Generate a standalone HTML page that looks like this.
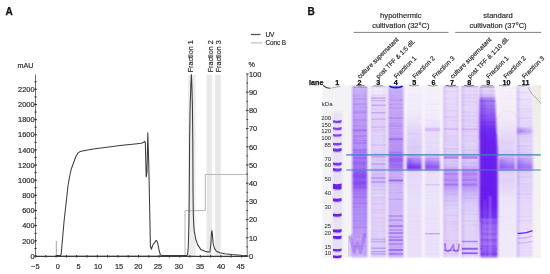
<!DOCTYPE html>
<html><head><meta charset="utf-8"><style>
html,body{margin:0;padding:0;background:#fff;}
body{width:550px;height:274px;overflow:hidden;position:relative;}
svg{position:absolute;left:0;top:0;}
svg text{font-family:'Liberation Sans', Arial, sans-serif;}
.t{fill:#2a2a2a;stroke:#2a2a2a;stroke-width:0.18px;}
.b{fill:#111;stroke:#111;stroke-width:0.25px;}
</style></head><body>
<svg width="550" height="274" viewBox="0 0 550 274">
<defs>
<filter id="bl" x="-20%" y="-200%" width="140%" height="500%"><feGaussianBlur stdDeviation="0.55 0.6"/></filter>
<filter id="bl2" x="-20%" y="-20%" width="140%" height="140%"><feGaussianBlur stdDeviation="0.9"/></filter>
<filter id="bl3" x="-30%" y="-60%" width="160%" height="220%"><feGaussianBlur stdDeviation="1.0 1.3"/></filter>
<linearGradient id="vb" x1="0" y1="0" x2="0" y2="1"><stop offset="0" stop-color="rgb(105,30,238)" stop-opacity="0.25"/><stop offset="0.45" stop-color="rgb(105,30,238)" stop-opacity="0.6"/><stop offset="0.8" stop-color="rgb(100,25,238)" stop-opacity="1"/><stop offset="1" stop-color="rgb(100,25,238)" stop-opacity="0.85"/></linearGradient>
<linearGradient id="hb" x1="0" y1="0" x2="1" y2="0"><stop offset="0" stop-color="rgb(90,20,235)" stop-opacity="1"/><stop offset="1" stop-color="rgb(90,20,235)" stop-opacity="0"/></linearGradient>
<linearGradient id="rg" x1="0" y1="0" x2="0" y2="1"><stop offset="0" stop-color="#eeebe2"/><stop offset="0.35" stop-color="#f3f1ee"/><stop offset="1" stop-color="#f6f3f5"/></linearGradient>
<linearGradient id="hg" x1="0" y1="0" x2="1" y2="0"><stop offset="0" stop-color="rgb(95,25,235)" stop-opacity="1"/><stop offset="0.55" stop-color="rgb(105,30,238)" stop-opacity="0.8"/><stop offset="1" stop-color="rgb(115,45,238)" stop-opacity="0.55"/></linearGradient>
<linearGradient id="g2" x1="0" y1="85.3" x2="0" y2="257.8" gradientUnits="userSpaceOnUse">
<stop offset="0.0070" stop-color="rgb(105, 30, 238)" stop-opacity="0.3"/>
<stop offset="0.0562" stop-color="rgb(105, 30, 238)" stop-opacity="0.34"/>
<stop offset="0.1432" stop-color="rgb(105, 30, 238)" stop-opacity="0.37"/>
<stop offset="0.2591" stop-color="rgb(105, 30, 238)" stop-opacity="0.42"/>
<stop offset="0.3461" stop-color="rgb(105, 30, 238)" stop-opacity="0.47"/>
<stop offset="0.4041" stop-color="rgb(105, 30, 238)" stop-opacity="0.56"/>
<stop offset="0.4794" stop-color="rgb(105, 30, 238)" stop-opacity="0.6"/>
<stop offset="0.5084" stop-color="rgb(105, 30, 238)" stop-opacity="0.74"/>
<stop offset="0.5780" stop-color="rgb(105, 30, 238)" stop-opacity="0.72"/>
<stop offset="0.6186" stop-color="rgb(105, 30, 238)" stop-opacity="0.58"/>
<stop offset="0.6939" stop-color="rgb(105, 30, 238)" stop-opacity="0.5"/>
<stop offset="0.8099" stop-color="rgb(105, 30, 238)" stop-opacity="0.45"/>
<stop offset="0.8794" stop-color="rgb(105, 30, 238)" stop-opacity="0.38"/>
<stop offset="0.9954" stop-color="rgb(105, 30, 238)" stop-opacity="0.32"/>
</linearGradient>
<linearGradient id="g3" x1="0" y1="85.3" x2="0" y2="257.8" gradientUnits="userSpaceOnUse">
<stop offset="0.0070" stop-color="rgb(105, 30, 238)" stop-opacity="0.03"/>
<stop offset="0.0504" stop-color="rgb(105, 30, 238)" stop-opacity="0.05"/>
<stop offset="0.0736" stop-color="rgb(105, 30, 238)" stop-opacity="0.13"/>
<stop offset="0.2012" stop-color="rgb(105, 30, 238)" stop-opacity="0.15"/>
<stop offset="0.3751" stop-color="rgb(105, 30, 238)" stop-opacity="0.17"/>
<stop offset="0.4620" stop-color="rgb(105, 30, 238)" stop-opacity="0.22"/>
<stop offset="0.5490" stop-color="rgb(105, 30, 238)" stop-opacity="0.25"/>
<stop offset="0.6359" stop-color="rgb(105, 30, 238)" stop-opacity="0.16"/>
<stop offset="0.8388" stop-color="rgb(105, 30, 238)" stop-opacity="0.15"/>
<stop offset="0.9954" stop-color="rgb(105, 30, 238)" stop-opacity="0.2"/>
</linearGradient>
<linearGradient id="g4" x1="0" y1="85.3" x2="0" y2="257.8" gradientUnits="userSpaceOnUse">
<stop offset="0.0070" stop-color="rgb(105, 30, 238)" stop-opacity="0.3"/>
<stop offset="0.0562" stop-color="rgb(105, 30, 238)" stop-opacity="0.34"/>
<stop offset="0.2012" stop-color="rgb(105, 30, 238)" stop-opacity="0.37"/>
<stop offset="0.2881" stop-color="rgb(105, 30, 238)" stop-opacity="0.4"/>
<stop offset="0.3751" stop-color="rgb(105, 30, 238)" stop-opacity="0.45"/>
<stop offset="0.4099" stop-color="rgb(105, 30, 238)" stop-opacity="0.6"/>
<stop offset="0.4794" stop-color="rgb(105, 30, 238)" stop-opacity="0.62"/>
<stop offset="0.4968" stop-color="rgb(105, 30, 238)" stop-opacity="0.34"/>
<stop offset="0.6070" stop-color="rgb(105, 30, 238)" stop-opacity="0.27"/>
<stop offset="0.7519" stop-color="rgb(105, 30, 238)" stop-opacity="0.28"/>
<stop offset="0.9954" stop-color="rgb(105, 30, 238)" stop-opacity="0.34"/>
</linearGradient>
<linearGradient id="g5" x1="0" y1="85.3" x2="0" y2="257.8" gradientUnits="userSpaceOnUse">
<stop offset="0.0070" stop-color="rgb(105, 30, 238)" stop-opacity="0.02"/>
<stop offset="0.1432" stop-color="rgb(105, 30, 238)" stop-opacity="0.04"/>
<stop offset="0.2128" stop-color="rgb(105, 30, 238)" stop-opacity="0.08"/>
<stop offset="0.2881" stop-color="rgb(105, 30, 238)" stop-opacity="0.16"/>
<stop offset="0.3635" stop-color="rgb(105, 30, 238)" stop-opacity="0.2"/>
<stop offset="0.3983" stop-color="rgb(105, 30, 238)" stop-opacity="0.2"/>
<stop offset="0.5026" stop-color="rgb(105, 30, 238)" stop-opacity="0.12"/>
<stop offset="0.6649" stop-color="rgb(105, 30, 238)" stop-opacity="0.09"/>
<stop offset="0.9954" stop-color="rgb(105, 30, 238)" stop-opacity="0.09"/>
</linearGradient>
<linearGradient id="g6" x1="0" y1="85.3" x2="0" y2="257.8" gradientUnits="userSpaceOnUse">
<stop offset="0.0070" stop-color="rgb(105, 30, 238)" stop-opacity="0.02"/>
<stop offset="0.1722" stop-color="rgb(105, 30, 238)" stop-opacity="0.03"/>
<stop offset="0.2301" stop-color="rgb(105, 30, 238)" stop-opacity="0.08"/>
<stop offset="0.2881" stop-color="rgb(105, 30, 238)" stop-opacity="0.1"/>
<stop offset="0.3461" stop-color="rgb(105, 30, 238)" stop-opacity="0.1"/>
<stop offset="0.3925" stop-color="rgb(105, 30, 238)" stop-opacity="0.12"/>
<stop offset="0.5026" stop-color="rgb(105, 30, 238)" stop-opacity="0.09"/>
<stop offset="0.6649" stop-color="rgb(105, 30, 238)" stop-opacity="0.07"/>
<stop offset="0.9954" stop-color="rgb(105, 30, 238)" stop-opacity="0.09"/>
</linearGradient>
<linearGradient id="g7" x1="0" y1="85.3" x2="0" y2="257.8" gradientUnits="userSpaceOnUse">
<stop offset="0.0070" stop-color="rgb(105, 30, 238)" stop-opacity="0.1"/>
<stop offset="0.1432" stop-color="rgb(105, 30, 238)" stop-opacity="0.12"/>
<stop offset="0.3171" stop-color="rgb(105, 30, 238)" stop-opacity="0.14"/>
<stop offset="0.4041" stop-color="rgb(105, 30, 238)" stop-opacity="0.18"/>
<stop offset="0.4620" stop-color="rgb(105, 30, 238)" stop-opacity="0.22"/>
<stop offset="0.4968" stop-color="rgb(105, 30, 238)" stop-opacity="0.42"/>
<stop offset="0.5838" stop-color="rgb(105, 30, 238)" stop-opacity="0.42"/>
<stop offset="0.6243" stop-color="rgb(105, 30, 238)" stop-opacity="0.28"/>
<stop offset="0.6939" stop-color="rgb(105, 30, 238)" stop-opacity="0.18"/>
<stop offset="0.7809" stop-color="rgb(105, 30, 238)" stop-opacity="0.14"/>
<stop offset="0.9954" stop-color="rgb(105, 30, 238)" stop-opacity="0.14"/>
</linearGradient>
<linearGradient id="g8" x1="0" y1="85.3" x2="0" y2="257.8" gradientUnits="userSpaceOnUse">
<stop offset="0.0070" stop-color="rgb(105, 30, 238)" stop-opacity="0.11"/>
<stop offset="0.1432" stop-color="rgb(105, 30, 238)" stop-opacity="0.13"/>
<stop offset="0.3171" stop-color="rgb(105, 30, 238)" stop-opacity="0.15"/>
<stop offset="0.4041" stop-color="rgb(105, 30, 238)" stop-opacity="0.2"/>
<stop offset="0.4620" stop-color="rgb(105, 30, 238)" stop-opacity="0.24"/>
<stop offset="0.4968" stop-color="rgb(105, 30, 238)" stop-opacity="0.44"/>
<stop offset="0.5838" stop-color="rgb(105, 30, 238)" stop-opacity="0.44"/>
<stop offset="0.6243" stop-color="rgb(105, 30, 238)" stop-opacity="0.3"/>
<stop offset="0.6939" stop-color="rgb(105, 30, 238)" stop-opacity="0.2"/>
<stop offset="0.7809" stop-color="rgb(105, 30, 238)" stop-opacity="0.16"/>
<stop offset="0.9954" stop-color="rgb(105, 30, 238)" stop-opacity="0.18"/>
</linearGradient>
<linearGradient id="g9" x1="0" y1="85.3" x2="0" y2="257.8" gradientUnits="userSpaceOnUse">
<stop offset="0.0070" stop-color="rgb(105, 30, 238)" stop-opacity="0.12"/>
<stop offset="0.0388" stop-color="rgb(105, 30, 238)" stop-opacity="0.14"/>
<stop offset="0.0620" stop-color="rgb(105, 30, 238)" stop-opacity="0.25"/>
<stop offset="0.0794" stop-color="rgb(105, 30, 238)" stop-opacity="0.5"/>
<stop offset="0.1142" stop-color="rgb(105, 30, 238)" stop-opacity="0.6"/>
<stop offset="0.1548" stop-color="rgb(105, 30, 238)" stop-opacity="0.68"/>
<stop offset="0.2012" stop-color="rgb(105, 30, 238)" stop-opacity="0.8"/>
<stop offset="0.2475" stop-color="rgb(105, 30, 238)" stop-opacity="0.92"/>
<stop offset="0.3171" stop-color="rgb(105, 30, 238)" stop-opacity="0.98"/>
<stop offset="0.6939" stop-color="rgb(105, 30, 238)" stop-opacity="1.0"/>
<stop offset="0.7519" stop-color="rgb(105, 30, 238)" stop-opacity="0.92"/>
<stop offset="0.8041" stop-color="rgb(105, 30, 238)" stop-opacity="0.78"/>
<stop offset="0.8968" stop-color="rgb(105, 30, 238)" stop-opacity="0.72"/>
<stop offset="0.9374" stop-color="rgb(105, 30, 238)" stop-opacity="0.78"/>
<stop offset="0.9954" stop-color="rgb(105, 30, 238)" stop-opacity="0.8"/>
</linearGradient>
<linearGradient id="g10" x1="0" y1="85.3" x2="0" y2="257.8" gradientUnits="userSpaceOnUse">
<stop offset="0.0070" stop-color="rgb(105, 30, 238)" stop-opacity="0.02"/>
<stop offset="0.1722" stop-color="rgb(105, 30, 238)" stop-opacity="0.03"/>
<stop offset="0.2591" stop-color="rgb(105, 30, 238)" stop-opacity="0.09"/>
<stop offset="0.3461" stop-color="rgb(105, 30, 238)" stop-opacity="0.16"/>
<stop offset="0.4041" stop-color="rgb(105, 30, 238)" stop-opacity="0.2"/>
<stop offset="0.5026" stop-color="rgb(105, 30, 238)" stop-opacity="0.18"/>
<stop offset="0.5780" stop-color="rgb(105, 30, 238)" stop-opacity="0.13"/>
<stop offset="0.6649" stop-color="rgb(105, 30, 238)" stop-opacity="0.07"/>
<stop offset="0.8388" stop-color="rgb(105, 30, 238)" stop-opacity="0.05"/>
<stop offset="0.9954" stop-color="rgb(105, 30, 238)" stop-opacity="0.05"/>
</linearGradient>
<linearGradient id="g11" x1="0" y1="85.3" x2="0" y2="257.8" gradientUnits="userSpaceOnUse">
<stop offset="0.0070" stop-color="rgb(105, 30, 238)" stop-opacity="0.06"/>
<stop offset="0.1432" stop-color="rgb(105, 30, 238)" stop-opacity="0.1"/>
<stop offset="0.3171" stop-color="rgb(105, 30, 238)" stop-opacity="0.15"/>
<stop offset="0.4041" stop-color="rgb(105, 30, 238)" stop-opacity="0.2"/>
<stop offset="0.5200" stop-color="rgb(105, 30, 238)" stop-opacity="0.18"/>
<stop offset="0.6649" stop-color="rgb(105, 30, 238)" stop-opacity="0.12"/>
<stop offset="0.8388" stop-color="rgb(105, 30, 238)" stop-opacity="0.1"/>
<stop offset="0.9954" stop-color="rgb(105, 30, 238)" stop-opacity="0.1"/>
</linearGradient>
</defs>
<rect x="322.6" y="85.3" width="218.39999999999998" height="172.5" fill="#f7f5fa"/>
<rect x="322.6" y="85.3" width="27.399999999999977" height="172.5" fill="#f3f2f5"/>
<rect x="533.5" y="85.3" width="7.5" height="172.5" fill="url(#rg)"/>
<g filter="url(#bl2)">
<rect x="332.6" y="112" width="9.6" height="144.8" fill="rgb(105, 30, 238)" fill-opacity="0.07"/>
<rect x="352.5" y="86.3" width="14.699999999999989" height="170.9" fill="url(#g2)"/>
<rect x="352.5" y="86.8" width="1.6" height="170.3" fill="rgb(105, 30, 238)" fill-opacity="0.25"/>
<rect x="365.59999999999997" y="86.8" width="1.6" height="170.3" fill="rgb(105, 30, 238)" fill-opacity="0.2"/>
<rect x="371.0" y="86.3" width="14.899999999999977" height="170.9" fill="url(#g3)"/>
<rect x="371.0" y="86.8" width="1.6" height="170.3" fill="rgb(105, 30, 238)" fill-opacity="0.08"/>
<rect x="384.29999999999995" y="86.8" width="1.6" height="170.3" fill="rgb(105, 30, 238)" fill-opacity="0.08"/>
<rect x="388.4" y="86.3" width="15.0" height="170.9" fill="url(#g4)"/>
<rect x="388.4" y="86.8" width="1.6" height="170.3" fill="rgb(105, 30, 238)" fill-opacity="0.12"/>
<rect x="401.79999999999995" y="86.8" width="1.6" height="170.3" fill="rgb(105, 30, 238)" fill-opacity="0.08"/>
<rect x="406.6" y="86.3" width="15.399999999999977" height="170.9" fill="url(#g5)"/>
<rect x="424.6" y="86.3" width="15.599999999999966" height="170.9" fill="url(#g6)"/>
<rect x="443.6" y="86.3" width="15.0" height="170.9" fill="url(#g7)"/>
<rect x="443.6" y="86.8" width="1.6" height="170.3" fill="rgb(105, 30, 238)" fill-opacity="0.2"/>
<rect x="457.0" y="86.8" width="1.6" height="170.3" fill="rgb(105, 30, 238)" fill-opacity="0.12"/>
<rect x="461.6" y="86.3" width="16.399999999999977" height="170.9" fill="url(#g8)"/>
<rect x="461.6" y="86.8" width="1.6" height="170.3" fill="rgb(105, 30, 238)" fill-opacity="0.22"/>
<rect x="476.4" y="86.8" width="1.6" height="170.3" fill="rgb(105, 30, 238)" fill-opacity="0.08"/>
<polygon points="479.6,86.3 494.6,86.3 497.8,150 497.9,205 497.6,257.2 480.4,257.2 479.3,205 479.3,150" fill="url(#g9)"/>
<rect x="479.8" y="86.8" width="1.6" height="170.3" fill="rgb(105, 30, 238)" fill-opacity="0.3"/>
<rect x="498.6" y="86.3" width="16.799999999999955" height="170.9" fill="url(#g10)"/>
<rect x="517.0" y="86.3" width="15.799999999999955" height="170.9" fill="url(#g11)"/>
<rect x="517.0" y="86.8" width="1.6" height="170.3" fill="rgb(105, 30, 238)" fill-opacity="0.3"/>
</g>
<g filter="url(#bl)">
<rect x="352.9" y="87.3" width="7.1" height="1.2" fill="rgb(105, 30, 238)" fill-opacity="0.02"/>
<rect x="359.8" y="87.3" width="7.1" height="1.2" fill="rgb(105, 30, 238)" fill-opacity="0.01"/>
<rect x="352.9" y="90.3" width="7.1" height="1.2" fill="rgb(105, 30, 238)" fill-opacity="0.01"/>
<rect x="359.8" y="90.3" width="7.1" height="1.2" fill="rgb(105, 30, 238)" fill-opacity="0.00"/>
<rect x="352.9" y="93.3" width="7.1" height="1.0" fill="rgb(105, 30, 238)" fill-opacity="0.01"/>
<rect x="359.8" y="93.3" width="7.1" height="1.0" fill="rgb(105, 30, 238)" fill-opacity="0.01"/>
<rect x="352.9" y="95.4" width="7.1" height="1.1" fill="rgb(105, 30, 238)" fill-opacity="0.09"/>
<rect x="359.8" y="95.4" width="7.1" height="1.1" fill="rgb(105, 30, 238)" fill-opacity="0.07"/>
<rect x="352.9" y="98.2" width="7.1" height="1.8" fill="rgb(105, 30, 238)" fill-opacity="0.01"/>
<rect x="359.8" y="98.2" width="7.1" height="1.8" fill="rgb(105, 30, 238)" fill-opacity="0.00"/>
<rect x="352.9" y="101.2" width="7.1" height="1.0" fill="rgb(105, 30, 238)" fill-opacity="0.04"/>
<rect x="359.8" y="101.2" width="7.1" height="1.0" fill="rgb(105, 30, 238)" fill-opacity="0.02"/>
<rect x="352.9" y="104.1" width="7.1" height="1.5" fill="rgb(105, 30, 238)" fill-opacity="0.04"/>
<rect x="359.8" y="104.1" width="7.1" height="1.5" fill="rgb(105, 30, 238)" fill-opacity="0.02"/>
<rect x="352.9" y="106.7" width="7.1" height="1.1" fill="rgb(105, 30, 238)" fill-opacity="0.06"/>
<rect x="359.8" y="106.7" width="7.1" height="1.1" fill="rgb(105, 30, 238)" fill-opacity="0.06"/>
<rect x="352.9" y="109.7" width="7.1" height="1.3" fill="rgb(105, 30, 238)" fill-opacity="0.04"/>
<rect x="359.8" y="109.7" width="7.1" height="1.3" fill="rgb(105, 30, 238)" fill-opacity="0.04"/>
<rect x="352.9" y="112.4" width="7.1" height="1.4" fill="rgb(105, 30, 238)" fill-opacity="0.07"/>
<rect x="359.8" y="112.4" width="7.1" height="1.4" fill="rgb(105, 30, 238)" fill-opacity="0.06"/>
<rect x="352.9" y="115.3" width="7.1" height="1.8" fill="rgb(105, 30, 238)" fill-opacity="0.01"/>
<rect x="359.8" y="115.3" width="7.1" height="1.8" fill="rgb(105, 30, 238)" fill-opacity="0.01"/>
<rect x="352.9" y="118.3" width="7.1" height="1.3" fill="rgb(105, 30, 238)" fill-opacity="0.00"/>
<rect x="359.8" y="118.3" width="7.1" height="1.3" fill="rgb(105, 30, 238)" fill-opacity="0.00"/>
<rect x="352.9" y="121.6" width="7.1" height="1.7" fill="rgb(105, 30, 238)" fill-opacity="0.04"/>
<rect x="359.8" y="121.6" width="7.1" height="1.7" fill="rgb(105, 30, 238)" fill-opacity="0.03"/>
<rect x="352.9" y="125.2" width="7.1" height="1.3" fill="rgb(105, 30, 238)" fill-opacity="0.12"/>
<rect x="359.8" y="125.2" width="7.1" height="1.3" fill="rgb(105, 30, 238)" fill-opacity="0.08"/>
<rect x="352.9" y="128.6" width="7.1" height="1.0" fill="rgb(105, 30, 238)" fill-opacity="0.08"/>
<rect x="359.8" y="128.6" width="7.1" height="1.0" fill="rgb(105, 30, 238)" fill-opacity="0.10"/>
<rect x="352.9" y="131.8" width="7.1" height="1.2" fill="rgb(105, 30, 238)" fill-opacity="0.05"/>
<rect x="359.8" y="131.8" width="7.1" height="1.2" fill="rgb(105, 30, 238)" fill-opacity="0.02"/>
<rect x="352.9" y="134.7" width="7.1" height="1.1" fill="rgb(105, 30, 238)" fill-opacity="0.01"/>
<rect x="359.8" y="134.7" width="7.1" height="1.1" fill="rgb(105, 30, 238)" fill-opacity="0.01"/>
<rect x="352.9" y="137.0" width="7.1" height="1.1" fill="rgb(105, 30, 238)" fill-opacity="0.05"/>
<rect x="359.8" y="137.0" width="7.1" height="1.1" fill="rgb(105, 30, 238)" fill-opacity="0.02"/>
<rect x="352.9" y="139.8" width="7.1" height="1.4" fill="rgb(105, 30, 238)" fill-opacity="0.12"/>
<rect x="359.8" y="139.8" width="7.1" height="1.4" fill="rgb(105, 30, 238)" fill-opacity="0.12"/>
<rect x="352.9" y="142.7" width="7.1" height="1.3" fill="rgb(105, 30, 238)" fill-opacity="0.05"/>
<rect x="359.8" y="142.7" width="7.1" height="1.3" fill="rgb(105, 30, 238)" fill-opacity="0.05"/>
<rect x="352.9" y="145.2" width="7.1" height="1.1" fill="rgb(105, 30, 238)" fill-opacity="0.02"/>
<rect x="359.8" y="145.2" width="7.1" height="1.1" fill="rgb(105, 30, 238)" fill-opacity="0.02"/>
<rect x="352.9" y="148.2" width="7.1" height="1.1" fill="rgb(105, 30, 238)" fill-opacity="0.00"/>
<rect x="359.8" y="148.2" width="7.1" height="1.1" fill="rgb(105, 30, 238)" fill-opacity="0.00"/>
<rect x="352.9" y="151.2" width="7.1" height="1.8" fill="rgb(105, 30, 238)" fill-opacity="0.07"/>
<rect x="359.8" y="151.2" width="7.1" height="1.8" fill="rgb(105, 30, 238)" fill-opacity="0.08"/>
<rect x="352.9" y="155.1" width="7.1" height="0.9" fill="rgb(105, 30, 238)" fill-opacity="0.12"/>
<rect x="359.8" y="155.1" width="7.1" height="0.9" fill="rgb(105, 30, 238)" fill-opacity="0.12"/>
<rect x="352.9" y="158.3" width="7.1" height="1.3" fill="rgb(105, 30, 238)" fill-opacity="0.02"/>
<rect x="359.8" y="158.3" width="7.1" height="1.3" fill="rgb(105, 30, 238)" fill-opacity="0.05"/>
<rect x="352.9" y="160.6" width="7.1" height="1.0" fill="rgb(105, 30, 238)" fill-opacity="0.01"/>
<rect x="359.8" y="160.6" width="7.1" height="1.0" fill="rgb(105, 30, 238)" fill-opacity="0.02"/>
<rect x="352.9" y="162.7" width="7.1" height="0.9" fill="rgb(105, 30, 238)" fill-opacity="0.01"/>
<rect x="359.8" y="162.7" width="7.1" height="0.9" fill="rgb(105, 30, 238)" fill-opacity="0.01"/>
<rect x="352.9" y="164.6" width="7.1" height="1.7" fill="rgb(105, 30, 238)" fill-opacity="0.04"/>
<rect x="359.8" y="164.6" width="7.1" height="1.7" fill="rgb(105, 30, 238)" fill-opacity="0.05"/>
<rect x="352.9" y="167.9" width="7.1" height="1.2" fill="rgb(105, 30, 238)" fill-opacity="0.02"/>
<rect x="359.8" y="167.9" width="7.1" height="1.2" fill="rgb(105, 30, 238)" fill-opacity="0.02"/>
<rect x="352.9" y="170.8" width="7.1" height="1.3" fill="rgb(105, 30, 238)" fill-opacity="0.01"/>
<rect x="359.8" y="170.8" width="7.1" height="1.3" fill="rgb(105, 30, 238)" fill-opacity="0.01"/>
<rect x="352.9" y="173.6" width="7.1" height="1.6" fill="rgb(105, 30, 238)" fill-opacity="0.01"/>
<rect x="359.8" y="173.6" width="7.1" height="1.6" fill="rgb(105, 30, 238)" fill-opacity="0.02"/>
<rect x="352.9" y="177.1" width="7.1" height="1.0" fill="rgb(105, 30, 238)" fill-opacity="0.03"/>
<rect x="359.8" y="177.1" width="7.1" height="1.0" fill="rgb(105, 30, 238)" fill-opacity="0.06"/>
<rect x="352.9" y="180.7" width="7.1" height="1.7" fill="rgb(105, 30, 238)" fill-opacity="0.05"/>
<rect x="359.8" y="180.7" width="7.1" height="1.7" fill="rgb(105, 30, 238)" fill-opacity="0.06"/>
<rect x="352.9" y="183.6" width="7.1" height="1.6" fill="rgb(105, 30, 238)" fill-opacity="0.07"/>
<rect x="359.8" y="183.6" width="7.1" height="1.6" fill="rgb(105, 30, 238)" fill-opacity="0.04"/>
<rect x="352.9" y="186.6" width="7.1" height="1.6" fill="rgb(105, 30, 238)" fill-opacity="0.13"/>
<rect x="359.8" y="186.6" width="7.1" height="1.6" fill="rgb(105, 30, 238)" fill-opacity="0.13"/>
<rect x="352.9" y="190.5" width="7.1" height="1.6" fill="rgb(105, 30, 238)" fill-opacity="0.02"/>
<rect x="359.8" y="190.5" width="7.1" height="1.6" fill="rgb(105, 30, 238)" fill-opacity="0.02"/>
<rect x="352.9" y="193.1" width="7.1" height="0.9" fill="rgb(105, 30, 238)" fill-opacity="0.02"/>
<rect x="359.8" y="193.1" width="7.1" height="0.9" fill="rgb(105, 30, 238)" fill-opacity="0.03"/>
<rect x="352.9" y="196.6" width="7.1" height="1.3" fill="rgb(105, 30, 238)" fill-opacity="0.14"/>
<rect x="359.8" y="196.6" width="7.1" height="1.3" fill="rgb(105, 30, 238)" fill-opacity="0.14"/>
<rect x="352.9" y="199.5" width="7.1" height="1.1" fill="rgb(105, 30, 238)" fill-opacity="0.02"/>
<rect x="359.8" y="199.5" width="7.1" height="1.1" fill="rgb(105, 30, 238)" fill-opacity="0.02"/>
<rect x="352.9" y="202.6" width="7.1" height="1.7" fill="rgb(105, 30, 238)" fill-opacity="0.08"/>
<rect x="359.8" y="202.6" width="7.1" height="1.7" fill="rgb(105, 30, 238)" fill-opacity="0.10"/>
<rect x="352.9" y="206.6" width="7.1" height="1.0" fill="rgb(105, 30, 238)" fill-opacity="0.09"/>
<rect x="359.8" y="206.6" width="7.1" height="1.0" fill="rgb(105, 30, 238)" fill-opacity="0.08"/>
<rect x="352.9" y="209.7" width="7.1" height="1.3" fill="rgb(105, 30, 238)" fill-opacity="0.02"/>
<rect x="359.8" y="209.7" width="7.1" height="1.3" fill="rgb(105, 30, 238)" fill-opacity="0.01"/>
<rect x="352.9" y="213.3" width="7.1" height="1.8" fill="rgb(105, 30, 238)" fill-opacity="0.04"/>
<rect x="359.8" y="213.3" width="7.1" height="1.8" fill="rgb(105, 30, 238)" fill-opacity="0.06"/>
<rect x="352.9" y="217.3" width="7.1" height="1.1" fill="rgb(105, 30, 238)" fill-opacity="0.01"/>
<rect x="359.8" y="217.3" width="7.1" height="1.1" fill="rgb(105, 30, 238)" fill-opacity="0.02"/>
<rect x="352.9" y="220.6" width="7.1" height="1.0" fill="rgb(105, 30, 238)" fill-opacity="0.12"/>
<rect x="359.8" y="220.6" width="7.1" height="1.0" fill="rgb(105, 30, 238)" fill-opacity="0.10"/>
<rect x="352.9" y="223.2" width="7.1" height="1.4" fill="rgb(105, 30, 238)" fill-opacity="0.01"/>
<rect x="359.8" y="223.2" width="7.1" height="1.4" fill="rgb(105, 30, 238)" fill-opacity="0.02"/>
<rect x="352.9" y="226.7" width="7.1" height="1.4" fill="rgb(105, 30, 238)" fill-opacity="0.09"/>
<rect x="359.8" y="226.7" width="7.1" height="1.4" fill="rgb(105, 30, 238)" fill-opacity="0.13"/>
<rect x="352.9" y="230.3" width="7.1" height="1.1" fill="rgb(105, 30, 238)" fill-opacity="0.02"/>
<rect x="359.8" y="230.3" width="7.1" height="1.1" fill="rgb(105, 30, 238)" fill-opacity="0.02"/>
<rect x="352.9" y="233.4" width="7.1" height="1.1" fill="rgb(105, 30, 238)" fill-opacity="0.03"/>
<rect x="359.8" y="233.4" width="7.1" height="1.1" fill="rgb(105, 30, 238)" fill-opacity="0.06"/>
<rect x="352.9" y="236.1" width="7.1" height="1.3" fill="rgb(105, 30, 238)" fill-opacity="0.08"/>
<rect x="359.8" y="236.1" width="7.1" height="1.3" fill="rgb(105, 30, 238)" fill-opacity="0.05"/>
<rect x="352.9" y="239.9" width="7.1" height="1.4" fill="rgb(105, 30, 238)" fill-opacity="0.05"/>
<rect x="359.8" y="239.9" width="7.1" height="1.4" fill="rgb(105, 30, 238)" fill-opacity="0.03"/>
<rect x="352.9" y="242.9" width="7.1" height="1.1" fill="rgb(105, 30, 238)" fill-opacity="0.00"/>
<rect x="359.8" y="242.9" width="7.1" height="1.1" fill="rgb(105, 30, 238)" fill-opacity="0.00"/>
<rect x="352.9" y="245.7" width="7.1" height="1.6" fill="rgb(105, 30, 238)" fill-opacity="0.05"/>
<rect x="359.8" y="245.7" width="7.1" height="1.6" fill="rgb(105, 30, 238)" fill-opacity="0.06"/>
<rect x="352.9" y="249.2" width="7.1" height="1.6" fill="rgb(105, 30, 238)" fill-opacity="0.01"/>
<rect x="359.8" y="249.2" width="7.1" height="1.6" fill="rgb(105, 30, 238)" fill-opacity="0.01"/>
<rect x="352.9" y="252.2" width="7.1" height="1.6" fill="rgb(105, 30, 238)" fill-opacity="0.05"/>
<rect x="359.8" y="252.2" width="7.1" height="1.6" fill="rgb(105, 30, 238)" fill-opacity="0.06"/>
<rect x="352.8" y="86.75" width="14.1" height="0.9" fill="rgb(90, 90, 110)" fill-opacity="0.5"/>
<rect x="352.8" y="98.25" width="14.1" height="1.5" fill="rgb(105, 30, 238)" fill-opacity="0.12"/>
<rect x="352.8" y="103.25" width="14.1" height="1.5" fill="rgb(105, 30, 238)" fill-opacity="0.12"/>
<rect x="352.8" y="111.25" width="14.1" height="1.5" fill="rgb(105, 30, 238)" fill-opacity="0.15"/>
<rect x="352.8" y="119.25" width="14.1" height="1.5" fill="rgb(105, 30, 238)" fill-opacity="0.15"/>
<rect x="352.8" y="129.70" width="14.1" height="1.6" fill="rgb(105, 30, 238)" fill-opacity="0.3"/>
<rect x="352.8" y="135.25" width="14.1" height="1.5" fill="rgb(105, 30, 238)" fill-opacity="0.15"/>
<rect x="352.8" y="142.25" width="14.1" height="1.5" fill="rgb(105, 30, 238)" fill-opacity="0.2"/>
<rect x="352.8" y="149.00" width="14.1" height="2" fill="rgb(105, 30, 238)" fill-opacity="0.15"/>
<rect x="352.8" y="157.00" width="14.1" height="2" fill="rgb(105, 30, 238)" fill-opacity="0.2"/>
<rect x="352.8" y="161.50" width="14.1" height="3" fill="rgb(105, 30, 238)" fill-opacity="0.2"/>
<rect x="352.8" y="174.50" width="14.1" height="3" fill="rgb(105, 30, 238)" fill-opacity="0.2"/>
<rect x="352.8" y="182.00" width="14.1" height="2" fill="rgb(105, 30, 238)" fill-opacity="0.15"/>
<rect x="371.4" y="87.3" width="7.2" height="1.3" fill="rgb(105, 30, 238)" fill-opacity="0.03"/>
<rect x="378.4" y="87.3" width="7.2" height="1.3" fill="rgb(105, 30, 238)" fill-opacity="0.03"/>
<rect x="371.4" y="90.7" width="7.2" height="1.3" fill="rgb(105, 30, 238)" fill-opacity="0.03"/>
<rect x="378.4" y="90.7" width="7.2" height="1.3" fill="rgb(105, 30, 238)" fill-opacity="0.04"/>
<rect x="371.4" y="94.1" width="7.2" height="1.7" fill="rgb(105, 30, 238)" fill-opacity="0.04"/>
<rect x="378.4" y="94.1" width="7.2" height="1.7" fill="rgb(105, 30, 238)" fill-opacity="0.05"/>
<rect x="371.4" y="98.3" width="7.2" height="1.7" fill="rgb(105, 30, 238)" fill-opacity="0.00"/>
<rect x="378.4" y="98.3" width="7.2" height="1.7" fill="rgb(105, 30, 238)" fill-opacity="0.01"/>
<rect x="371.4" y="101.1" width="7.2" height="1.1" fill="rgb(105, 30, 238)" fill-opacity="0.00"/>
<rect x="378.4" y="101.1" width="7.2" height="1.1" fill="rgb(105, 30, 238)" fill-opacity="0.00"/>
<rect x="371.4" y="104.7" width="7.2" height="1.0" fill="rgb(105, 30, 238)" fill-opacity="0.04"/>
<rect x="378.4" y="104.7" width="7.2" height="1.0" fill="rgb(105, 30, 238)" fill-opacity="0.02"/>
<rect x="371.4" y="108.1" width="7.2" height="1.8" fill="rgb(105, 30, 238)" fill-opacity="0.02"/>
<rect x="378.4" y="108.1" width="7.2" height="1.8" fill="rgb(105, 30, 238)" fill-opacity="0.01"/>
<rect x="371.4" y="111.7" width="7.2" height="1.8" fill="rgb(105, 30, 238)" fill-opacity="0.03"/>
<rect x="378.4" y="111.7" width="7.2" height="1.8" fill="rgb(105, 30, 238)" fill-opacity="0.04"/>
<rect x="371.4" y="115.3" width="7.2" height="1.2" fill="rgb(105, 30, 238)" fill-opacity="0.01"/>
<rect x="378.4" y="115.3" width="7.2" height="1.2" fill="rgb(105, 30, 238)" fill-opacity="0.01"/>
<rect x="371.4" y="117.5" width="7.2" height="1.4" fill="rgb(105, 30, 238)" fill-opacity="0.01"/>
<rect x="378.4" y="117.5" width="7.2" height="1.4" fill="rgb(105, 30, 238)" fill-opacity="0.02"/>
<rect x="371.4" y="120.9" width="7.2" height="1.4" fill="rgb(105, 30, 238)" fill-opacity="0.00"/>
<rect x="378.4" y="120.9" width="7.2" height="1.4" fill="rgb(105, 30, 238)" fill-opacity="0.00"/>
<rect x="371.4" y="124.8" width="7.2" height="1.0" fill="rgb(105, 30, 238)" fill-opacity="0.01"/>
<rect x="378.4" y="124.8" width="7.2" height="1.0" fill="rgb(105, 30, 238)" fill-opacity="0.02"/>
<rect x="371.4" y="127.2" width="7.2" height="1.0" fill="rgb(105, 30, 238)" fill-opacity="0.03"/>
<rect x="378.4" y="127.2" width="7.2" height="1.0" fill="rgb(105, 30, 238)" fill-opacity="0.03"/>
<rect x="371.4" y="129.7" width="7.2" height="1.0" fill="rgb(105, 30, 238)" fill-opacity="0.05"/>
<rect x="378.4" y="129.7" width="7.2" height="1.0" fill="rgb(105, 30, 238)" fill-opacity="0.06"/>
<rect x="371.4" y="131.9" width="7.2" height="1.0" fill="rgb(105, 30, 238)" fill-opacity="0.03"/>
<rect x="378.4" y="131.9" width="7.2" height="1.0" fill="rgb(105, 30, 238)" fill-opacity="0.02"/>
<rect x="371.4" y="135.3" width="7.2" height="1.5" fill="rgb(105, 30, 238)" fill-opacity="0.02"/>
<rect x="378.4" y="135.3" width="7.2" height="1.5" fill="rgb(105, 30, 238)" fill-opacity="0.05"/>
<rect x="371.4" y="137.9" width="7.2" height="1.7" fill="rgb(105, 30, 238)" fill-opacity="0.02"/>
<rect x="378.4" y="137.9" width="7.2" height="1.7" fill="rgb(105, 30, 238)" fill-opacity="0.02"/>
<rect x="371.4" y="142.0" width="7.2" height="1.1" fill="rgb(105, 30, 238)" fill-opacity="0.01"/>
<rect x="378.4" y="142.0" width="7.2" height="1.1" fill="rgb(105, 30, 238)" fill-opacity="0.00"/>
<rect x="371.4" y="144.4" width="7.2" height="1.0" fill="rgb(105, 30, 238)" fill-opacity="0.00"/>
<rect x="378.4" y="144.4" width="7.2" height="1.0" fill="rgb(105, 30, 238)" fill-opacity="0.00"/>
<rect x="371.4" y="146.9" width="7.2" height="1.6" fill="rgb(105, 30, 238)" fill-opacity="0.01"/>
<rect x="378.4" y="146.9" width="7.2" height="1.6" fill="rgb(105, 30, 238)" fill-opacity="0.01"/>
<rect x="371.4" y="150.0" width="7.2" height="0.9" fill="rgb(105, 30, 238)" fill-opacity="0.01"/>
<rect x="378.4" y="150.0" width="7.2" height="0.9" fill="rgb(105, 30, 238)" fill-opacity="0.02"/>
<rect x="371.4" y="152.8" width="7.2" height="1.1" fill="rgb(105, 30, 238)" fill-opacity="0.03"/>
<rect x="378.4" y="152.8" width="7.2" height="1.1" fill="rgb(105, 30, 238)" fill-opacity="0.01"/>
<rect x="371.4" y="156.2" width="7.2" height="1.3" fill="rgb(105, 30, 238)" fill-opacity="0.03"/>
<rect x="378.4" y="156.2" width="7.2" height="1.3" fill="rgb(105, 30, 238)" fill-opacity="0.02"/>
<rect x="371.4" y="159.3" width="7.2" height="1.5" fill="rgb(105, 30, 238)" fill-opacity="0.04"/>
<rect x="378.4" y="159.3" width="7.2" height="1.5" fill="rgb(105, 30, 238)" fill-opacity="0.07"/>
<rect x="371.4" y="163.0" width="7.2" height="1.5" fill="rgb(105, 30, 238)" fill-opacity="0.02"/>
<rect x="378.4" y="163.0" width="7.2" height="1.5" fill="rgb(105, 30, 238)" fill-opacity="0.01"/>
<rect x="371.4" y="165.6" width="7.2" height="1.0" fill="rgb(105, 30, 238)" fill-opacity="0.03"/>
<rect x="378.4" y="165.6" width="7.2" height="1.0" fill="rgb(105, 30, 238)" fill-opacity="0.02"/>
<rect x="371.4" y="167.7" width="7.2" height="1.7" fill="rgb(105, 30, 238)" fill-opacity="0.05"/>
<rect x="378.4" y="167.7" width="7.2" height="1.7" fill="rgb(105, 30, 238)" fill-opacity="0.03"/>
<rect x="371.4" y="170.8" width="7.2" height="1.2" fill="rgb(105, 30, 238)" fill-opacity="0.02"/>
<rect x="378.4" y="170.8" width="7.2" height="1.2" fill="rgb(105, 30, 238)" fill-opacity="0.02"/>
<rect x="371.4" y="173.4" width="7.2" height="1.8" fill="rgb(105, 30, 238)" fill-opacity="0.05"/>
<rect x="378.4" y="173.4" width="7.2" height="1.8" fill="rgb(105, 30, 238)" fill-opacity="0.04"/>
<rect x="371.4" y="177.7" width="7.2" height="1.2" fill="rgb(105, 30, 238)" fill-opacity="0.01"/>
<rect x="378.4" y="177.7" width="7.2" height="1.2" fill="rgb(105, 30, 238)" fill-opacity="0.02"/>
<rect x="371.4" y="180.6" width="7.2" height="1.4" fill="rgb(105, 30, 238)" fill-opacity="0.01"/>
<rect x="378.4" y="180.6" width="7.2" height="1.4" fill="rgb(105, 30, 238)" fill-opacity="0.01"/>
<rect x="371.4" y="183.4" width="7.2" height="1.0" fill="rgb(105, 30, 238)" fill-opacity="0.01"/>
<rect x="378.4" y="183.4" width="7.2" height="1.0" fill="rgb(105, 30, 238)" fill-opacity="0.01"/>
<rect x="371.4" y="185.9" width="7.2" height="1.1" fill="rgb(105, 30, 238)" fill-opacity="0.03"/>
<rect x="378.4" y="185.9" width="7.2" height="1.1" fill="rgb(105, 30, 238)" fill-opacity="0.04"/>
<rect x="371.4" y="189.0" width="7.2" height="1.5" fill="rgb(105, 30, 238)" fill-opacity="0.04"/>
<rect x="378.4" y="189.0" width="7.2" height="1.5" fill="rgb(105, 30, 238)" fill-opacity="0.04"/>
<rect x="371.4" y="193.1" width="7.2" height="1.0" fill="rgb(105, 30, 238)" fill-opacity="0.04"/>
<rect x="378.4" y="193.1" width="7.2" height="1.0" fill="rgb(105, 30, 238)" fill-opacity="0.02"/>
<rect x="371.4" y="196.5" width="7.2" height="1.7" fill="rgb(105, 30, 238)" fill-opacity="0.04"/>
<rect x="378.4" y="196.5" width="7.2" height="1.7" fill="rgb(105, 30, 238)" fill-opacity="0.04"/>
<rect x="371.4" y="199.4" width="7.2" height="1.4" fill="rgb(105, 30, 238)" fill-opacity="0.03"/>
<rect x="378.4" y="199.4" width="7.2" height="1.4" fill="rgb(105, 30, 238)" fill-opacity="0.03"/>
<rect x="371.4" y="203.1" width="7.2" height="1.4" fill="rgb(105, 30, 238)" fill-opacity="0.05"/>
<rect x="378.4" y="203.1" width="7.2" height="1.4" fill="rgb(105, 30, 238)" fill-opacity="0.05"/>
<rect x="371.4" y="205.9" width="7.2" height="0.9" fill="rgb(105, 30, 238)" fill-opacity="0.01"/>
<rect x="378.4" y="205.9" width="7.2" height="0.9" fill="rgb(105, 30, 238)" fill-opacity="0.00"/>
<rect x="371.4" y="209.2" width="7.2" height="1.4" fill="rgb(105, 30, 238)" fill-opacity="0.04"/>
<rect x="378.4" y="209.2" width="7.2" height="1.4" fill="rgb(105, 30, 238)" fill-opacity="0.04"/>
<rect x="371.4" y="212.4" width="7.2" height="0.9" fill="rgb(105, 30, 238)" fill-opacity="0.05"/>
<rect x="378.4" y="212.4" width="7.2" height="0.9" fill="rgb(105, 30, 238)" fill-opacity="0.04"/>
<rect x="371.4" y="215.1" width="7.2" height="1.5" fill="rgb(105, 30, 238)" fill-opacity="0.00"/>
<rect x="378.4" y="215.1" width="7.2" height="1.5" fill="rgb(105, 30, 238)" fill-opacity="0.00"/>
<rect x="371.4" y="217.8" width="7.2" height="1.1" fill="rgb(105, 30, 238)" fill-opacity="0.03"/>
<rect x="378.4" y="217.8" width="7.2" height="1.1" fill="rgb(105, 30, 238)" fill-opacity="0.05"/>
<rect x="371.4" y="221.5" width="7.2" height="1.3" fill="rgb(105, 30, 238)" fill-opacity="0.02"/>
<rect x="378.4" y="221.5" width="7.2" height="1.3" fill="rgb(105, 30, 238)" fill-opacity="0.02"/>
<rect x="371.4" y="225.0" width="7.2" height="1.5" fill="rgb(105, 30, 238)" fill-opacity="0.02"/>
<rect x="378.4" y="225.0" width="7.2" height="1.5" fill="rgb(105, 30, 238)" fill-opacity="0.02"/>
<rect x="371.4" y="227.9" width="7.2" height="1.6" fill="rgb(105, 30, 238)" fill-opacity="0.02"/>
<rect x="378.4" y="227.9" width="7.2" height="1.6" fill="rgb(105, 30, 238)" fill-opacity="0.01"/>
<rect x="371.4" y="230.6" width="7.2" height="1.1" fill="rgb(105, 30, 238)" fill-opacity="0.04"/>
<rect x="378.4" y="230.6" width="7.2" height="1.1" fill="rgb(105, 30, 238)" fill-opacity="0.04"/>
<rect x="371.4" y="233.2" width="7.2" height="1.4" fill="rgb(105, 30, 238)" fill-opacity="0.02"/>
<rect x="378.4" y="233.2" width="7.2" height="1.4" fill="rgb(105, 30, 238)" fill-opacity="0.01"/>
<rect x="371.4" y="237.0" width="7.2" height="1.1" fill="rgb(105, 30, 238)" fill-opacity="0.07"/>
<rect x="378.4" y="237.0" width="7.2" height="1.1" fill="rgb(105, 30, 238)" fill-opacity="0.03"/>
<rect x="371.4" y="239.8" width="7.2" height="1.6" fill="rgb(105, 30, 238)" fill-opacity="0.05"/>
<rect x="378.4" y="239.8" width="7.2" height="1.6" fill="rgb(105, 30, 238)" fill-opacity="0.04"/>
<rect x="371.4" y="242.7" width="7.2" height="1.8" fill="rgb(105, 30, 238)" fill-opacity="0.01"/>
<rect x="378.4" y="242.7" width="7.2" height="1.8" fill="rgb(105, 30, 238)" fill-opacity="0.01"/>
<rect x="371.4" y="246.3" width="7.2" height="1.8" fill="rgb(105, 30, 238)" fill-opacity="0.01"/>
<rect x="378.4" y="246.3" width="7.2" height="1.8" fill="rgb(105, 30, 238)" fill-opacity="0.01"/>
<rect x="371.4" y="250.5" width="7.2" height="1.5" fill="rgb(105, 30, 238)" fill-opacity="0.02"/>
<rect x="378.4" y="250.5" width="7.2" height="1.5" fill="rgb(105, 30, 238)" fill-opacity="0.01"/>
<rect x="371.4" y="253.1" width="7.2" height="0.9" fill="rgb(105, 30, 238)" fill-opacity="0.02"/>
<rect x="378.4" y="253.1" width="7.2" height="0.9" fill="rgb(105, 30, 238)" fill-opacity="0.02"/>
<rect x="371.4" y="255.2" width="7.2" height="1.2" fill="rgb(105, 30, 238)" fill-opacity="0.02"/>
<rect x="378.4" y="255.2" width="7.2" height="1.2" fill="rgb(105, 30, 238)" fill-opacity="0.01"/>
<rect x="371.3" y="86.40" width="14.3" height="0.8" fill="rgb(90, 90, 110)" fill-opacity="0.4"/>
<rect x="371.3" y="97.25" width="14.3" height="1.5" fill="rgb(105, 30, 238)" fill-opacity="0.25"/>
<rect x="371.3" y="99.95" width="14.3" height="1.3" fill="rgb(105, 30, 238)" fill-opacity="0.2"/>
<rect x="371.3" y="104.55" width="14.3" height="1.5" fill="rgb(105, 30, 238)" fill-opacity="0.22"/>
<rect x="371.3" y="111.95" width="14.3" height="1.5" fill="rgb(105, 30, 238)" fill-opacity="0.18"/>
<rect x="371.3" y="118.55" width="14.3" height="1.5" fill="rgb(105, 30, 238)" fill-opacity="0.18"/>
<rect x="371.3" y="126.35" width="14.3" height="1.3" fill="rgb(105, 30, 238)" fill-opacity="0.12"/>
<rect x="371.3" y="144.25" width="14.3" height="1.5" fill="rgb(105, 30, 238)" fill-opacity="0.1"/>
<rect x="371.3" y="156.00" width="14.3" height="2" fill="rgb(105, 30, 238)" fill-opacity="0.15"/>
<rect x="371.3" y="163.00" width="14.3" height="2" fill="rgb(105, 30, 238)" fill-opacity="0.15"/>
<rect x="371.3" y="177.00" width="14.3" height="2" fill="rgb(105, 30, 238)" fill-opacity="0.22"/>
<rect x="371.3" y="181.00" width="14.3" height="2" fill="rgb(105, 30, 238)" fill-opacity="0.22"/>
<rect x="371.3" y="238.65" width="14.3" height="1.3" fill="rgb(105, 30, 238)" fill-opacity="0.22"/>
<rect x="371.3" y="241.05" width="14.3" height="1.3" fill="rgb(105, 30, 238)" fill-opacity="0.22"/>
<rect x="371.3" y="247.55" width="14.3" height="1.5" fill="rgb(105, 30, 238)" fill-opacity="0.28"/>
<rect x="371.3" y="250.95" width="14.3" height="1.3" fill="rgb(105, 30, 238)" fill-opacity="0.28"/>
<rect x="371.3" y="253.35" width="14.3" height="1.3" fill="rgb(105, 30, 238)" fill-opacity="0.28"/>
<rect x="388.8" y="87.3" width="7.3" height="1.7" fill="rgb(105, 30, 238)" fill-opacity="0.02"/>
<rect x="395.9" y="87.3" width="7.3" height="1.7" fill="rgb(105, 30, 238)" fill-opacity="0.01"/>
<rect x="388.8" y="91.4" width="7.3" height="1.2" fill="rgb(105, 30, 238)" fill-opacity="0.03"/>
<rect x="395.9" y="91.4" width="7.3" height="1.2" fill="rgb(105, 30, 238)" fill-opacity="0.05"/>
<rect x="388.8" y="94.5" width="7.3" height="1.2" fill="rgb(105, 30, 238)" fill-opacity="0.03"/>
<rect x="395.9" y="94.5" width="7.3" height="1.2" fill="rgb(105, 30, 238)" fill-opacity="0.02"/>
<rect x="388.8" y="96.9" width="7.3" height="1.7" fill="rgb(105, 30, 238)" fill-opacity="0.04"/>
<rect x="395.9" y="96.9" width="7.3" height="1.7" fill="rgb(105, 30, 238)" fill-opacity="0.02"/>
<rect x="388.8" y="100.0" width="7.3" height="1.4" fill="rgb(105, 30, 238)" fill-opacity="0.01"/>
<rect x="395.9" y="100.0" width="7.3" height="1.4" fill="rgb(105, 30, 238)" fill-opacity="0.02"/>
<rect x="388.8" y="103.7" width="7.3" height="1.6" fill="rgb(105, 30, 238)" fill-opacity="0.08"/>
<rect x="395.9" y="103.7" width="7.3" height="1.6" fill="rgb(105, 30, 238)" fill-opacity="0.08"/>
<rect x="388.8" y="107.2" width="7.3" height="1.5" fill="rgb(105, 30, 238)" fill-opacity="0.01"/>
<rect x="395.9" y="107.2" width="7.3" height="1.5" fill="rgb(105, 30, 238)" fill-opacity="0.00"/>
<rect x="388.8" y="111.0" width="7.3" height="1.5" fill="rgb(105, 30, 238)" fill-opacity="0.01"/>
<rect x="395.9" y="111.0" width="7.3" height="1.5" fill="rgb(105, 30, 238)" fill-opacity="0.04"/>
<rect x="388.8" y="113.7" width="7.3" height="1.3" fill="rgb(105, 30, 238)" fill-opacity="0.02"/>
<rect x="395.9" y="113.7" width="7.3" height="1.3" fill="rgb(105, 30, 238)" fill-opacity="0.04"/>
<rect x="388.8" y="117.6" width="7.3" height="1.1" fill="rgb(105, 30, 238)" fill-opacity="0.05"/>
<rect x="395.9" y="117.6" width="7.3" height="1.1" fill="rgb(105, 30, 238)" fill-opacity="0.06"/>
<rect x="388.8" y="120.3" width="7.3" height="1.1" fill="rgb(105, 30, 238)" fill-opacity="0.01"/>
<rect x="395.9" y="120.3" width="7.3" height="1.1" fill="rgb(105, 30, 238)" fill-opacity="0.02"/>
<rect x="388.8" y="123.2" width="7.3" height="1.1" fill="rgb(105, 30, 238)" fill-opacity="0.12"/>
<rect x="395.9" y="123.2" width="7.3" height="1.1" fill="rgb(105, 30, 238)" fill-opacity="0.08"/>
<rect x="388.8" y="125.5" width="7.3" height="1.1" fill="rgb(105, 30, 238)" fill-opacity="0.01"/>
<rect x="395.9" y="125.5" width="7.3" height="1.1" fill="rgb(105, 30, 238)" fill-opacity="0.00"/>
<rect x="388.8" y="128.0" width="7.3" height="1.1" fill="rgb(105, 30, 238)" fill-opacity="0.07"/>
<rect x="395.9" y="128.0" width="7.3" height="1.1" fill="rgb(105, 30, 238)" fill-opacity="0.06"/>
<rect x="388.8" y="130.8" width="7.3" height="1.3" fill="rgb(105, 30, 238)" fill-opacity="0.04"/>
<rect x="395.9" y="130.8" width="7.3" height="1.3" fill="rgb(105, 30, 238)" fill-opacity="0.04"/>
<rect x="388.8" y="133.1" width="7.3" height="1.1" fill="rgb(105, 30, 238)" fill-opacity="0.05"/>
<rect x="395.9" y="133.1" width="7.3" height="1.1" fill="rgb(105, 30, 238)" fill-opacity="0.09"/>
<rect x="388.8" y="136.3" width="7.3" height="1.7" fill="rgb(105, 30, 238)" fill-opacity="0.01"/>
<rect x="395.9" y="136.3" width="7.3" height="1.7" fill="rgb(105, 30, 238)" fill-opacity="0.01"/>
<rect x="388.8" y="139.6" width="7.3" height="1.3" fill="rgb(105, 30, 238)" fill-opacity="0.12"/>
<rect x="395.9" y="139.6" width="7.3" height="1.3" fill="rgb(105, 30, 238)" fill-opacity="0.12"/>
<rect x="388.8" y="141.9" width="7.3" height="0.9" fill="rgb(105, 30, 238)" fill-opacity="0.09"/>
<rect x="395.9" y="141.9" width="7.3" height="0.9" fill="rgb(105, 30, 238)" fill-opacity="0.06"/>
<rect x="388.8" y="144.8" width="7.3" height="0.9" fill="rgb(105, 30, 238)" fill-opacity="0.05"/>
<rect x="395.9" y="144.8" width="7.3" height="0.9" fill="rgb(105, 30, 238)" fill-opacity="0.05"/>
<rect x="388.8" y="148.1" width="7.3" height="1.8" fill="rgb(105, 30, 238)" fill-opacity="0.01"/>
<rect x="395.9" y="148.1" width="7.3" height="1.8" fill="rgb(105, 30, 238)" fill-opacity="0.01"/>
<rect x="388.8" y="151.7" width="7.3" height="1.5" fill="rgb(105, 30, 238)" fill-opacity="0.10"/>
<rect x="395.9" y="151.7" width="7.3" height="1.5" fill="rgb(105, 30, 238)" fill-opacity="0.10"/>
<rect x="388.8" y="155.4" width="7.3" height="1.3" fill="rgb(105, 30, 238)" fill-opacity="0.03"/>
<rect x="395.9" y="155.4" width="7.3" height="1.3" fill="rgb(105, 30, 238)" fill-opacity="0.06"/>
<rect x="388.8" y="158.1" width="7.3" height="1.7" fill="rgb(105, 30, 238)" fill-opacity="0.05"/>
<rect x="395.9" y="158.1" width="7.3" height="1.7" fill="rgb(105, 30, 238)" fill-opacity="0.04"/>
<rect x="388.8" y="161.2" width="7.3" height="1.5" fill="rgb(105, 30, 238)" fill-opacity="0.04"/>
<rect x="395.9" y="161.2" width="7.3" height="1.5" fill="rgb(105, 30, 238)" fill-opacity="0.04"/>
<rect x="388.8" y="164.5" width="7.3" height="1.4" fill="rgb(105, 30, 238)" fill-opacity="0.03"/>
<rect x="395.9" y="164.5" width="7.3" height="1.4" fill="rgb(105, 30, 238)" fill-opacity="0.04"/>
<rect x="388.8" y="167.0" width="7.3" height="1.2" fill="rgb(105, 30, 238)" fill-opacity="0.06"/>
<rect x="395.9" y="167.0" width="7.3" height="1.2" fill="rgb(105, 30, 238)" fill-opacity="0.05"/>
<rect x="388.8" y="170.6" width="7.3" height="1.3" fill="rgb(105, 30, 238)" fill-opacity="0.02"/>
<rect x="395.9" y="170.6" width="7.3" height="1.3" fill="rgb(105, 30, 238)" fill-opacity="0.03"/>
<rect x="388.8" y="174.0" width="7.3" height="1.2" fill="rgb(105, 30, 238)" fill-opacity="0.00"/>
<rect x="395.9" y="174.0" width="7.3" height="1.2" fill="rgb(105, 30, 238)" fill-opacity="0.00"/>
<rect x="388.8" y="176.9" width="7.3" height="1.1" fill="rgb(105, 30, 238)" fill-opacity="0.09"/>
<rect x="395.9" y="176.9" width="7.3" height="1.1" fill="rgb(105, 30, 238)" fill-opacity="0.04"/>
<rect x="388.8" y="179.1" width="7.3" height="1.2" fill="rgb(105, 30, 238)" fill-opacity="0.04"/>
<rect x="395.9" y="179.1" width="7.3" height="1.2" fill="rgb(105, 30, 238)" fill-opacity="0.03"/>
<rect x="388.8" y="182.5" width="7.3" height="1.6" fill="rgb(105, 30, 238)" fill-opacity="0.03"/>
<rect x="395.9" y="182.5" width="7.3" height="1.6" fill="rgb(105, 30, 238)" fill-opacity="0.07"/>
<rect x="388.8" y="185.6" width="7.3" height="1.6" fill="rgb(105, 30, 238)" fill-opacity="0.01"/>
<rect x="395.9" y="185.6" width="7.3" height="1.6" fill="rgb(105, 30, 238)" fill-opacity="0.03"/>
<rect x="388.8" y="188.7" width="7.3" height="1.8" fill="rgb(105, 30, 238)" fill-opacity="0.03"/>
<rect x="395.9" y="188.7" width="7.3" height="1.8" fill="rgb(105, 30, 238)" fill-opacity="0.03"/>
<rect x="388.8" y="192.1" width="7.3" height="1.5" fill="rgb(105, 30, 238)" fill-opacity="0.06"/>
<rect x="395.9" y="192.1" width="7.3" height="1.5" fill="rgb(105, 30, 238)" fill-opacity="0.08"/>
<rect x="388.8" y="195.0" width="7.3" height="1.8" fill="rgb(105, 30, 238)" fill-opacity="0.01"/>
<rect x="395.9" y="195.0" width="7.3" height="1.8" fill="rgb(105, 30, 238)" fill-opacity="0.01"/>
<rect x="388.8" y="198.4" width="7.3" height="1.7" fill="rgb(105, 30, 238)" fill-opacity="0.10"/>
<rect x="395.9" y="198.4" width="7.3" height="1.7" fill="rgb(105, 30, 238)" fill-opacity="0.12"/>
<rect x="388.8" y="202.6" width="7.3" height="1.2" fill="rgb(105, 30, 238)" fill-opacity="0.02"/>
<rect x="395.9" y="202.6" width="7.3" height="1.2" fill="rgb(105, 30, 238)" fill-opacity="0.02"/>
<rect x="388.8" y="204.8" width="7.3" height="1.5" fill="rgb(105, 30, 238)" fill-opacity="0.03"/>
<rect x="395.9" y="204.8" width="7.3" height="1.5" fill="rgb(105, 30, 238)" fill-opacity="0.03"/>
<rect x="388.8" y="207.6" width="7.3" height="0.9" fill="rgb(105, 30, 238)" fill-opacity="0.02"/>
<rect x="395.9" y="207.6" width="7.3" height="0.9" fill="rgb(105, 30, 238)" fill-opacity="0.04"/>
<rect x="388.8" y="209.7" width="7.3" height="1.8" fill="rgb(105, 30, 238)" fill-opacity="0.02"/>
<rect x="395.9" y="209.7" width="7.3" height="1.8" fill="rgb(105, 30, 238)" fill-opacity="0.02"/>
<rect x="388.8" y="213.8" width="7.3" height="1.3" fill="rgb(105, 30, 238)" fill-opacity="0.00"/>
<rect x="395.9" y="213.8" width="7.3" height="1.3" fill="rgb(105, 30, 238)" fill-opacity="0.00"/>
<rect x="388.8" y="217.5" width="7.3" height="1.1" fill="rgb(105, 30, 238)" fill-opacity="0.05"/>
<rect x="395.9" y="217.5" width="7.3" height="1.1" fill="rgb(105, 30, 238)" fill-opacity="0.02"/>
<rect x="388.8" y="220.3" width="7.3" height="1.6" fill="rgb(105, 30, 238)" fill-opacity="0.04"/>
<rect x="395.9" y="220.3" width="7.3" height="1.6" fill="rgb(105, 30, 238)" fill-opacity="0.04"/>
<rect x="388.8" y="223.0" width="7.3" height="1.7" fill="rgb(105, 30, 238)" fill-opacity="0.03"/>
<rect x="395.9" y="223.0" width="7.3" height="1.7" fill="rgb(105, 30, 238)" fill-opacity="0.03"/>
<rect x="388.8" y="226.3" width="7.3" height="1.1" fill="rgb(105, 30, 238)" fill-opacity="0.10"/>
<rect x="395.9" y="226.3" width="7.3" height="1.1" fill="rgb(105, 30, 238)" fill-opacity="0.07"/>
<rect x="388.8" y="229.6" width="7.3" height="1.2" fill="rgb(105, 30, 238)" fill-opacity="0.01"/>
<rect x="395.9" y="229.6" width="7.3" height="1.2" fill="rgb(105, 30, 238)" fill-opacity="0.03"/>
<rect x="388.8" y="233.2" width="7.3" height="1.5" fill="rgb(105, 30, 238)" fill-opacity="0.04"/>
<rect x="395.9" y="233.2" width="7.3" height="1.5" fill="rgb(105, 30, 238)" fill-opacity="0.06"/>
<rect x="388.8" y="236.5" width="7.3" height="1.8" fill="rgb(105, 30, 238)" fill-opacity="0.08"/>
<rect x="395.9" y="236.5" width="7.3" height="1.8" fill="rgb(105, 30, 238)" fill-opacity="0.06"/>
<rect x="388.8" y="239.9" width="7.3" height="1.3" fill="rgb(105, 30, 238)" fill-opacity="0.06"/>
<rect x="395.9" y="239.9" width="7.3" height="1.3" fill="rgb(105, 30, 238)" fill-opacity="0.11"/>
<rect x="388.8" y="243.4" width="7.3" height="1.6" fill="rgb(105, 30, 238)" fill-opacity="0.08"/>
<rect x="395.9" y="243.4" width="7.3" height="1.6" fill="rgb(105, 30, 238)" fill-opacity="0.06"/>
<rect x="388.8" y="246.6" width="7.3" height="1.2" fill="rgb(105, 30, 238)" fill-opacity="0.04"/>
<rect x="395.9" y="246.6" width="7.3" height="1.2" fill="rgb(105, 30, 238)" fill-opacity="0.05"/>
<rect x="388.8" y="250.0" width="7.3" height="1.1" fill="rgb(105, 30, 238)" fill-opacity="0.00"/>
<rect x="395.9" y="250.0" width="7.3" height="1.1" fill="rgb(105, 30, 238)" fill-opacity="0.01"/>
<rect x="388.8" y="252.7" width="7.3" height="1.8" fill="rgb(105, 30, 238)" fill-opacity="0.12"/>
<rect x="395.9" y="252.7" width="7.3" height="1.8" fill="rgb(105, 30, 238)" fill-opacity="0.06"/>
<rect x="388.8" y="255.6" width="7.3" height="1.0" fill="rgb(105, 30, 238)" fill-opacity="0.05"/>
<rect x="395.9" y="255.6" width="7.3" height="1.0" fill="rgb(105, 30, 238)" fill-opacity="0.04"/>
<rect x="388.7" y="99.25" width="14.4" height="1.5" fill="rgb(105, 30, 238)" fill-opacity="0.1"/>
<rect x="388.7" y="107.25" width="14.4" height="1.5" fill="rgb(105, 30, 238)" fill-opacity="0.1"/>
<rect x="388.7" y="117.25" width="14.4" height="1.5" fill="rgb(105, 30, 238)" fill-opacity="0.12"/>
<rect x="388.7" y="125.25" width="14.4" height="1.5" fill="rgb(105, 30, 238)" fill-opacity="0.12"/>
<rect x="388.7" y="137.80" width="14.4" height="2" fill="rgb(105, 30, 238)" fill-opacity="0.3"/>
<rect x="388.7" y="158.50" width="14.4" height="3" fill="rgb(105, 30, 238)" fill-opacity="0.15"/>
<rect x="388.7" y="179.50" width="14.4" height="2" fill="rgb(105, 30, 238)" fill-opacity="0.5"/>
<rect x="388.7" y="215.25" width="14.4" height="1.5" fill="rgb(105, 30, 238)" fill-opacity="0.3"/>
<rect x="388.7" y="219.25" width="14.4" height="1.5" fill="rgb(105, 30, 238)" fill-opacity="0.25"/>
<rect x="388.7" y="225.10" width="14.4" height="1.8" fill="rgb(105, 30, 238)" fill-opacity="0.35"/>
<rect x="388.7" y="229.25" width="14.4" height="1.5" fill="rgb(105, 30, 238)" fill-opacity="0.25"/>
<rect x="388.7" y="232.10" width="14.4" height="1.8" fill="rgb(105, 30, 238)" fill-opacity="0.35"/>
<rect x="388.7" y="236.25" width="14.4" height="1.5" fill="rgb(105, 30, 238)" fill-opacity="0.25"/>
<rect x="388.7" y="239.10" width="14.4" height="1.8" fill="rgb(105, 30, 238)" fill-opacity="0.35"/>
<rect x="388.7" y="243.25" width="14.4" height="1.5" fill="rgb(105, 30, 238)" fill-opacity="0.25"/>
<rect x="388.7" y="249.00" width="14.4" height="2" fill="rgb(105, 30, 238)" fill-opacity="0.4"/>
<rect x="388.7" y="253.25" width="14.4" height="1.5" fill="rgb(105, 30, 238)" fill-opacity="0.3"/>
<rect x="407.0" y="87.3" width="7.5" height="1.3" fill="rgb(105, 30, 238)" fill-opacity="0.01"/>
<rect x="414.3" y="87.3" width="7.5" height="1.3" fill="rgb(105, 30, 238)" fill-opacity="0.01"/>
<rect x="407.0" y="90.9" width="7.5" height="1.5" fill="rgb(105, 30, 238)" fill-opacity="0.00"/>
<rect x="414.3" y="90.9" width="7.5" height="1.5" fill="rgb(105, 30, 238)" fill-opacity="0.00"/>
<rect x="407.0" y="94.3" width="7.5" height="1.2" fill="rgb(105, 30, 238)" fill-opacity="0.01"/>
<rect x="414.3" y="94.3" width="7.5" height="1.2" fill="rgb(105, 30, 238)" fill-opacity="0.01"/>
<rect x="407.0" y="97.0" width="7.5" height="1.0" fill="rgb(105, 30, 238)" fill-opacity="0.01"/>
<rect x="414.3" y="97.0" width="7.5" height="1.0" fill="rgb(105, 30, 238)" fill-opacity="0.01"/>
<rect x="407.0" y="99.6" width="7.5" height="1.8" fill="rgb(105, 30, 238)" fill-opacity="0.01"/>
<rect x="414.3" y="99.6" width="7.5" height="1.8" fill="rgb(105, 30, 238)" fill-opacity="0.01"/>
<rect x="407.0" y="103.5" width="7.5" height="1.8" fill="rgb(105, 30, 238)" fill-opacity="0.00"/>
<rect x="414.3" y="103.5" width="7.5" height="1.8" fill="rgb(105, 30, 238)" fill-opacity="0.00"/>
<rect x="407.0" y="107.6" width="7.5" height="1.7" fill="rgb(105, 30, 238)" fill-opacity="0.00"/>
<rect x="414.3" y="107.6" width="7.5" height="1.7" fill="rgb(105, 30, 238)" fill-opacity="0.00"/>
<rect x="407.0" y="110.6" width="7.5" height="1.8" fill="rgb(105, 30, 238)" fill-opacity="0.01"/>
<rect x="414.3" y="110.6" width="7.5" height="1.8" fill="rgb(105, 30, 238)" fill-opacity="0.01"/>
<rect x="407.0" y="114.8" width="7.5" height="1.3" fill="rgb(105, 30, 238)" fill-opacity="0.00"/>
<rect x="414.3" y="114.8" width="7.5" height="1.3" fill="rgb(105, 30, 238)" fill-opacity="0.01"/>
<rect x="407.0" y="117.3" width="7.5" height="1.4" fill="rgb(105, 30, 238)" fill-opacity="0.01"/>
<rect x="414.3" y="117.3" width="7.5" height="1.4" fill="rgb(105, 30, 238)" fill-opacity="0.01"/>
<rect x="407.0" y="119.9" width="7.5" height="1.1" fill="rgb(105, 30, 238)" fill-opacity="0.00"/>
<rect x="414.3" y="119.9" width="7.5" height="1.1" fill="rgb(105, 30, 238)" fill-opacity="0.00"/>
<rect x="407.0" y="122.3" width="7.5" height="0.9" fill="rgb(105, 30, 238)" fill-opacity="0.01"/>
<rect x="414.3" y="122.3" width="7.5" height="0.9" fill="rgb(105, 30, 238)" fill-opacity="0.00"/>
<rect x="407.0" y="124.8" width="7.5" height="1.1" fill="rgb(105, 30, 238)" fill-opacity="0.01"/>
<rect x="414.3" y="124.8" width="7.5" height="1.1" fill="rgb(105, 30, 238)" fill-opacity="0.01"/>
<rect x="407.0" y="127.0" width="7.5" height="1.3" fill="rgb(105, 30, 238)" fill-opacity="0.01"/>
<rect x="414.3" y="127.0" width="7.5" height="1.3" fill="rgb(105, 30, 238)" fill-opacity="0.00"/>
<rect x="407.0" y="129.5" width="7.5" height="1.5" fill="rgb(105, 30, 238)" fill-opacity="0.00"/>
<rect x="414.3" y="129.5" width="7.5" height="1.5" fill="rgb(105, 30, 238)" fill-opacity="0.00"/>
<rect x="407.0" y="133.6" width="7.5" height="1.2" fill="rgb(105, 30, 238)" fill-opacity="0.01"/>
<rect x="414.3" y="133.6" width="7.5" height="1.2" fill="rgb(105, 30, 238)" fill-opacity="0.01"/>
<rect x="407.0" y="137.1" width="7.5" height="1.8" fill="rgb(105, 30, 238)" fill-opacity="0.00"/>
<rect x="414.3" y="137.1" width="7.5" height="1.8" fill="rgb(105, 30, 238)" fill-opacity="0.01"/>
<rect x="407.0" y="140.3" width="7.5" height="0.9" fill="rgb(105, 30, 238)" fill-opacity="0.01"/>
<rect x="414.3" y="140.3" width="7.5" height="0.9" fill="rgb(105, 30, 238)" fill-opacity="0.02"/>
<rect x="407.0" y="142.8" width="7.5" height="1.7" fill="rgb(105, 30, 238)" fill-opacity="0.00"/>
<rect x="414.3" y="142.8" width="7.5" height="1.7" fill="rgb(105, 30, 238)" fill-opacity="0.00"/>
<rect x="407.0" y="146.4" width="7.5" height="1.5" fill="rgb(105, 30, 238)" fill-opacity="0.01"/>
<rect x="414.3" y="146.4" width="7.5" height="1.5" fill="rgb(105, 30, 238)" fill-opacity="0.02"/>
<rect x="407.0" y="149.5" width="7.5" height="1.4" fill="rgb(105, 30, 238)" fill-opacity="0.00"/>
<rect x="414.3" y="149.5" width="7.5" height="1.4" fill="rgb(105, 30, 238)" fill-opacity="0.00"/>
<rect x="407.0" y="153.3" width="7.5" height="1.0" fill="rgb(105, 30, 238)" fill-opacity="0.01"/>
<rect x="414.3" y="153.3" width="7.5" height="1.0" fill="rgb(105, 30, 238)" fill-opacity="0.01"/>
<rect x="407.0" y="155.6" width="7.5" height="1.0" fill="rgb(105, 30, 238)" fill-opacity="0.02"/>
<rect x="414.3" y="155.6" width="7.5" height="1.0" fill="rgb(105, 30, 238)" fill-opacity="0.01"/>
<rect x="407.0" y="157.7" width="7.5" height="1.7" fill="rgb(105, 30, 238)" fill-opacity="0.01"/>
<rect x="414.3" y="157.7" width="7.5" height="1.7" fill="rgb(105, 30, 238)" fill-opacity="0.01"/>
<rect x="407.0" y="161.8" width="7.5" height="1.0" fill="rgb(105, 30, 238)" fill-opacity="0.01"/>
<rect x="414.3" y="161.8" width="7.5" height="1.0" fill="rgb(105, 30, 238)" fill-opacity="0.01"/>
<rect x="407.0" y="165.2" width="7.5" height="1.6" fill="rgb(105, 30, 238)" fill-opacity="0.00"/>
<rect x="414.3" y="165.2" width="7.5" height="1.6" fill="rgb(105, 30, 238)" fill-opacity="0.00"/>
<rect x="407.0" y="168.6" width="7.5" height="1.2" fill="rgb(105, 30, 238)" fill-opacity="0.00"/>
<rect x="414.3" y="168.6" width="7.5" height="1.2" fill="rgb(105, 30, 238)" fill-opacity="0.00"/>
<rect x="407.0" y="172.3" width="7.5" height="0.9" fill="rgb(105, 30, 238)" fill-opacity="0.01"/>
<rect x="414.3" y="172.3" width="7.5" height="0.9" fill="rgb(105, 30, 238)" fill-opacity="0.00"/>
<rect x="407.0" y="175.6" width="7.5" height="1.0" fill="rgb(105, 30, 238)" fill-opacity="0.01"/>
<rect x="414.3" y="175.6" width="7.5" height="1.0" fill="rgb(105, 30, 238)" fill-opacity="0.01"/>
<rect x="407.0" y="178.1" width="7.5" height="1.3" fill="rgb(105, 30, 238)" fill-opacity="0.01"/>
<rect x="414.3" y="178.1" width="7.5" height="1.3" fill="rgb(105, 30, 238)" fill-opacity="0.01"/>
<rect x="407.0" y="181.1" width="7.5" height="1.3" fill="rgb(105, 30, 238)" fill-opacity="0.00"/>
<rect x="414.3" y="181.1" width="7.5" height="1.3" fill="rgb(105, 30, 238)" fill-opacity="0.00"/>
<rect x="407.0" y="183.7" width="7.5" height="1.6" fill="rgb(105, 30, 238)" fill-opacity="0.01"/>
<rect x="414.3" y="183.7" width="7.5" height="1.6" fill="rgb(105, 30, 238)" fill-opacity="0.01"/>
<rect x="407.0" y="187.1" width="7.5" height="1.0" fill="rgb(105, 30, 238)" fill-opacity="0.00"/>
<rect x="414.3" y="187.1" width="7.5" height="1.0" fill="rgb(105, 30, 238)" fill-opacity="0.00"/>
<rect x="407.0" y="189.8" width="7.5" height="1.4" fill="rgb(105, 30, 238)" fill-opacity="0.00"/>
<rect x="414.3" y="189.8" width="7.5" height="1.4" fill="rgb(105, 30, 238)" fill-opacity="0.00"/>
<rect x="407.0" y="193.3" width="7.5" height="1.6" fill="rgb(105, 30, 238)" fill-opacity="0.00"/>
<rect x="414.3" y="193.3" width="7.5" height="1.6" fill="rgb(105, 30, 238)" fill-opacity="0.01"/>
<rect x="407.0" y="196.5" width="7.5" height="1.8" fill="rgb(105, 30, 238)" fill-opacity="0.00"/>
<rect x="414.3" y="196.5" width="7.5" height="1.8" fill="rgb(105, 30, 238)" fill-opacity="0.00"/>
<rect x="407.0" y="200.5" width="7.5" height="1.6" fill="rgb(105, 30, 238)" fill-opacity="0.00"/>
<rect x="414.3" y="200.5" width="7.5" height="1.6" fill="rgb(105, 30, 238)" fill-opacity="0.00"/>
<rect x="407.0" y="204.6" width="7.5" height="1.7" fill="rgb(105, 30, 238)" fill-opacity="0.00"/>
<rect x="414.3" y="204.6" width="7.5" height="1.7" fill="rgb(105, 30, 238)" fill-opacity="0.00"/>
<rect x="407.0" y="207.5" width="7.5" height="1.2" fill="rgb(105, 30, 238)" fill-opacity="0.01"/>
<rect x="414.3" y="207.5" width="7.5" height="1.2" fill="rgb(105, 30, 238)" fill-opacity="0.02"/>
<rect x="407.0" y="210.1" width="7.5" height="1.6" fill="rgb(105, 30, 238)" fill-opacity="0.00"/>
<rect x="414.3" y="210.1" width="7.5" height="1.6" fill="rgb(105, 30, 238)" fill-opacity="0.00"/>
<rect x="407.0" y="213.1" width="7.5" height="1.1" fill="rgb(105, 30, 238)" fill-opacity="0.01"/>
<rect x="414.3" y="213.1" width="7.5" height="1.1" fill="rgb(105, 30, 238)" fill-opacity="0.00"/>
<rect x="407.0" y="215.5" width="7.5" height="1.0" fill="rgb(105, 30, 238)" fill-opacity="0.02"/>
<rect x="414.3" y="215.5" width="7.5" height="1.0" fill="rgb(105, 30, 238)" fill-opacity="0.02"/>
<rect x="407.0" y="217.8" width="7.5" height="1.6" fill="rgb(105, 30, 238)" fill-opacity="0.00"/>
<rect x="414.3" y="217.8" width="7.5" height="1.6" fill="rgb(105, 30, 238)" fill-opacity="0.00"/>
<rect x="407.0" y="221.0" width="7.5" height="1.7" fill="rgb(105, 30, 238)" fill-opacity="0.01"/>
<rect x="414.3" y="221.0" width="7.5" height="1.7" fill="rgb(105, 30, 238)" fill-opacity="0.01"/>
<rect x="407.0" y="223.9" width="7.5" height="1.8" fill="rgb(105, 30, 238)" fill-opacity="0.01"/>
<rect x="414.3" y="223.9" width="7.5" height="1.8" fill="rgb(105, 30, 238)" fill-opacity="0.01"/>
<rect x="407.0" y="227.1" width="7.5" height="1.8" fill="rgb(105, 30, 238)" fill-opacity="0.01"/>
<rect x="414.3" y="227.1" width="7.5" height="1.8" fill="rgb(105, 30, 238)" fill-opacity="0.01"/>
<rect x="407.0" y="230.6" width="7.5" height="1.1" fill="rgb(105, 30, 238)" fill-opacity="0.01"/>
<rect x="414.3" y="230.6" width="7.5" height="1.1" fill="rgb(105, 30, 238)" fill-opacity="0.01"/>
<rect x="407.0" y="233.0" width="7.5" height="1.5" fill="rgb(105, 30, 238)" fill-opacity="0.02"/>
<rect x="414.3" y="233.0" width="7.5" height="1.5" fill="rgb(105, 30, 238)" fill-opacity="0.02"/>
<rect x="407.0" y="236.0" width="7.5" height="0.9" fill="rgb(105, 30, 238)" fill-opacity="0.00"/>
<rect x="414.3" y="236.0" width="7.5" height="0.9" fill="rgb(105, 30, 238)" fill-opacity="0.00"/>
<rect x="407.0" y="238.6" width="7.5" height="1.4" fill="rgb(105, 30, 238)" fill-opacity="0.01"/>
<rect x="414.3" y="238.6" width="7.5" height="1.4" fill="rgb(105, 30, 238)" fill-opacity="0.01"/>
<rect x="407.0" y="242.0" width="7.5" height="0.9" fill="rgb(105, 30, 238)" fill-opacity="0.00"/>
<rect x="414.3" y="242.0" width="7.5" height="0.9" fill="rgb(105, 30, 238)" fill-opacity="0.00"/>
<rect x="407.0" y="244.5" width="7.5" height="1.1" fill="rgb(105, 30, 238)" fill-opacity="0.01"/>
<rect x="414.3" y="244.5" width="7.5" height="1.1" fill="rgb(105, 30, 238)" fill-opacity="0.01"/>
<rect x="407.0" y="247.6" width="7.5" height="1.3" fill="rgb(105, 30, 238)" fill-opacity="0.00"/>
<rect x="414.3" y="247.6" width="7.5" height="1.3" fill="rgb(105, 30, 238)" fill-opacity="0.00"/>
<rect x="407.0" y="250.2" width="7.5" height="1.0" fill="rgb(105, 30, 238)" fill-opacity="0.01"/>
<rect x="414.3" y="250.2" width="7.5" height="1.0" fill="rgb(105, 30, 238)" fill-opacity="0.01"/>
<rect x="407.0" y="252.8" width="7.5" height="1.1" fill="rgb(105, 30, 238)" fill-opacity="0.00"/>
<rect x="414.3" y="252.8" width="7.5" height="1.1" fill="rgb(105, 30, 238)" fill-opacity="0.00"/>
<rect x="407.0" y="255.5" width="7.5" height="1.5" fill="rgb(105, 30, 238)" fill-opacity="0.01"/>
<rect x="414.3" y="255.5" width="7.5" height="1.5" fill="rgb(105, 30, 238)" fill-opacity="0.01"/>
<rect x="425.0" y="87.3" width="7.6" height="1.7" fill="rgb(105, 30, 238)" fill-opacity="0.00"/>
<rect x="432.4" y="87.3" width="7.6" height="1.7" fill="rgb(105, 30, 238)" fill-opacity="0.00"/>
<rect x="425.0" y="90.4" width="7.6" height="1.0" fill="rgb(105, 30, 238)" fill-opacity="0.01"/>
<rect x="432.4" y="90.4" width="7.6" height="1.0" fill="rgb(105, 30, 238)" fill-opacity="0.01"/>
<rect x="425.0" y="93.9" width="7.6" height="1.0" fill="rgb(105, 30, 238)" fill-opacity="0.00"/>
<rect x="432.4" y="93.9" width="7.6" height="1.0" fill="rgb(105, 30, 238)" fill-opacity="0.00"/>
<rect x="425.0" y="96.9" width="7.6" height="1.6" fill="rgb(105, 30, 238)" fill-opacity="0.00"/>
<rect x="432.4" y="96.9" width="7.6" height="1.6" fill="rgb(105, 30, 238)" fill-opacity="0.00"/>
<rect x="425.0" y="99.6" width="7.6" height="1.7" fill="rgb(105, 30, 238)" fill-opacity="0.01"/>
<rect x="432.4" y="99.6" width="7.6" height="1.7" fill="rgb(105, 30, 238)" fill-opacity="0.01"/>
<rect x="425.0" y="103.7" width="7.6" height="1.6" fill="rgb(105, 30, 238)" fill-opacity="0.01"/>
<rect x="432.4" y="103.7" width="7.6" height="1.6" fill="rgb(105, 30, 238)" fill-opacity="0.01"/>
<rect x="425.0" y="106.6" width="7.6" height="1.0" fill="rgb(105, 30, 238)" fill-opacity="0.00"/>
<rect x="432.4" y="106.6" width="7.6" height="1.0" fill="rgb(105, 30, 238)" fill-opacity="0.00"/>
<rect x="425.0" y="109.8" width="7.6" height="1.5" fill="rgb(105, 30, 238)" fill-opacity="0.02"/>
<rect x="432.4" y="109.8" width="7.6" height="1.5" fill="rgb(105, 30, 238)" fill-opacity="0.01"/>
<rect x="425.0" y="113.2" width="7.6" height="1.3" fill="rgb(105, 30, 238)" fill-opacity="0.01"/>
<rect x="432.4" y="113.2" width="7.6" height="1.3" fill="rgb(105, 30, 238)" fill-opacity="0.01"/>
<rect x="425.0" y="116.5" width="7.6" height="1.8" fill="rgb(105, 30, 238)" fill-opacity="0.00"/>
<rect x="432.4" y="116.5" width="7.6" height="1.8" fill="rgb(105, 30, 238)" fill-opacity="0.00"/>
<rect x="425.0" y="119.7" width="7.6" height="1.1" fill="rgb(105, 30, 238)" fill-opacity="0.02"/>
<rect x="432.4" y="119.7" width="7.6" height="1.1" fill="rgb(105, 30, 238)" fill-opacity="0.01"/>
<rect x="425.0" y="122.3" width="7.6" height="1.7" fill="rgb(105, 30, 238)" fill-opacity="0.00"/>
<rect x="432.4" y="122.3" width="7.6" height="1.7" fill="rgb(105, 30, 238)" fill-opacity="0.01"/>
<rect x="425.0" y="126.0" width="7.6" height="1.5" fill="rgb(105, 30, 238)" fill-opacity="0.01"/>
<rect x="432.4" y="126.0" width="7.6" height="1.5" fill="rgb(105, 30, 238)" fill-opacity="0.01"/>
<rect x="425.0" y="129.9" width="7.6" height="1.5" fill="rgb(105, 30, 238)" fill-opacity="0.01"/>
<rect x="432.4" y="129.9" width="7.6" height="1.5" fill="rgb(105, 30, 238)" fill-opacity="0.02"/>
<rect x="425.0" y="133.4" width="7.6" height="1.2" fill="rgb(105, 30, 238)" fill-opacity="0.00"/>
<rect x="432.4" y="133.4" width="7.6" height="1.2" fill="rgb(105, 30, 238)" fill-opacity="0.00"/>
<rect x="425.0" y="137.0" width="7.6" height="1.0" fill="rgb(105, 30, 238)" fill-opacity="0.00"/>
<rect x="432.4" y="137.0" width="7.6" height="1.0" fill="rgb(105, 30, 238)" fill-opacity="0.00"/>
<rect x="425.0" y="139.6" width="7.6" height="1.0" fill="rgb(105, 30, 238)" fill-opacity="0.00"/>
<rect x="432.4" y="139.6" width="7.6" height="1.0" fill="rgb(105, 30, 238)" fill-opacity="0.00"/>
<rect x="425.0" y="142.6" width="7.6" height="1.5" fill="rgb(105, 30, 238)" fill-opacity="0.01"/>
<rect x="432.4" y="142.6" width="7.6" height="1.5" fill="rgb(105, 30, 238)" fill-opacity="0.01"/>
<rect x="425.0" y="145.7" width="7.6" height="1.6" fill="rgb(105, 30, 238)" fill-opacity="0.02"/>
<rect x="432.4" y="145.7" width="7.6" height="1.6" fill="rgb(105, 30, 238)" fill-opacity="0.01"/>
<rect x="425.0" y="149.7" width="7.6" height="1.7" fill="rgb(105, 30, 238)" fill-opacity="0.01"/>
<rect x="432.4" y="149.7" width="7.6" height="1.7" fill="rgb(105, 30, 238)" fill-opacity="0.01"/>
<rect x="425.0" y="152.6" width="7.6" height="0.9" fill="rgb(105, 30, 238)" fill-opacity="0.02"/>
<rect x="432.4" y="152.6" width="7.6" height="0.9" fill="rgb(105, 30, 238)" fill-opacity="0.01"/>
<rect x="425.0" y="155.9" width="7.6" height="1.5" fill="rgb(105, 30, 238)" fill-opacity="0.00"/>
<rect x="432.4" y="155.9" width="7.6" height="1.5" fill="rgb(105, 30, 238)" fill-opacity="0.00"/>
<rect x="425.0" y="159.6" width="7.6" height="1.1" fill="rgb(105, 30, 238)" fill-opacity="0.00"/>
<rect x="432.4" y="159.6" width="7.6" height="1.1" fill="rgb(105, 30, 238)" fill-opacity="0.00"/>
<rect x="425.0" y="162.1" width="7.6" height="1.2" fill="rgb(105, 30, 238)" fill-opacity="0.01"/>
<rect x="432.4" y="162.1" width="7.6" height="1.2" fill="rgb(105, 30, 238)" fill-opacity="0.01"/>
<rect x="425.0" y="165.8" width="7.6" height="1.4" fill="rgb(105, 30, 238)" fill-opacity="0.01"/>
<rect x="432.4" y="165.8" width="7.6" height="1.4" fill="rgb(105, 30, 238)" fill-opacity="0.01"/>
<rect x="425.0" y="168.8" width="7.6" height="1.3" fill="rgb(105, 30, 238)" fill-opacity="0.01"/>
<rect x="432.4" y="168.8" width="7.6" height="1.3" fill="rgb(105, 30, 238)" fill-opacity="0.01"/>
<rect x="425.0" y="171.9" width="7.6" height="1.1" fill="rgb(105, 30, 238)" fill-opacity="0.01"/>
<rect x="432.4" y="171.9" width="7.6" height="1.1" fill="rgb(105, 30, 238)" fill-opacity="0.02"/>
<rect x="425.0" y="174.3" width="7.6" height="0.9" fill="rgb(105, 30, 238)" fill-opacity="0.00"/>
<rect x="432.4" y="174.3" width="7.6" height="0.9" fill="rgb(105, 30, 238)" fill-opacity="0.00"/>
<rect x="425.0" y="176.2" width="7.6" height="1.3" fill="rgb(105, 30, 238)" fill-opacity="0.01"/>
<rect x="432.4" y="176.2" width="7.6" height="1.3" fill="rgb(105, 30, 238)" fill-opacity="0.01"/>
<rect x="425.0" y="179.3" width="7.6" height="1.2" fill="rgb(105, 30, 238)" fill-opacity="0.01"/>
<rect x="432.4" y="179.3" width="7.6" height="1.2" fill="rgb(105, 30, 238)" fill-opacity="0.02"/>
<rect x="425.0" y="182.0" width="7.6" height="1.1" fill="rgb(105, 30, 238)" fill-opacity="0.01"/>
<rect x="432.4" y="182.0" width="7.6" height="1.1" fill="rgb(105, 30, 238)" fill-opacity="0.01"/>
<rect x="425.0" y="185.1" width="7.6" height="1.0" fill="rgb(105, 30, 238)" fill-opacity="0.01"/>
<rect x="432.4" y="185.1" width="7.6" height="1.0" fill="rgb(105, 30, 238)" fill-opacity="0.02"/>
<rect x="425.0" y="188.1" width="7.6" height="1.2" fill="rgb(105, 30, 238)" fill-opacity="0.01"/>
<rect x="432.4" y="188.1" width="7.6" height="1.2" fill="rgb(105, 30, 238)" fill-opacity="0.01"/>
<rect x="425.0" y="190.5" width="7.6" height="1.7" fill="rgb(105, 30, 238)" fill-opacity="0.00"/>
<rect x="432.4" y="190.5" width="7.6" height="1.7" fill="rgb(105, 30, 238)" fill-opacity="0.00"/>
<rect x="425.0" y="194.6" width="7.6" height="1.4" fill="rgb(105, 30, 238)" fill-opacity="0.01"/>
<rect x="432.4" y="194.6" width="7.6" height="1.4" fill="rgb(105, 30, 238)" fill-opacity="0.00"/>
<rect x="425.0" y="197.7" width="7.6" height="1.4" fill="rgb(105, 30, 238)" fill-opacity="0.01"/>
<rect x="432.4" y="197.7" width="7.6" height="1.4" fill="rgb(105, 30, 238)" fill-opacity="0.01"/>
<rect x="425.0" y="200.6" width="7.6" height="1.2" fill="rgb(105, 30, 238)" fill-opacity="0.00"/>
<rect x="432.4" y="200.6" width="7.6" height="1.2" fill="rgb(105, 30, 238)" fill-opacity="0.00"/>
<rect x="425.0" y="204.0" width="7.6" height="1.1" fill="rgb(105, 30, 238)" fill-opacity="0.01"/>
<rect x="432.4" y="204.0" width="7.6" height="1.1" fill="rgb(105, 30, 238)" fill-opacity="0.01"/>
<rect x="425.0" y="206.3" width="7.6" height="1.3" fill="rgb(105, 30, 238)" fill-opacity="0.01"/>
<rect x="432.4" y="206.3" width="7.6" height="1.3" fill="rgb(105, 30, 238)" fill-opacity="0.01"/>
<rect x="425.0" y="209.1" width="7.6" height="1.5" fill="rgb(105, 30, 238)" fill-opacity="0.01"/>
<rect x="432.4" y="209.1" width="7.6" height="1.5" fill="rgb(105, 30, 238)" fill-opacity="0.01"/>
<rect x="425.0" y="212.0" width="7.6" height="1.2" fill="rgb(105, 30, 238)" fill-opacity="0.01"/>
<rect x="432.4" y="212.0" width="7.6" height="1.2" fill="rgb(105, 30, 238)" fill-opacity="0.01"/>
<rect x="425.0" y="214.5" width="7.6" height="1.8" fill="rgb(105, 30, 238)" fill-opacity="0.01"/>
<rect x="432.4" y="214.5" width="7.6" height="1.8" fill="rgb(105, 30, 238)" fill-opacity="0.02"/>
<rect x="425.0" y="217.4" width="7.6" height="1.2" fill="rgb(105, 30, 238)" fill-opacity="0.02"/>
<rect x="432.4" y="217.4" width="7.6" height="1.2" fill="rgb(105, 30, 238)" fill-opacity="0.02"/>
<rect x="425.0" y="220.4" width="7.6" height="1.1" fill="rgb(105, 30, 238)" fill-opacity="0.01"/>
<rect x="432.4" y="220.4" width="7.6" height="1.1" fill="rgb(105, 30, 238)" fill-opacity="0.01"/>
<rect x="425.0" y="223.1" width="7.6" height="0.9" fill="rgb(105, 30, 238)" fill-opacity="0.01"/>
<rect x="432.4" y="223.1" width="7.6" height="0.9" fill="rgb(105, 30, 238)" fill-opacity="0.01"/>
<rect x="425.0" y="225.8" width="7.6" height="1.5" fill="rgb(105, 30, 238)" fill-opacity="0.00"/>
<rect x="432.4" y="225.8" width="7.6" height="1.5" fill="rgb(105, 30, 238)" fill-opacity="0.01"/>
<rect x="425.0" y="228.9" width="7.6" height="1.6" fill="rgb(105, 30, 238)" fill-opacity="0.01"/>
<rect x="432.4" y="228.9" width="7.6" height="1.6" fill="rgb(105, 30, 238)" fill-opacity="0.01"/>
<rect x="425.0" y="232.7" width="7.6" height="1.3" fill="rgb(105, 30, 238)" fill-opacity="0.00"/>
<rect x="432.4" y="232.7" width="7.6" height="1.3" fill="rgb(105, 30, 238)" fill-opacity="0.00"/>
<rect x="425.0" y="236.2" width="7.6" height="1.5" fill="rgb(105, 30, 238)" fill-opacity="0.02"/>
<rect x="432.4" y="236.2" width="7.6" height="1.5" fill="rgb(105, 30, 238)" fill-opacity="0.01"/>
<rect x="425.0" y="239.5" width="7.6" height="1.2" fill="rgb(105, 30, 238)" fill-opacity="0.01"/>
<rect x="432.4" y="239.5" width="7.6" height="1.2" fill="rgb(105, 30, 238)" fill-opacity="0.01"/>
<rect x="425.0" y="242.9" width="7.6" height="1.5" fill="rgb(105, 30, 238)" fill-opacity="0.01"/>
<rect x="432.4" y="242.9" width="7.6" height="1.5" fill="rgb(105, 30, 238)" fill-opacity="0.01"/>
<rect x="425.0" y="246.2" width="7.6" height="1.5" fill="rgb(105, 30, 238)" fill-opacity="0.01"/>
<rect x="432.4" y="246.2" width="7.6" height="1.5" fill="rgb(105, 30, 238)" fill-opacity="0.01"/>
<rect x="425.0" y="248.9" width="7.6" height="1.5" fill="rgb(105, 30, 238)" fill-opacity="0.01"/>
<rect x="432.4" y="248.9" width="7.6" height="1.5" fill="rgb(105, 30, 238)" fill-opacity="0.01"/>
<rect x="425.0" y="253.0" width="7.6" height="0.9" fill="rgb(105, 30, 238)" fill-opacity="0.01"/>
<rect x="432.4" y="253.0" width="7.6" height="0.9" fill="rgb(105, 30, 238)" fill-opacity="0.01"/>
<rect x="424.9" y="127.75" width="15.0" height="3.5" fill="rgb(105, 30, 238)" fill-opacity="0.15"/>
<rect x="424.9" y="183.95" width="15.0" height="1.5" fill="rgb(105, 30, 238)" fill-opacity="0.12"/>
<rect x="424.9" y="233.05" width="15.0" height="1.3" fill="rgb(105, 30, 238)" fill-opacity="0.3"/>
<rect x="444.0" y="87.3" width="7.3" height="1.4" fill="rgb(105, 30, 238)" fill-opacity="0.01"/>
<rect x="451.1" y="87.3" width="7.3" height="1.4" fill="rgb(105, 30, 238)" fill-opacity="0.01"/>
<rect x="444.0" y="90.8" width="7.3" height="1.4" fill="rgb(105, 30, 238)" fill-opacity="0.05"/>
<rect x="451.1" y="90.8" width="7.3" height="1.4" fill="rgb(105, 30, 238)" fill-opacity="0.04"/>
<rect x="444.0" y="93.8" width="7.3" height="1.8" fill="rgb(105, 30, 238)" fill-opacity="0.01"/>
<rect x="451.1" y="93.8" width="7.3" height="1.8" fill="rgb(105, 30, 238)" fill-opacity="0.01"/>
<rect x="444.0" y="97.8" width="7.3" height="1.0" fill="rgb(105, 30, 238)" fill-opacity="0.05"/>
<rect x="451.1" y="97.8" width="7.3" height="1.0" fill="rgb(105, 30, 238)" fill-opacity="0.03"/>
<rect x="444.0" y="100.3" width="7.3" height="1.3" fill="rgb(105, 30, 238)" fill-opacity="0.00"/>
<rect x="451.1" y="100.3" width="7.3" height="1.3" fill="rgb(105, 30, 238)" fill-opacity="0.00"/>
<rect x="444.0" y="103.6" width="7.3" height="1.2" fill="rgb(105, 30, 238)" fill-opacity="0.01"/>
<rect x="451.1" y="103.6" width="7.3" height="1.2" fill="rgb(105, 30, 238)" fill-opacity="0.02"/>
<rect x="444.0" y="107.4" width="7.3" height="1.4" fill="rgb(105, 30, 238)" fill-opacity="0.02"/>
<rect x="451.1" y="107.4" width="7.3" height="1.4" fill="rgb(105, 30, 238)" fill-opacity="0.01"/>
<rect x="444.0" y="110.1" width="7.3" height="1.0" fill="rgb(105, 30, 238)" fill-opacity="0.06"/>
<rect x="451.1" y="110.1" width="7.3" height="1.0" fill="rgb(105, 30, 238)" fill-opacity="0.05"/>
<rect x="444.0" y="112.8" width="7.3" height="1.4" fill="rgb(105, 30, 238)" fill-opacity="0.02"/>
<rect x="451.1" y="112.8" width="7.3" height="1.4" fill="rgb(105, 30, 238)" fill-opacity="0.01"/>
<rect x="444.0" y="116.3" width="7.3" height="1.6" fill="rgb(105, 30, 238)" fill-opacity="0.05"/>
<rect x="451.1" y="116.3" width="7.3" height="1.6" fill="rgb(105, 30, 238)" fill-opacity="0.04"/>
<rect x="444.0" y="119.8" width="7.3" height="1.0" fill="rgb(105, 30, 238)" fill-opacity="0.04"/>
<rect x="451.1" y="119.8" width="7.3" height="1.0" fill="rgb(105, 30, 238)" fill-opacity="0.07"/>
<rect x="444.0" y="122.2" width="7.3" height="1.2" fill="rgb(105, 30, 238)" fill-opacity="0.01"/>
<rect x="451.1" y="122.2" width="7.3" height="1.2" fill="rgb(105, 30, 238)" fill-opacity="0.01"/>
<rect x="444.0" y="124.5" width="7.3" height="1.5" fill="rgb(105, 30, 238)" fill-opacity="0.01"/>
<rect x="451.1" y="124.5" width="7.3" height="1.5" fill="rgb(105, 30, 238)" fill-opacity="0.01"/>
<rect x="444.0" y="127.8" width="7.3" height="1.3" fill="rgb(105, 30, 238)" fill-opacity="0.04"/>
<rect x="451.1" y="127.8" width="7.3" height="1.3" fill="rgb(105, 30, 238)" fill-opacity="0.03"/>
<rect x="444.0" y="131.5" width="7.3" height="1.7" fill="rgb(105, 30, 238)" fill-opacity="0.00"/>
<rect x="451.1" y="131.5" width="7.3" height="1.7" fill="rgb(105, 30, 238)" fill-opacity="0.00"/>
<rect x="444.0" y="135.5" width="7.3" height="1.0" fill="rgb(105, 30, 238)" fill-opacity="0.06"/>
<rect x="451.1" y="135.5" width="7.3" height="1.0" fill="rgb(105, 30, 238)" fill-opacity="0.03"/>
<rect x="444.0" y="137.5" width="7.3" height="1.8" fill="rgb(105, 30, 238)" fill-opacity="0.03"/>
<rect x="451.1" y="137.5" width="7.3" height="1.8" fill="rgb(105, 30, 238)" fill-opacity="0.02"/>
<rect x="444.0" y="140.5" width="7.3" height="1.1" fill="rgb(105, 30, 238)" fill-opacity="0.04"/>
<rect x="451.1" y="140.5" width="7.3" height="1.1" fill="rgb(105, 30, 238)" fill-opacity="0.03"/>
<rect x="444.0" y="144.1" width="7.3" height="1.6" fill="rgb(105, 30, 238)" fill-opacity="0.01"/>
<rect x="451.1" y="144.1" width="7.3" height="1.6" fill="rgb(105, 30, 238)" fill-opacity="0.01"/>
<rect x="444.0" y="147.9" width="7.3" height="1.5" fill="rgb(105, 30, 238)" fill-opacity="0.07"/>
<rect x="451.1" y="147.9" width="7.3" height="1.5" fill="rgb(105, 30, 238)" fill-opacity="0.07"/>
<rect x="444.0" y="150.7" width="7.3" height="1.5" fill="rgb(105, 30, 238)" fill-opacity="0.04"/>
<rect x="451.1" y="150.7" width="7.3" height="1.5" fill="rgb(105, 30, 238)" fill-opacity="0.03"/>
<rect x="444.0" y="154.7" width="7.3" height="1.4" fill="rgb(105, 30, 238)" fill-opacity="0.01"/>
<rect x="451.1" y="154.7" width="7.3" height="1.4" fill="rgb(105, 30, 238)" fill-opacity="0.01"/>
<rect x="444.0" y="157.9" width="7.3" height="1.0" fill="rgb(105, 30, 238)" fill-opacity="0.02"/>
<rect x="451.1" y="157.9" width="7.3" height="1.0" fill="rgb(105, 30, 238)" fill-opacity="0.03"/>
<rect x="444.0" y="160.6" width="7.3" height="1.4" fill="rgb(105, 30, 238)" fill-opacity="0.03"/>
<rect x="451.1" y="160.6" width="7.3" height="1.4" fill="rgb(105, 30, 238)" fill-opacity="0.07"/>
<rect x="444.0" y="163.7" width="7.3" height="1.4" fill="rgb(105, 30, 238)" fill-opacity="0.05"/>
<rect x="451.1" y="163.7" width="7.3" height="1.4" fill="rgb(105, 30, 238)" fill-opacity="0.03"/>
<rect x="444.0" y="166.8" width="7.3" height="1.8" fill="rgb(105, 30, 238)" fill-opacity="0.01"/>
<rect x="451.1" y="166.8" width="7.3" height="1.8" fill="rgb(105, 30, 238)" fill-opacity="0.01"/>
<rect x="444.0" y="169.6" width="7.3" height="1.4" fill="rgb(105, 30, 238)" fill-opacity="0.06"/>
<rect x="451.1" y="169.6" width="7.3" height="1.4" fill="rgb(105, 30, 238)" fill-opacity="0.03"/>
<rect x="444.0" y="173.7" width="7.3" height="1.4" fill="rgb(105, 30, 238)" fill-opacity="0.04"/>
<rect x="451.1" y="173.7" width="7.3" height="1.4" fill="rgb(105, 30, 238)" fill-opacity="0.02"/>
<rect x="444.0" y="177.2" width="7.3" height="1.5" fill="rgb(105, 30, 238)" fill-opacity="0.03"/>
<rect x="451.1" y="177.2" width="7.3" height="1.5" fill="rgb(105, 30, 238)" fill-opacity="0.02"/>
<rect x="444.0" y="180.4" width="7.3" height="1.4" fill="rgb(105, 30, 238)" fill-opacity="0.03"/>
<rect x="451.1" y="180.4" width="7.3" height="1.4" fill="rgb(105, 30, 238)" fill-opacity="0.04"/>
<rect x="444.0" y="183.4" width="7.3" height="1.4" fill="rgb(105, 30, 238)" fill-opacity="0.04"/>
<rect x="451.1" y="183.4" width="7.3" height="1.4" fill="rgb(105, 30, 238)" fill-opacity="0.07"/>
<rect x="444.0" y="186.5" width="7.3" height="1.4" fill="rgb(105, 30, 238)" fill-opacity="0.02"/>
<rect x="451.1" y="186.5" width="7.3" height="1.4" fill="rgb(105, 30, 238)" fill-opacity="0.02"/>
<rect x="444.0" y="189.9" width="7.3" height="1.6" fill="rgb(105, 30, 238)" fill-opacity="0.02"/>
<rect x="451.1" y="189.9" width="7.3" height="1.6" fill="rgb(105, 30, 238)" fill-opacity="0.02"/>
<rect x="444.0" y="193.4" width="7.3" height="1.5" fill="rgb(105, 30, 238)" fill-opacity="0.03"/>
<rect x="451.1" y="193.4" width="7.3" height="1.5" fill="rgb(105, 30, 238)" fill-opacity="0.06"/>
<rect x="444.0" y="197.3" width="7.3" height="1.4" fill="rgb(105, 30, 238)" fill-opacity="0.00"/>
<rect x="451.1" y="197.3" width="7.3" height="1.4" fill="rgb(105, 30, 238)" fill-opacity="0.00"/>
<rect x="444.0" y="200.0" width="7.3" height="1.7" fill="rgb(105, 30, 238)" fill-opacity="0.04"/>
<rect x="451.1" y="200.0" width="7.3" height="1.7" fill="rgb(105, 30, 238)" fill-opacity="0.05"/>
<rect x="444.0" y="204.2" width="7.3" height="1.5" fill="rgb(105, 30, 238)" fill-opacity="0.04"/>
<rect x="451.1" y="204.2" width="7.3" height="1.5" fill="rgb(105, 30, 238)" fill-opacity="0.04"/>
<rect x="444.0" y="207.6" width="7.3" height="1.5" fill="rgb(105, 30, 238)" fill-opacity="0.01"/>
<rect x="451.1" y="207.6" width="7.3" height="1.5" fill="rgb(105, 30, 238)" fill-opacity="0.01"/>
<rect x="444.0" y="211.3" width="7.3" height="1.0" fill="rgb(105, 30, 238)" fill-opacity="0.01"/>
<rect x="451.1" y="211.3" width="7.3" height="1.0" fill="rgb(105, 30, 238)" fill-opacity="0.01"/>
<rect x="444.0" y="214.8" width="7.3" height="1.5" fill="rgb(105, 30, 238)" fill-opacity="0.03"/>
<rect x="451.1" y="214.8" width="7.3" height="1.5" fill="rgb(105, 30, 238)" fill-opacity="0.03"/>
<rect x="444.0" y="218.2" width="7.3" height="1.1" fill="rgb(105, 30, 238)" fill-opacity="0.02"/>
<rect x="451.1" y="218.2" width="7.3" height="1.1" fill="rgb(105, 30, 238)" fill-opacity="0.01"/>
<rect x="444.0" y="221.0" width="7.3" height="1.5" fill="rgb(105, 30, 238)" fill-opacity="0.03"/>
<rect x="451.1" y="221.0" width="7.3" height="1.5" fill="rgb(105, 30, 238)" fill-opacity="0.06"/>
<rect x="444.0" y="223.5" width="7.3" height="1.0" fill="rgb(105, 30, 238)" fill-opacity="0.05"/>
<rect x="451.1" y="223.5" width="7.3" height="1.0" fill="rgb(105, 30, 238)" fill-opacity="0.07"/>
<rect x="444.0" y="226.3" width="7.3" height="0.9" fill="rgb(105, 30, 238)" fill-opacity="0.03"/>
<rect x="451.1" y="226.3" width="7.3" height="0.9" fill="rgb(105, 30, 238)" fill-opacity="0.03"/>
<rect x="444.0" y="229.7" width="7.3" height="1.3" fill="rgb(105, 30, 238)" fill-opacity="0.01"/>
<rect x="451.1" y="229.7" width="7.3" height="1.3" fill="rgb(105, 30, 238)" fill-opacity="0.03"/>
<rect x="444.0" y="232.4" width="7.3" height="1.0" fill="rgb(105, 30, 238)" fill-opacity="0.00"/>
<rect x="451.1" y="232.4" width="7.3" height="1.0" fill="rgb(105, 30, 238)" fill-opacity="0.00"/>
<rect x="444.0" y="234.6" width="7.3" height="1.8" fill="rgb(105, 30, 238)" fill-opacity="0.01"/>
<rect x="451.1" y="234.6" width="7.3" height="1.8" fill="rgb(105, 30, 238)" fill-opacity="0.00"/>
<rect x="444.0" y="237.4" width="7.3" height="1.5" fill="rgb(105, 30, 238)" fill-opacity="0.02"/>
<rect x="451.1" y="237.4" width="7.3" height="1.5" fill="rgb(105, 30, 238)" fill-opacity="0.01"/>
<rect x="444.0" y="240.1" width="7.3" height="1.6" fill="rgb(105, 30, 238)" fill-opacity="0.06"/>
<rect x="451.1" y="240.1" width="7.3" height="1.6" fill="rgb(105, 30, 238)" fill-opacity="0.05"/>
<rect x="444.0" y="242.8" width="7.3" height="1.5" fill="rgb(105, 30, 238)" fill-opacity="0.04"/>
<rect x="451.1" y="242.8" width="7.3" height="1.5" fill="rgb(105, 30, 238)" fill-opacity="0.06"/>
<rect x="444.0" y="245.7" width="7.3" height="1.8" fill="rgb(105, 30, 238)" fill-opacity="0.02"/>
<rect x="451.1" y="245.7" width="7.3" height="1.8" fill="rgb(105, 30, 238)" fill-opacity="0.02"/>
<rect x="444.0" y="249.5" width="7.3" height="1.6" fill="rgb(105, 30, 238)" fill-opacity="0.00"/>
<rect x="451.1" y="249.5" width="7.3" height="1.6" fill="rgb(105, 30, 238)" fill-opacity="0.01"/>
<rect x="444.0" y="252.4" width="7.3" height="1.7" fill="rgb(105, 30, 238)" fill-opacity="0.02"/>
<rect x="451.1" y="252.4" width="7.3" height="1.7" fill="rgb(105, 30, 238)" fill-opacity="0.03"/>
<rect x="443.9" y="86.40" width="14.4" height="0.8" fill="rgb(90, 90, 110)" fill-opacity="0.45"/>
<rect x="443.9" y="128.55" width="14.4" height="1.3" fill="rgb(105, 30, 238)" fill-opacity="0.15"/>
<rect x="443.9" y="156.25" width="14.4" height="2.5" fill="rgb(105, 30, 238)" fill-opacity="0.4"/>
<rect x="443.9" y="173.00" width="14.4" height="2" fill="rgb(105, 30, 238)" fill-opacity="0.12"/>
<rect x="443.9" y="179.00" width="14.4" height="2" fill="rgb(105, 30, 238)" fill-opacity="0.12"/>
<rect x="443.9" y="183.70" width="14.4" height="2" fill="rgb(105, 30, 238)" fill-opacity="0.25"/>
<rect x="443.9" y="249.55" width="14.4" height="1.5" fill="rgb(105, 30, 238)" fill-opacity="0.35"/>
<rect x="462.0" y="87.3" width="8.0" height="1.3" fill="rgb(105, 30, 238)" fill-opacity="0.03"/>
<rect x="469.8" y="87.3" width="8.0" height="1.3" fill="rgb(105, 30, 238)" fill-opacity="0.05"/>
<rect x="462.0" y="90.2" width="8.0" height="1.5" fill="rgb(105, 30, 238)" fill-opacity="0.03"/>
<rect x="469.8" y="90.2" width="8.0" height="1.5" fill="rgb(105, 30, 238)" fill-opacity="0.03"/>
<rect x="462.0" y="93.9" width="8.0" height="1.8" fill="rgb(105, 30, 238)" fill-opacity="0.05"/>
<rect x="469.8" y="93.9" width="8.0" height="1.8" fill="rgb(105, 30, 238)" fill-opacity="0.04"/>
<rect x="462.0" y="96.8" width="8.0" height="1.8" fill="rgb(105, 30, 238)" fill-opacity="0.06"/>
<rect x="469.8" y="96.8" width="8.0" height="1.8" fill="rgb(105, 30, 238)" fill-opacity="0.04"/>
<rect x="462.0" y="100.5" width="8.0" height="1.8" fill="rgb(105, 30, 238)" fill-opacity="0.05"/>
<rect x="469.8" y="100.5" width="8.0" height="1.8" fill="rgb(105, 30, 238)" fill-opacity="0.04"/>
<rect x="462.0" y="104.0" width="8.0" height="1.7" fill="rgb(105, 30, 238)" fill-opacity="0.03"/>
<rect x="469.8" y="104.0" width="8.0" height="1.7" fill="rgb(105, 30, 238)" fill-opacity="0.02"/>
<rect x="462.0" y="108.1" width="8.0" height="1.6" fill="rgb(105, 30, 238)" fill-opacity="0.01"/>
<rect x="469.8" y="108.1" width="8.0" height="1.6" fill="rgb(105, 30, 238)" fill-opacity="0.01"/>
<rect x="462.0" y="111.4" width="8.0" height="1.4" fill="rgb(105, 30, 238)" fill-opacity="0.07"/>
<rect x="469.8" y="111.4" width="8.0" height="1.4" fill="rgb(105, 30, 238)" fill-opacity="0.03"/>
<rect x="462.0" y="115.2" width="8.0" height="1.6" fill="rgb(105, 30, 238)" fill-opacity="0.06"/>
<rect x="469.8" y="115.2" width="8.0" height="1.6" fill="rgb(105, 30, 238)" fill-opacity="0.04"/>
<rect x="462.0" y="119.2" width="8.0" height="1.6" fill="rgb(105, 30, 238)" fill-opacity="0.06"/>
<rect x="469.8" y="119.2" width="8.0" height="1.6" fill="rgb(105, 30, 238)" fill-opacity="0.03"/>
<rect x="462.0" y="121.9" width="8.0" height="1.4" fill="rgb(105, 30, 238)" fill-opacity="0.03"/>
<rect x="469.8" y="121.9" width="8.0" height="1.4" fill="rgb(105, 30, 238)" fill-opacity="0.06"/>
<rect x="462.0" y="125.8" width="8.0" height="1.1" fill="rgb(105, 30, 238)" fill-opacity="0.04"/>
<rect x="469.8" y="125.8" width="8.0" height="1.1" fill="rgb(105, 30, 238)" fill-opacity="0.04"/>
<rect x="462.0" y="128.3" width="8.0" height="1.1" fill="rgb(105, 30, 238)" fill-opacity="0.06"/>
<rect x="469.8" y="128.3" width="8.0" height="1.1" fill="rgb(105, 30, 238)" fill-opacity="0.04"/>
<rect x="462.0" y="130.5" width="8.0" height="1.6" fill="rgb(105, 30, 238)" fill-opacity="0.03"/>
<rect x="469.8" y="130.5" width="8.0" height="1.6" fill="rgb(105, 30, 238)" fill-opacity="0.05"/>
<rect x="462.0" y="134.6" width="8.0" height="1.7" fill="rgb(105, 30, 238)" fill-opacity="0.03"/>
<rect x="469.8" y="134.6" width="8.0" height="1.7" fill="rgb(105, 30, 238)" fill-opacity="0.03"/>
<rect x="462.0" y="137.6" width="8.0" height="1.1" fill="rgb(105, 30, 238)" fill-opacity="0.01"/>
<rect x="469.8" y="137.6" width="8.0" height="1.1" fill="rgb(105, 30, 238)" fill-opacity="0.01"/>
<rect x="462.0" y="140.6" width="8.0" height="1.3" fill="rgb(105, 30, 238)" fill-opacity="0.02"/>
<rect x="469.8" y="140.6" width="8.0" height="1.3" fill="rgb(105, 30, 238)" fill-opacity="0.02"/>
<rect x="462.0" y="144.4" width="8.0" height="1.2" fill="rgb(105, 30, 238)" fill-opacity="0.01"/>
<rect x="469.8" y="144.4" width="8.0" height="1.2" fill="rgb(105, 30, 238)" fill-opacity="0.01"/>
<rect x="462.0" y="146.9" width="8.0" height="1.4" fill="rgb(105, 30, 238)" fill-opacity="0.02"/>
<rect x="469.8" y="146.9" width="8.0" height="1.4" fill="rgb(105, 30, 238)" fill-opacity="0.01"/>
<rect x="462.0" y="149.4" width="8.0" height="1.8" fill="rgb(105, 30, 238)" fill-opacity="0.05"/>
<rect x="469.8" y="149.4" width="8.0" height="1.8" fill="rgb(105, 30, 238)" fill-opacity="0.06"/>
<rect x="462.0" y="152.6" width="8.0" height="1.6" fill="rgb(105, 30, 238)" fill-opacity="0.04"/>
<rect x="469.8" y="152.6" width="8.0" height="1.6" fill="rgb(105, 30, 238)" fill-opacity="0.03"/>
<rect x="462.0" y="156.5" width="8.0" height="1.8" fill="rgb(105, 30, 238)" fill-opacity="0.01"/>
<rect x="469.8" y="156.5" width="8.0" height="1.8" fill="rgb(105, 30, 238)" fill-opacity="0.01"/>
<rect x="462.0" y="159.6" width="8.0" height="1.0" fill="rgb(105, 30, 238)" fill-opacity="0.00"/>
<rect x="469.8" y="159.6" width="8.0" height="1.0" fill="rgb(105, 30, 238)" fill-opacity="0.00"/>
<rect x="462.0" y="162.3" width="8.0" height="1.8" fill="rgb(105, 30, 238)" fill-opacity="0.03"/>
<rect x="469.8" y="162.3" width="8.0" height="1.8" fill="rgb(105, 30, 238)" fill-opacity="0.06"/>
<rect x="462.0" y="165.7" width="8.0" height="1.0" fill="rgb(105, 30, 238)" fill-opacity="0.04"/>
<rect x="469.8" y="165.7" width="8.0" height="1.0" fill="rgb(105, 30, 238)" fill-opacity="0.06"/>
<rect x="462.0" y="168.7" width="8.0" height="1.8" fill="rgb(105, 30, 238)" fill-opacity="0.04"/>
<rect x="469.8" y="168.7" width="8.0" height="1.8" fill="rgb(105, 30, 238)" fill-opacity="0.04"/>
<rect x="462.0" y="171.7" width="8.0" height="1.8" fill="rgb(105, 30, 238)" fill-opacity="0.04"/>
<rect x="469.8" y="171.7" width="8.0" height="1.8" fill="rgb(105, 30, 238)" fill-opacity="0.03"/>
<rect x="462.0" y="174.9" width="8.0" height="1.2" fill="rgb(105, 30, 238)" fill-opacity="0.08"/>
<rect x="469.8" y="174.9" width="8.0" height="1.2" fill="rgb(105, 30, 238)" fill-opacity="0.07"/>
<rect x="462.0" y="177.2" width="8.0" height="1.6" fill="rgb(105, 30, 238)" fill-opacity="0.05"/>
<rect x="469.8" y="177.2" width="8.0" height="1.6" fill="rgb(105, 30, 238)" fill-opacity="0.06"/>
<rect x="462.0" y="179.9" width="8.0" height="1.0" fill="rgb(105, 30, 238)" fill-opacity="0.07"/>
<rect x="469.8" y="179.9" width="8.0" height="1.0" fill="rgb(105, 30, 238)" fill-opacity="0.05"/>
<rect x="462.0" y="182.4" width="8.0" height="1.4" fill="rgb(105, 30, 238)" fill-opacity="0.03"/>
<rect x="469.8" y="182.4" width="8.0" height="1.4" fill="rgb(105, 30, 238)" fill-opacity="0.04"/>
<rect x="462.0" y="185.2" width="8.0" height="1.0" fill="rgb(105, 30, 238)" fill-opacity="0.02"/>
<rect x="469.8" y="185.2" width="8.0" height="1.0" fill="rgb(105, 30, 238)" fill-opacity="0.02"/>
<rect x="462.0" y="187.5" width="8.0" height="1.5" fill="rgb(105, 30, 238)" fill-opacity="0.00"/>
<rect x="469.8" y="187.5" width="8.0" height="1.5" fill="rgb(105, 30, 238)" fill-opacity="0.00"/>
<rect x="462.0" y="190.0" width="8.0" height="1.7" fill="rgb(105, 30, 238)" fill-opacity="0.02"/>
<rect x="469.8" y="190.0" width="8.0" height="1.7" fill="rgb(105, 30, 238)" fill-opacity="0.02"/>
<rect x="462.0" y="194.2" width="8.0" height="1.0" fill="rgb(105, 30, 238)" fill-opacity="0.02"/>
<rect x="469.8" y="194.2" width="8.0" height="1.0" fill="rgb(105, 30, 238)" fill-opacity="0.04"/>
<rect x="462.0" y="197.6" width="8.0" height="1.5" fill="rgb(105, 30, 238)" fill-opacity="0.02"/>
<rect x="469.8" y="197.6" width="8.0" height="1.5" fill="rgb(105, 30, 238)" fill-opacity="0.04"/>
<rect x="462.0" y="200.8" width="8.0" height="1.5" fill="rgb(105, 30, 238)" fill-opacity="0.01"/>
<rect x="469.8" y="200.8" width="8.0" height="1.5" fill="rgb(105, 30, 238)" fill-opacity="0.00"/>
<rect x="462.0" y="204.4" width="8.0" height="1.4" fill="rgb(105, 30, 238)" fill-opacity="0.01"/>
<rect x="469.8" y="204.4" width="8.0" height="1.4" fill="rgb(105, 30, 238)" fill-opacity="0.01"/>
<rect x="462.0" y="207.5" width="8.0" height="1.0" fill="rgb(105, 30, 238)" fill-opacity="0.02"/>
<rect x="469.8" y="207.5" width="8.0" height="1.0" fill="rgb(105, 30, 238)" fill-opacity="0.01"/>
<rect x="462.0" y="209.8" width="8.0" height="1.3" fill="rgb(105, 30, 238)" fill-opacity="0.03"/>
<rect x="469.8" y="209.8" width="8.0" height="1.3" fill="rgb(105, 30, 238)" fill-opacity="0.01"/>
<rect x="462.0" y="213.7" width="8.0" height="1.0" fill="rgb(105, 30, 238)" fill-opacity="0.06"/>
<rect x="469.8" y="213.7" width="8.0" height="1.0" fill="rgb(105, 30, 238)" fill-opacity="0.04"/>
<rect x="462.0" y="216.4" width="8.0" height="1.2" fill="rgb(105, 30, 238)" fill-opacity="0.01"/>
<rect x="469.8" y="216.4" width="8.0" height="1.2" fill="rgb(105, 30, 238)" fill-opacity="0.01"/>
<rect x="462.0" y="220.1" width="8.0" height="1.8" fill="rgb(105, 30, 238)" fill-opacity="0.03"/>
<rect x="469.8" y="220.1" width="8.0" height="1.8" fill="rgb(105, 30, 238)" fill-opacity="0.04"/>
<rect x="462.0" y="224.4" width="8.0" height="1.0" fill="rgb(105, 30, 238)" fill-opacity="0.03"/>
<rect x="469.8" y="224.4" width="8.0" height="1.0" fill="rgb(105, 30, 238)" fill-opacity="0.06"/>
<rect x="462.0" y="226.4" width="8.0" height="1.6" fill="rgb(105, 30, 238)" fill-opacity="0.01"/>
<rect x="469.8" y="226.4" width="8.0" height="1.6" fill="rgb(105, 30, 238)" fill-opacity="0.01"/>
<rect x="462.0" y="230.3" width="8.0" height="1.4" fill="rgb(105, 30, 238)" fill-opacity="0.01"/>
<rect x="469.8" y="230.3" width="8.0" height="1.4" fill="rgb(105, 30, 238)" fill-opacity="0.02"/>
<rect x="462.0" y="233.0" width="8.0" height="1.4" fill="rgb(105, 30, 238)" fill-opacity="0.01"/>
<rect x="469.8" y="233.0" width="8.0" height="1.4" fill="rgb(105, 30, 238)" fill-opacity="0.01"/>
<rect x="462.0" y="236.6" width="8.0" height="1.1" fill="rgb(105, 30, 238)" fill-opacity="0.00"/>
<rect x="469.8" y="236.6" width="8.0" height="1.1" fill="rgb(105, 30, 238)" fill-opacity="0.01"/>
<rect x="462.0" y="239.5" width="8.0" height="1.1" fill="rgb(105, 30, 238)" fill-opacity="0.01"/>
<rect x="469.8" y="239.5" width="8.0" height="1.1" fill="rgb(105, 30, 238)" fill-opacity="0.01"/>
<rect x="462.0" y="242.9" width="8.0" height="1.4" fill="rgb(105, 30, 238)" fill-opacity="0.01"/>
<rect x="469.8" y="242.9" width="8.0" height="1.4" fill="rgb(105, 30, 238)" fill-opacity="0.01"/>
<rect x="462.0" y="246.0" width="8.0" height="1.5" fill="rgb(105, 30, 238)" fill-opacity="0.00"/>
<rect x="469.8" y="246.0" width="8.0" height="1.5" fill="rgb(105, 30, 238)" fill-opacity="0.00"/>
<rect x="462.0" y="249.9" width="8.0" height="1.7" fill="rgb(105, 30, 238)" fill-opacity="0.02"/>
<rect x="469.8" y="249.9" width="8.0" height="1.7" fill="rgb(105, 30, 238)" fill-opacity="0.04"/>
<rect x="462.0" y="253.3" width="8.0" height="1.7" fill="rgb(105, 30, 238)" fill-opacity="0.01"/>
<rect x="469.8" y="253.3" width="8.0" height="1.7" fill="rgb(105, 30, 238)" fill-opacity="0.02"/>
<rect x="461.9" y="86.40" width="15.8" height="0.8" fill="rgb(90, 90, 110)" fill-opacity="0.45"/>
<rect x="461.9" y="128.55" width="15.8" height="1.3" fill="rgb(105, 30, 238)" fill-opacity="0.15"/>
<rect x="461.9" y="156.25" width="15.8" height="2.5" fill="rgb(105, 30, 238)" fill-opacity="0.4"/>
<rect x="461.9" y="173.00" width="15.8" height="2" fill="rgb(105, 30, 238)" fill-opacity="0.12"/>
<rect x="461.9" y="179.00" width="15.8" height="2" fill="rgb(105, 30, 238)" fill-opacity="0.12"/>
<rect x="461.9" y="183.70" width="15.8" height="2" fill="rgb(105, 30, 238)" fill-opacity="0.25"/>
<rect x="461.9" y="240.75" width="15.8" height="1.5" fill="rgb(105, 30, 238)" fill-opacity="0.4"/>
<rect x="461.9" y="247.80" width="15.8" height="2" fill="rgb(105, 30, 238)" fill-opacity="0.65"/>
<rect x="461.9" y="252.30" width="15.8" height="1.8" fill="rgb(105, 30, 238)" fill-opacity="0.65"/>
<clipPath id="cp9"><polygon points="479.6,85.3 494.6,85.3 497.8,150 497.9,205 497.6,257.8 480.4,257.8 479.3,205 479.3,150"/></clipPath>
<g clip-path="url(#cp9)">
<rect x="480.2" y="87.3" width="8.5" height="1.0" fill="rgb(105, 30, 238)" fill-opacity="0.06"/>
<rect x="488.5" y="87.3" width="8.5" height="1.0" fill="rgb(105, 30, 238)" fill-opacity="0.03"/>
<rect x="480.2" y="90.2" width="8.5" height="1.3" fill="rgb(105, 30, 238)" fill-opacity="0.04"/>
<rect x="488.5" y="90.2" width="8.5" height="1.3" fill="rgb(105, 30, 238)" fill-opacity="0.09"/>
<rect x="480.2" y="93.8" width="8.5" height="1.7" fill="rgb(105, 30, 238)" fill-opacity="0.05"/>
<rect x="488.5" y="93.8" width="8.5" height="1.7" fill="rgb(105, 30, 238)" fill-opacity="0.04"/>
<rect x="480.2" y="97.7" width="8.5" height="1.0" fill="rgb(105, 30, 238)" fill-opacity="0.18"/>
<rect x="488.5" y="97.7" width="8.5" height="1.0" fill="rgb(105, 30, 238)" fill-opacity="0.12"/>
<rect x="480.2" y="100.4" width="8.5" height="1.4" fill="rgb(105, 30, 238)" fill-opacity="0.04"/>
<rect x="488.5" y="100.4" width="8.5" height="1.4" fill="rgb(105, 30, 238)" fill-opacity="0.11"/>
<rect x="480.2" y="103.2" width="8.5" height="1.1" fill="rgb(105, 30, 238)" fill-opacity="0.01"/>
<rect x="488.5" y="103.2" width="8.5" height="1.1" fill="rgb(105, 30, 238)" fill-opacity="0.02"/>
<rect x="480.2" y="105.3" width="8.5" height="1.0" fill="rgb(105, 30, 238)" fill-opacity="0.07"/>
<rect x="488.5" y="105.3" width="8.5" height="1.0" fill="rgb(105, 30, 238)" fill-opacity="0.05"/>
<rect x="480.2" y="108.2" width="8.5" height="1.4" fill="rgb(105, 30, 238)" fill-opacity="0.09"/>
<rect x="488.5" y="108.2" width="8.5" height="1.4" fill="rgb(105, 30, 238)" fill-opacity="0.04"/>
<rect x="480.2" y="112.0" width="8.5" height="1.5" fill="rgb(105, 30, 238)" fill-opacity="0.00"/>
<rect x="488.5" y="112.0" width="8.5" height="1.5" fill="rgb(105, 30, 238)" fill-opacity="0.01"/>
<rect x="480.2" y="115.4" width="8.5" height="1.2" fill="rgb(105, 30, 238)" fill-opacity="0.02"/>
<rect x="488.5" y="115.4" width="8.5" height="1.2" fill="rgb(105, 30, 238)" fill-opacity="0.01"/>
<rect x="480.2" y="118.5" width="8.5" height="1.7" fill="rgb(105, 30, 238)" fill-opacity="0.02"/>
<rect x="488.5" y="118.5" width="8.5" height="1.7" fill="rgb(105, 30, 238)" fill-opacity="0.03"/>
<rect x="480.2" y="121.4" width="8.5" height="1.6" fill="rgb(105, 30, 238)" fill-opacity="0.12"/>
<rect x="488.5" y="121.4" width="8.5" height="1.6" fill="rgb(105, 30, 238)" fill-opacity="0.12"/>
<rect x="480.2" y="125.4" width="8.5" height="1.4" fill="rgb(105, 30, 238)" fill-opacity="0.08"/>
<rect x="488.5" y="125.4" width="8.5" height="1.4" fill="rgb(105, 30, 238)" fill-opacity="0.07"/>
<rect x="480.2" y="128.3" width="8.5" height="1.1" fill="rgb(105, 30, 238)" fill-opacity="0.04"/>
<rect x="488.5" y="128.3" width="8.5" height="1.1" fill="rgb(105, 30, 238)" fill-opacity="0.07"/>
<rect x="480.2" y="131.7" width="8.5" height="1.7" fill="rgb(105, 30, 238)" fill-opacity="0.15"/>
<rect x="488.5" y="131.7" width="8.5" height="1.7" fill="rgb(105, 30, 238)" fill-opacity="0.06"/>
<rect x="480.2" y="135.3" width="8.5" height="1.8" fill="rgb(105, 30, 238)" fill-opacity="0.10"/>
<rect x="488.5" y="135.3" width="8.5" height="1.8" fill="rgb(105, 30, 238)" fill-opacity="0.12"/>
<rect x="480.2" y="139.1" width="8.5" height="1.2" fill="rgb(105, 30, 238)" fill-opacity="0.04"/>
<rect x="488.5" y="139.1" width="8.5" height="1.2" fill="rgb(105, 30, 238)" fill-opacity="0.07"/>
<rect x="480.2" y="142.1" width="8.5" height="0.9" fill="rgb(105, 30, 238)" fill-opacity="0.03"/>
<rect x="488.5" y="142.1" width="8.5" height="0.9" fill="rgb(105, 30, 238)" fill-opacity="0.02"/>
<rect x="480.2" y="145.5" width="8.5" height="1.5" fill="rgb(105, 30, 238)" fill-opacity="0.16"/>
<rect x="488.5" y="145.5" width="8.5" height="1.5" fill="rgb(105, 30, 238)" fill-opacity="0.16"/>
<rect x="480.2" y="148.0" width="8.5" height="1.5" fill="rgb(105, 30, 238)" fill-opacity="0.04"/>
<rect x="488.5" y="148.0" width="8.5" height="1.5" fill="rgb(105, 30, 238)" fill-opacity="0.03"/>
<rect x="480.2" y="151.4" width="8.5" height="1.7" fill="rgb(105, 30, 238)" fill-opacity="0.07"/>
<rect x="488.5" y="151.4" width="8.5" height="1.7" fill="rgb(105, 30, 238)" fill-opacity="0.09"/>
<rect x="480.2" y="154.8" width="8.5" height="1.8" fill="rgb(105, 30, 238)" fill-opacity="0.03"/>
<rect x="488.5" y="154.8" width="8.5" height="1.8" fill="rgb(105, 30, 238)" fill-opacity="0.05"/>
<rect x="480.2" y="157.8" width="8.5" height="1.4" fill="rgb(105, 30, 238)" fill-opacity="0.14"/>
<rect x="488.5" y="157.8" width="8.5" height="1.4" fill="rgb(105, 30, 238)" fill-opacity="0.10"/>
<rect x="480.2" y="160.9" width="8.5" height="1.4" fill="rgb(105, 30, 238)" fill-opacity="0.01"/>
<rect x="488.5" y="160.9" width="8.5" height="1.4" fill="rgb(105, 30, 238)" fill-opacity="0.01"/>
<rect x="480.2" y="163.8" width="8.5" height="1.3" fill="rgb(105, 30, 238)" fill-opacity="0.03"/>
<rect x="488.5" y="163.8" width="8.5" height="1.3" fill="rgb(105, 30, 238)" fill-opacity="0.02"/>
<rect x="480.2" y="166.9" width="8.5" height="1.7" fill="rgb(105, 30, 238)" fill-opacity="0.09"/>
<rect x="488.5" y="166.9" width="8.5" height="1.7" fill="rgb(105, 30, 238)" fill-opacity="0.10"/>
<rect x="480.2" y="169.9" width="8.5" height="1.5" fill="rgb(105, 30, 238)" fill-opacity="0.07"/>
<rect x="488.5" y="169.9" width="8.5" height="1.5" fill="rgb(105, 30, 238)" fill-opacity="0.07"/>
<rect x="480.2" y="173.2" width="8.5" height="1.2" fill="rgb(105, 30, 238)" fill-opacity="0.02"/>
<rect x="488.5" y="173.2" width="8.5" height="1.2" fill="rgb(105, 30, 238)" fill-opacity="0.03"/>
<rect x="480.2" y="176.0" width="8.5" height="1.4" fill="rgb(105, 30, 238)" fill-opacity="0.00"/>
<rect x="488.5" y="176.0" width="8.5" height="1.4" fill="rgb(105, 30, 238)" fill-opacity="0.00"/>
<rect x="480.2" y="178.8" width="8.5" height="1.4" fill="rgb(105, 30, 238)" fill-opacity="0.05"/>
<rect x="488.5" y="178.8" width="8.5" height="1.4" fill="rgb(105, 30, 238)" fill-opacity="0.10"/>
<rect x="480.2" y="181.7" width="8.5" height="1.6" fill="rgb(105, 30, 238)" fill-opacity="0.01"/>
<rect x="488.5" y="181.7" width="8.5" height="1.6" fill="rgb(105, 30, 238)" fill-opacity="0.03"/>
<rect x="480.2" y="185.0" width="8.5" height="1.0" fill="rgb(105, 30, 238)" fill-opacity="0.05"/>
<rect x="488.5" y="185.0" width="8.5" height="1.0" fill="rgb(105, 30, 238)" fill-opacity="0.07"/>
<rect x="480.2" y="187.1" width="8.5" height="1.1" fill="rgb(105, 30, 238)" fill-opacity="0.17"/>
<rect x="488.5" y="187.1" width="8.5" height="1.1" fill="rgb(105, 30, 238)" fill-opacity="0.09"/>
<rect x="480.2" y="189.7" width="8.5" height="1.2" fill="rgb(105, 30, 238)" fill-opacity="0.11"/>
<rect x="488.5" y="189.7" width="8.5" height="1.2" fill="rgb(105, 30, 238)" fill-opacity="0.13"/>
<rect x="480.2" y="193.3" width="8.5" height="1.4" fill="rgb(105, 30, 238)" fill-opacity="0.13"/>
<rect x="488.5" y="193.3" width="8.5" height="1.4" fill="rgb(105, 30, 238)" fill-opacity="0.13"/>
<rect x="480.2" y="196.4" width="8.5" height="1.6" fill="rgb(105, 30, 238)" fill-opacity="0.14"/>
<rect x="488.5" y="196.4" width="8.5" height="1.6" fill="rgb(105, 30, 238)" fill-opacity="0.06"/>
<rect x="480.2" y="200.4" width="8.5" height="0.9" fill="rgb(105, 30, 238)" fill-opacity="0.12"/>
<rect x="488.5" y="200.4" width="8.5" height="0.9" fill="rgb(105, 30, 238)" fill-opacity="0.11"/>
<rect x="480.2" y="203.8" width="8.5" height="1.4" fill="rgb(105, 30, 238)" fill-opacity="0.08"/>
<rect x="488.5" y="203.8" width="8.5" height="1.4" fill="rgb(105, 30, 238)" fill-opacity="0.08"/>
<rect x="480.2" y="207.2" width="8.5" height="1.2" fill="rgb(105, 30, 238)" fill-opacity="0.06"/>
<rect x="488.5" y="207.2" width="8.5" height="1.2" fill="rgb(105, 30, 238)" fill-opacity="0.08"/>
<rect x="480.2" y="209.9" width="8.5" height="1.3" fill="rgb(105, 30, 238)" fill-opacity="0.07"/>
<rect x="488.5" y="209.9" width="8.5" height="1.3" fill="rgb(105, 30, 238)" fill-opacity="0.06"/>
<rect x="480.2" y="213.5" width="8.5" height="1.7" fill="rgb(105, 30, 238)" fill-opacity="0.07"/>
<rect x="488.5" y="213.5" width="8.5" height="1.7" fill="rgb(105, 30, 238)" fill-opacity="0.05"/>
<rect x="480.2" y="216.6" width="8.5" height="1.0" fill="rgb(105, 30, 238)" fill-opacity="0.09"/>
<rect x="488.5" y="216.6" width="8.5" height="1.0" fill="rgb(105, 30, 238)" fill-opacity="0.05"/>
<rect x="480.2" y="220.1" width="8.5" height="1.2" fill="rgb(105, 30, 238)" fill-opacity="0.16"/>
<rect x="488.5" y="220.1" width="8.5" height="1.2" fill="rgb(105, 30, 238)" fill-opacity="0.17"/>
<rect x="480.2" y="222.6" width="8.5" height="1.3" fill="rgb(105, 30, 238)" fill-opacity="0.07"/>
<rect x="488.5" y="222.6" width="8.5" height="1.3" fill="rgb(105, 30, 238)" fill-opacity="0.07"/>
<rect x="480.2" y="225.8" width="8.5" height="1.3" fill="rgb(105, 30, 238)" fill-opacity="0.16"/>
<rect x="488.5" y="225.8" width="8.5" height="1.3" fill="rgb(105, 30, 238)" fill-opacity="0.13"/>
<rect x="480.2" y="229.8" width="8.5" height="1.4" fill="rgb(105, 30, 238)" fill-opacity="0.09"/>
<rect x="488.5" y="229.8" width="8.5" height="1.4" fill="rgb(105, 30, 238)" fill-opacity="0.06"/>
<rect x="480.2" y="232.7" width="8.5" height="1.4" fill="rgb(105, 30, 238)" fill-opacity="0.07"/>
<rect x="488.5" y="232.7" width="8.5" height="1.4" fill="rgb(105, 30, 238)" fill-opacity="0.06"/>
<rect x="480.2" y="236.0" width="8.5" height="1.0" fill="rgb(105, 30, 238)" fill-opacity="0.05"/>
<rect x="488.5" y="236.0" width="8.5" height="1.0" fill="rgb(105, 30, 238)" fill-opacity="0.06"/>
<rect x="480.2" y="238.9" width="8.5" height="1.7" fill="rgb(105, 30, 238)" fill-opacity="0.13"/>
<rect x="488.5" y="238.9" width="8.5" height="1.7" fill="rgb(105, 30, 238)" fill-opacity="0.13"/>
<rect x="480.2" y="242.6" width="8.5" height="1.8" fill="rgb(105, 30, 238)" fill-opacity="0.05"/>
<rect x="488.5" y="242.6" width="8.5" height="1.8" fill="rgb(105, 30, 238)" fill-opacity="0.06"/>
<rect x="480.2" y="245.6" width="8.5" height="1.2" fill="rgb(105, 30, 238)" fill-opacity="0.18"/>
<rect x="488.5" y="245.6" width="8.5" height="1.2" fill="rgb(105, 30, 238)" fill-opacity="0.14"/>
<rect x="480.2" y="248.0" width="8.5" height="1.7" fill="rgb(105, 30, 238)" fill-opacity="0.13"/>
<rect x="488.5" y="248.0" width="8.5" height="1.7" fill="rgb(105, 30, 238)" fill-opacity="0.14"/>
<rect x="480.2" y="252.1" width="8.5" height="1.3" fill="rgb(105, 30, 238)" fill-opacity="0.02"/>
<rect x="488.5" y="252.1" width="8.5" height="1.3" fill="rgb(105, 30, 238)" fill-opacity="0.02"/>
<rect x="480.2" y="255.2" width="8.5" height="1.1" fill="rgb(105, 30, 238)" fill-opacity="0.03"/>
<rect x="488.5" y="255.2" width="8.5" height="1.1" fill="rgb(105, 30, 238)" fill-opacity="0.03"/>
<rect x="480.1" y="86.50" width="16.8" height="1" fill="rgb(90, 90, 110)" fill-opacity="0.5"/>
<rect x="480.1" y="99.75" width="16.8" height="2.5" fill="rgb(105, 30, 238)" fill-opacity="0.2"/>
<rect x="480.1" y="215.50" width="16.8" height="3" fill="rgb(105, 30, 238)" fill-opacity="0.25"/>
<rect x="480.1" y="220.00" width="16.8" height="2" fill="rgb(105, 30, 238)" fill-opacity="0.2"/>
<rect x="480.1" y="247.75" width="16.8" height="2.5" fill="rgb(105, 30, 238)" fill-opacity="0.35"/>
<rect x="480.1" y="253.00" width="16.8" height="2" fill="rgb(105, 30, 238)" fill-opacity="0.3"/>
</g>
<rect x="499.0" y="87.3" width="8.2" height="1.8" fill="rgb(105, 30, 238)" fill-opacity="0.00"/>
<rect x="507.0" y="87.3" width="8.2" height="1.8" fill="rgb(105, 30, 238)" fill-opacity="0.01"/>
<rect x="499.0" y="91.4" width="8.2" height="1.2" fill="rgb(105, 30, 238)" fill-opacity="0.00"/>
<rect x="507.0" y="91.4" width="8.2" height="1.2" fill="rgb(105, 30, 238)" fill-opacity="0.01"/>
<rect x="499.0" y="94.9" width="8.2" height="1.4" fill="rgb(105, 30, 238)" fill-opacity="0.00"/>
<rect x="507.0" y="94.9" width="8.2" height="1.4" fill="rgb(105, 30, 238)" fill-opacity="0.01"/>
<rect x="499.0" y="98.2" width="8.2" height="1.1" fill="rgb(105, 30, 238)" fill-opacity="0.01"/>
<rect x="507.0" y="98.2" width="8.2" height="1.1" fill="rgb(105, 30, 238)" fill-opacity="0.01"/>
<rect x="499.0" y="101.2" width="8.2" height="1.3" fill="rgb(105, 30, 238)" fill-opacity="0.00"/>
<rect x="507.0" y="101.2" width="8.2" height="1.3" fill="rgb(105, 30, 238)" fill-opacity="0.00"/>
<rect x="499.0" y="103.7" width="8.2" height="1.0" fill="rgb(105, 30, 238)" fill-opacity="0.00"/>
<rect x="507.0" y="103.7" width="8.2" height="1.0" fill="rgb(105, 30, 238)" fill-opacity="0.00"/>
<rect x="499.0" y="106.7" width="8.2" height="1.6" fill="rgb(105, 30, 238)" fill-opacity="0.00"/>
<rect x="507.0" y="106.7" width="8.2" height="1.6" fill="rgb(105, 30, 238)" fill-opacity="0.00"/>
<rect x="499.0" y="109.8" width="8.2" height="1.5" fill="rgb(105, 30, 238)" fill-opacity="0.00"/>
<rect x="507.0" y="109.8" width="8.2" height="1.5" fill="rgb(105, 30, 238)" fill-opacity="0.00"/>
<rect x="499.0" y="112.5" width="8.2" height="1.7" fill="rgb(105, 30, 238)" fill-opacity="0.00"/>
<rect x="507.0" y="112.5" width="8.2" height="1.7" fill="rgb(105, 30, 238)" fill-opacity="0.01"/>
<rect x="499.0" y="115.8" width="8.2" height="0.9" fill="rgb(105, 30, 238)" fill-opacity="0.01"/>
<rect x="507.0" y="115.8" width="8.2" height="0.9" fill="rgb(105, 30, 238)" fill-opacity="0.01"/>
<rect x="499.0" y="118.5" width="8.2" height="1.5" fill="rgb(105, 30, 238)" fill-opacity="0.00"/>
<rect x="507.0" y="118.5" width="8.2" height="1.5" fill="rgb(105, 30, 238)" fill-opacity="0.00"/>
<rect x="499.0" y="122.3" width="8.2" height="1.2" fill="rgb(105, 30, 238)" fill-opacity="0.01"/>
<rect x="507.0" y="122.3" width="8.2" height="1.2" fill="rgb(105, 30, 238)" fill-opacity="0.01"/>
<rect x="499.0" y="125.5" width="8.2" height="1.8" fill="rgb(105, 30, 238)" fill-opacity="0.01"/>
<rect x="507.0" y="125.5" width="8.2" height="1.8" fill="rgb(105, 30, 238)" fill-opacity="0.00"/>
<rect x="499.0" y="128.9" width="8.2" height="1.5" fill="rgb(105, 30, 238)" fill-opacity="0.00"/>
<rect x="507.0" y="128.9" width="8.2" height="1.5" fill="rgb(105, 30, 238)" fill-opacity="0.00"/>
<rect x="499.0" y="132.2" width="8.2" height="1.6" fill="rgb(105, 30, 238)" fill-opacity="0.00"/>
<rect x="507.0" y="132.2" width="8.2" height="1.6" fill="rgb(105, 30, 238)" fill-opacity="0.00"/>
<rect x="499.0" y="135.1" width="8.2" height="1.8" fill="rgb(105, 30, 238)" fill-opacity="0.00"/>
<rect x="507.0" y="135.1" width="8.2" height="1.8" fill="rgb(105, 30, 238)" fill-opacity="0.00"/>
<rect x="499.0" y="138.7" width="8.2" height="1.2" fill="rgb(105, 30, 238)" fill-opacity="0.00"/>
<rect x="507.0" y="138.7" width="8.2" height="1.2" fill="rgb(105, 30, 238)" fill-opacity="0.00"/>
<rect x="499.0" y="142.3" width="8.2" height="1.2" fill="rgb(105, 30, 238)" fill-opacity="0.00"/>
<rect x="507.0" y="142.3" width="8.2" height="1.2" fill="rgb(105, 30, 238)" fill-opacity="0.00"/>
<rect x="499.0" y="144.9" width="8.2" height="0.9" fill="rgb(105, 30, 238)" fill-opacity="0.01"/>
<rect x="507.0" y="144.9" width="8.2" height="0.9" fill="rgb(105, 30, 238)" fill-opacity="0.00"/>
<rect x="499.0" y="147.9" width="8.2" height="1.0" fill="rgb(105, 30, 238)" fill-opacity="0.00"/>
<rect x="507.0" y="147.9" width="8.2" height="1.0" fill="rgb(105, 30, 238)" fill-opacity="0.00"/>
<rect x="499.0" y="150.6" width="8.2" height="1.7" fill="rgb(105, 30, 238)" fill-opacity="0.01"/>
<rect x="507.0" y="150.6" width="8.2" height="1.7" fill="rgb(105, 30, 238)" fill-opacity="0.01"/>
<rect x="499.0" y="154.4" width="8.2" height="1.2" fill="rgb(105, 30, 238)" fill-opacity="0.01"/>
<rect x="507.0" y="154.4" width="8.2" height="1.2" fill="rgb(105, 30, 238)" fill-opacity="0.01"/>
<rect x="499.0" y="157.5" width="8.2" height="1.1" fill="rgb(105, 30, 238)" fill-opacity="0.00"/>
<rect x="507.0" y="157.5" width="8.2" height="1.1" fill="rgb(105, 30, 238)" fill-opacity="0.01"/>
<rect x="499.0" y="160.0" width="8.2" height="1.7" fill="rgb(105, 30, 238)" fill-opacity="0.01"/>
<rect x="507.0" y="160.0" width="8.2" height="1.7" fill="rgb(105, 30, 238)" fill-opacity="0.00"/>
<rect x="499.0" y="163.7" width="8.2" height="1.1" fill="rgb(105, 30, 238)" fill-opacity="0.01"/>
<rect x="507.0" y="163.7" width="8.2" height="1.1" fill="rgb(105, 30, 238)" fill-opacity="0.01"/>
<rect x="499.0" y="166.6" width="8.2" height="1.1" fill="rgb(105, 30, 238)" fill-opacity="0.01"/>
<rect x="507.0" y="166.6" width="8.2" height="1.1" fill="rgb(105, 30, 238)" fill-opacity="0.01"/>
<rect x="499.0" y="169.7" width="8.2" height="1.2" fill="rgb(105, 30, 238)" fill-opacity="0.00"/>
<rect x="507.0" y="169.7" width="8.2" height="1.2" fill="rgb(105, 30, 238)" fill-opacity="0.00"/>
<rect x="499.0" y="173.2" width="8.2" height="1.2" fill="rgb(105, 30, 238)" fill-opacity="0.00"/>
<rect x="507.0" y="173.2" width="8.2" height="1.2" fill="rgb(105, 30, 238)" fill-opacity="0.01"/>
<rect x="499.0" y="176.0" width="8.2" height="1.4" fill="rgb(105, 30, 238)" fill-opacity="0.00"/>
<rect x="507.0" y="176.0" width="8.2" height="1.4" fill="rgb(105, 30, 238)" fill-opacity="0.00"/>
<rect x="499.0" y="178.7" width="8.2" height="1.0" fill="rgb(105, 30, 238)" fill-opacity="0.01"/>
<rect x="507.0" y="178.7" width="8.2" height="1.0" fill="rgb(105, 30, 238)" fill-opacity="0.01"/>
<rect x="499.0" y="182.2" width="8.2" height="1.6" fill="rgb(105, 30, 238)" fill-opacity="0.01"/>
<rect x="507.0" y="182.2" width="8.2" height="1.6" fill="rgb(105, 30, 238)" fill-opacity="0.01"/>
<rect x="499.0" y="185.2" width="8.2" height="0.9" fill="rgb(105, 30, 238)" fill-opacity="0.01"/>
<rect x="507.0" y="185.2" width="8.2" height="0.9" fill="rgb(105, 30, 238)" fill-opacity="0.01"/>
<rect x="499.0" y="187.8" width="8.2" height="1.5" fill="rgb(105, 30, 238)" fill-opacity="0.01"/>
<rect x="507.0" y="187.8" width="8.2" height="1.5" fill="rgb(105, 30, 238)" fill-opacity="0.01"/>
<rect x="499.0" y="190.9" width="8.2" height="1.5" fill="rgb(105, 30, 238)" fill-opacity="0.00"/>
<rect x="507.0" y="190.9" width="8.2" height="1.5" fill="rgb(105, 30, 238)" fill-opacity="0.00"/>
<rect x="499.0" y="194.5" width="8.2" height="1.5" fill="rgb(105, 30, 238)" fill-opacity="0.00"/>
<rect x="507.0" y="194.5" width="8.2" height="1.5" fill="rgb(105, 30, 238)" fill-opacity="0.00"/>
<rect x="499.0" y="197.4" width="8.2" height="1.2" fill="rgb(105, 30, 238)" fill-opacity="0.00"/>
<rect x="507.0" y="197.4" width="8.2" height="1.2" fill="rgb(105, 30, 238)" fill-opacity="0.00"/>
<rect x="499.0" y="200.6" width="8.2" height="1.1" fill="rgb(105, 30, 238)" fill-opacity="0.01"/>
<rect x="507.0" y="200.6" width="8.2" height="1.1" fill="rgb(105, 30, 238)" fill-opacity="0.01"/>
<rect x="499.0" y="203.0" width="8.2" height="1.3" fill="rgb(105, 30, 238)" fill-opacity="0.01"/>
<rect x="507.0" y="203.0" width="8.2" height="1.3" fill="rgb(105, 30, 238)" fill-opacity="0.00"/>
<rect x="499.0" y="206.7" width="8.2" height="1.6" fill="rgb(105, 30, 238)" fill-opacity="0.00"/>
<rect x="507.0" y="206.7" width="8.2" height="1.6" fill="rgb(105, 30, 238)" fill-opacity="0.00"/>
<rect x="499.0" y="210.2" width="8.2" height="0.9" fill="rgb(105, 30, 238)" fill-opacity="0.00"/>
<rect x="507.0" y="210.2" width="8.2" height="0.9" fill="rgb(105, 30, 238)" fill-opacity="0.00"/>
<rect x="499.0" y="212.5" width="8.2" height="1.7" fill="rgb(105, 30, 238)" fill-opacity="0.00"/>
<rect x="507.0" y="212.5" width="8.2" height="1.7" fill="rgb(105, 30, 238)" fill-opacity="0.01"/>
<rect x="499.0" y="215.9" width="8.2" height="1.6" fill="rgb(105, 30, 238)" fill-opacity="0.01"/>
<rect x="507.0" y="215.9" width="8.2" height="1.6" fill="rgb(105, 30, 238)" fill-opacity="0.00"/>
<rect x="499.0" y="220.0" width="8.2" height="1.3" fill="rgb(105, 30, 238)" fill-opacity="0.01"/>
<rect x="507.0" y="220.0" width="8.2" height="1.3" fill="rgb(105, 30, 238)" fill-opacity="0.01"/>
<rect x="499.0" y="223.6" width="8.2" height="1.5" fill="rgb(105, 30, 238)" fill-opacity="0.00"/>
<rect x="507.0" y="223.6" width="8.2" height="1.5" fill="rgb(105, 30, 238)" fill-opacity="0.01"/>
<rect x="499.0" y="226.7" width="8.2" height="1.4" fill="rgb(105, 30, 238)" fill-opacity="0.01"/>
<rect x="507.0" y="226.7" width="8.2" height="1.4" fill="rgb(105, 30, 238)" fill-opacity="0.01"/>
<rect x="499.0" y="229.1" width="8.2" height="1.5" fill="rgb(105, 30, 238)" fill-opacity="0.01"/>
<rect x="507.0" y="229.1" width="8.2" height="1.5" fill="rgb(105, 30, 238)" fill-opacity="0.01"/>
<rect x="499.0" y="233.2" width="8.2" height="1.5" fill="rgb(105, 30, 238)" fill-opacity="0.00"/>
<rect x="507.0" y="233.2" width="8.2" height="1.5" fill="rgb(105, 30, 238)" fill-opacity="0.00"/>
<rect x="499.0" y="236.3" width="8.2" height="1.3" fill="rgb(105, 30, 238)" fill-opacity="0.00"/>
<rect x="507.0" y="236.3" width="8.2" height="1.3" fill="rgb(105, 30, 238)" fill-opacity="0.00"/>
<rect x="499.0" y="239.7" width="8.2" height="1.5" fill="rgb(105, 30, 238)" fill-opacity="0.00"/>
<rect x="507.0" y="239.7" width="8.2" height="1.5" fill="rgb(105, 30, 238)" fill-opacity="0.00"/>
<rect x="499.0" y="242.9" width="8.2" height="1.7" fill="rgb(105, 30, 238)" fill-opacity="0.00"/>
<rect x="507.0" y="242.9" width="8.2" height="1.7" fill="rgb(105, 30, 238)" fill-opacity="0.00"/>
<rect x="499.0" y="245.9" width="8.2" height="1.4" fill="rgb(105, 30, 238)" fill-opacity="0.00"/>
<rect x="507.0" y="245.9" width="8.2" height="1.4" fill="rgb(105, 30, 238)" fill-opacity="0.00"/>
<rect x="499.0" y="249.5" width="8.2" height="1.1" fill="rgb(105, 30, 238)" fill-opacity="0.01"/>
<rect x="507.0" y="249.5" width="8.2" height="1.1" fill="rgb(105, 30, 238)" fill-opacity="0.01"/>
<rect x="499.0" y="252.8" width="8.2" height="1.6" fill="rgb(105, 30, 238)" fill-opacity="0.00"/>
<rect x="507.0" y="252.8" width="8.2" height="1.6" fill="rgb(105, 30, 238)" fill-opacity="0.00"/>
<rect x="499.0" y="255.7" width="8.2" height="1.0" fill="rgb(105, 30, 238)" fill-opacity="0.00"/>
<rect x="507.0" y="255.7" width="8.2" height="1.0" fill="rgb(105, 30, 238)" fill-opacity="0.00"/>
<rect x="517.4" y="87.3" width="7.7" height="1.0" fill="rgb(105, 30, 238)" fill-opacity="0.02"/>
<rect x="524.9" y="87.3" width="7.7" height="1.0" fill="rgb(105, 30, 238)" fill-opacity="0.01"/>
<rect x="517.4" y="89.6" width="7.7" height="1.0" fill="rgb(105, 30, 238)" fill-opacity="0.00"/>
<rect x="524.9" y="89.6" width="7.7" height="1.0" fill="rgb(105, 30, 238)" fill-opacity="0.00"/>
<rect x="517.4" y="91.7" width="7.7" height="1.5" fill="rgb(105, 30, 238)" fill-opacity="0.05"/>
<rect x="524.9" y="91.7" width="7.7" height="1.5" fill="rgb(105, 30, 238)" fill-opacity="0.03"/>
<rect x="517.4" y="95.0" width="7.7" height="1.3" fill="rgb(105, 30, 238)" fill-opacity="0.01"/>
<rect x="524.9" y="95.0" width="7.7" height="1.3" fill="rgb(105, 30, 238)" fill-opacity="0.00"/>
<rect x="517.4" y="98.8" width="7.7" height="1.5" fill="rgb(105, 30, 238)" fill-opacity="0.05"/>
<rect x="524.9" y="98.8" width="7.7" height="1.5" fill="rgb(105, 30, 238)" fill-opacity="0.04"/>
<rect x="517.4" y="101.6" width="7.7" height="1.1" fill="rgb(105, 30, 238)" fill-opacity="0.00"/>
<rect x="524.9" y="101.6" width="7.7" height="1.1" fill="rgb(105, 30, 238)" fill-opacity="0.01"/>
<rect x="517.4" y="105.1" width="7.7" height="1.2" fill="rgb(105, 30, 238)" fill-opacity="0.01"/>
<rect x="524.9" y="105.1" width="7.7" height="1.2" fill="rgb(105, 30, 238)" fill-opacity="0.01"/>
<rect x="517.4" y="108.8" width="7.7" height="1.1" fill="rgb(105, 30, 238)" fill-opacity="0.05"/>
<rect x="524.9" y="108.8" width="7.7" height="1.1" fill="rgb(105, 30, 238)" fill-opacity="0.05"/>
<rect x="517.4" y="111.3" width="7.7" height="1.1" fill="rgb(105, 30, 238)" fill-opacity="0.03"/>
<rect x="524.9" y="111.3" width="7.7" height="1.1" fill="rgb(105, 30, 238)" fill-opacity="0.04"/>
<rect x="517.4" y="114.3" width="7.7" height="1.2" fill="rgb(105, 30, 238)" fill-opacity="0.03"/>
<rect x="524.9" y="114.3" width="7.7" height="1.2" fill="rgb(105, 30, 238)" fill-opacity="0.02"/>
<rect x="517.4" y="117.4" width="7.7" height="1.5" fill="rgb(105, 30, 238)" fill-opacity="0.05"/>
<rect x="524.9" y="117.4" width="7.7" height="1.5" fill="rgb(105, 30, 238)" fill-opacity="0.06"/>
<rect x="517.4" y="121.4" width="7.7" height="1.3" fill="rgb(105, 30, 238)" fill-opacity="0.02"/>
<rect x="524.9" y="121.4" width="7.7" height="1.3" fill="rgb(105, 30, 238)" fill-opacity="0.02"/>
<rect x="517.4" y="124.7" width="7.7" height="1.0" fill="rgb(105, 30, 238)" fill-opacity="0.02"/>
<rect x="524.9" y="124.7" width="7.7" height="1.0" fill="rgb(105, 30, 238)" fill-opacity="0.03"/>
<rect x="517.4" y="128.2" width="7.7" height="1.0" fill="rgb(105, 30, 238)" fill-opacity="0.00"/>
<rect x="524.9" y="128.2" width="7.7" height="1.0" fill="rgb(105, 30, 238)" fill-opacity="0.00"/>
<rect x="517.4" y="131.3" width="7.7" height="0.9" fill="rgb(105, 30, 238)" fill-opacity="0.06"/>
<rect x="524.9" y="131.3" width="7.7" height="0.9" fill="rgb(105, 30, 238)" fill-opacity="0.05"/>
<rect x="517.4" y="133.9" width="7.7" height="1.2" fill="rgb(105, 30, 238)" fill-opacity="0.03"/>
<rect x="524.9" y="133.9" width="7.7" height="1.2" fill="rgb(105, 30, 238)" fill-opacity="0.03"/>
<rect x="517.4" y="136.6" width="7.7" height="1.3" fill="rgb(105, 30, 238)" fill-opacity="0.04"/>
<rect x="524.9" y="136.6" width="7.7" height="1.3" fill="rgb(105, 30, 238)" fill-opacity="0.05"/>
<rect x="517.4" y="139.2" width="7.7" height="1.2" fill="rgb(105, 30, 238)" fill-opacity="0.02"/>
<rect x="524.9" y="139.2" width="7.7" height="1.2" fill="rgb(105, 30, 238)" fill-opacity="0.02"/>
<rect x="517.4" y="141.6" width="7.7" height="1.0" fill="rgb(105, 30, 238)" fill-opacity="0.02"/>
<rect x="524.9" y="141.6" width="7.7" height="1.0" fill="rgb(105, 30, 238)" fill-opacity="0.02"/>
<rect x="517.4" y="145.1" width="7.7" height="1.7" fill="rgb(105, 30, 238)" fill-opacity="0.07"/>
<rect x="524.9" y="145.1" width="7.7" height="1.7" fill="rgb(105, 30, 238)" fill-opacity="0.05"/>
<rect x="517.4" y="149.1" width="7.7" height="1.0" fill="rgb(105, 30, 238)" fill-opacity="0.04"/>
<rect x="524.9" y="149.1" width="7.7" height="1.0" fill="rgb(105, 30, 238)" fill-opacity="0.03"/>
<rect x="517.4" y="151.9" width="7.7" height="1.8" fill="rgb(105, 30, 238)" fill-opacity="0.03"/>
<rect x="524.9" y="151.9" width="7.7" height="1.8" fill="rgb(105, 30, 238)" fill-opacity="0.02"/>
<rect x="517.4" y="155.2" width="7.7" height="1.7" fill="rgb(105, 30, 238)" fill-opacity="0.00"/>
<rect x="524.9" y="155.2" width="7.7" height="1.7" fill="rgb(105, 30, 238)" fill-opacity="0.00"/>
<rect x="517.4" y="158.6" width="7.7" height="1.0" fill="rgb(105, 30, 238)" fill-opacity="0.03"/>
<rect x="524.9" y="158.6" width="7.7" height="1.0" fill="rgb(105, 30, 238)" fill-opacity="0.04"/>
<rect x="517.4" y="161.3" width="7.7" height="1.4" fill="rgb(105, 30, 238)" fill-opacity="0.03"/>
<rect x="524.9" y="161.3" width="7.7" height="1.4" fill="rgb(105, 30, 238)" fill-opacity="0.02"/>
<rect x="517.4" y="164.0" width="7.7" height="1.7" fill="rgb(105, 30, 238)" fill-opacity="0.02"/>
<rect x="524.9" y="164.0" width="7.7" height="1.7" fill="rgb(105, 30, 238)" fill-opacity="0.04"/>
<rect x="517.4" y="167.1" width="7.7" height="1.0" fill="rgb(105, 30, 238)" fill-opacity="0.02"/>
<rect x="524.9" y="167.1" width="7.7" height="1.0" fill="rgb(105, 30, 238)" fill-opacity="0.03"/>
<rect x="517.4" y="169.9" width="7.7" height="1.1" fill="rgb(105, 30, 238)" fill-opacity="0.02"/>
<rect x="524.9" y="169.9" width="7.7" height="1.1" fill="rgb(105, 30, 238)" fill-opacity="0.03"/>
<rect x="517.4" y="173.0" width="7.7" height="1.0" fill="rgb(105, 30, 238)" fill-opacity="0.01"/>
<rect x="524.9" y="173.0" width="7.7" height="1.0" fill="rgb(105, 30, 238)" fill-opacity="0.02"/>
<rect x="517.4" y="176.3" width="7.7" height="1.4" fill="rgb(105, 30, 238)" fill-opacity="0.04"/>
<rect x="524.9" y="176.3" width="7.7" height="1.4" fill="rgb(105, 30, 238)" fill-opacity="0.02"/>
<rect x="517.4" y="180.3" width="7.7" height="1.5" fill="rgb(105, 30, 238)" fill-opacity="0.01"/>
<rect x="524.9" y="180.3" width="7.7" height="1.5" fill="rgb(105, 30, 238)" fill-opacity="0.00"/>
<rect x="517.4" y="183.1" width="7.7" height="1.8" fill="rgb(105, 30, 238)" fill-opacity="0.04"/>
<rect x="524.9" y="183.1" width="7.7" height="1.8" fill="rgb(105, 30, 238)" fill-opacity="0.02"/>
<rect x="517.4" y="187.1" width="7.7" height="1.0" fill="rgb(105, 30, 238)" fill-opacity="0.01"/>
<rect x="524.9" y="187.1" width="7.7" height="1.0" fill="rgb(105, 30, 238)" fill-opacity="0.01"/>
<rect x="517.4" y="190.0" width="7.7" height="1.1" fill="rgb(105, 30, 238)" fill-opacity="0.02"/>
<rect x="524.9" y="190.0" width="7.7" height="1.1" fill="rgb(105, 30, 238)" fill-opacity="0.01"/>
<rect x="517.4" y="193.6" width="7.7" height="1.5" fill="rgb(105, 30, 238)" fill-opacity="0.05"/>
<rect x="524.9" y="193.6" width="7.7" height="1.5" fill="rgb(105, 30, 238)" fill-opacity="0.06"/>
<rect x="517.4" y="197.4" width="7.7" height="1.1" fill="rgb(105, 30, 238)" fill-opacity="0.03"/>
<rect x="524.9" y="197.4" width="7.7" height="1.1" fill="rgb(105, 30, 238)" fill-opacity="0.05"/>
<rect x="517.4" y="200.5" width="7.7" height="1.6" fill="rgb(105, 30, 238)" fill-opacity="0.01"/>
<rect x="524.9" y="200.5" width="7.7" height="1.6" fill="rgb(105, 30, 238)" fill-opacity="0.01"/>
<rect x="517.4" y="204.7" width="7.7" height="1.5" fill="rgb(105, 30, 238)" fill-opacity="0.00"/>
<rect x="524.9" y="204.7" width="7.7" height="1.5" fill="rgb(105, 30, 238)" fill-opacity="0.00"/>
<rect x="517.4" y="208.1" width="7.7" height="1.6" fill="rgb(105, 30, 238)" fill-opacity="0.01"/>
<rect x="524.9" y="208.1" width="7.7" height="1.6" fill="rgb(105, 30, 238)" fill-opacity="0.01"/>
<rect x="517.4" y="211.2" width="7.7" height="1.1" fill="rgb(105, 30, 238)" fill-opacity="0.03"/>
<rect x="524.9" y="211.2" width="7.7" height="1.1" fill="rgb(105, 30, 238)" fill-opacity="0.02"/>
<rect x="517.4" y="213.4" width="7.7" height="0.9" fill="rgb(105, 30, 238)" fill-opacity="0.01"/>
<rect x="524.9" y="213.4" width="7.7" height="0.9" fill="rgb(105, 30, 238)" fill-opacity="0.00"/>
<rect x="517.4" y="216.2" width="7.7" height="1.2" fill="rgb(105, 30, 238)" fill-opacity="0.03"/>
<rect x="524.9" y="216.2" width="7.7" height="1.2" fill="rgb(105, 30, 238)" fill-opacity="0.02"/>
<rect x="517.4" y="219.8" width="7.7" height="1.4" fill="rgb(105, 30, 238)" fill-opacity="0.05"/>
<rect x="524.9" y="219.8" width="7.7" height="1.4" fill="rgb(105, 30, 238)" fill-opacity="0.05"/>
<rect x="517.4" y="222.2" width="7.7" height="1.2" fill="rgb(105, 30, 238)" fill-opacity="0.01"/>
<rect x="524.9" y="222.2" width="7.7" height="1.2" fill="rgb(105, 30, 238)" fill-opacity="0.01"/>
<rect x="517.4" y="225.7" width="7.7" height="0.9" fill="rgb(105, 30, 238)" fill-opacity="0.01"/>
<rect x="524.9" y="225.7" width="7.7" height="0.9" fill="rgb(105, 30, 238)" fill-opacity="0.01"/>
<rect x="517.4" y="228.2" width="7.7" height="1.3" fill="rgb(105, 30, 238)" fill-opacity="0.01"/>
<rect x="524.9" y="228.2" width="7.7" height="1.3" fill="rgb(105, 30, 238)" fill-opacity="0.01"/>
<rect x="517.4" y="232.0" width="7.7" height="1.4" fill="rgb(105, 30, 238)" fill-opacity="0.00"/>
<rect x="524.9" y="232.0" width="7.7" height="1.4" fill="rgb(105, 30, 238)" fill-opacity="0.00"/>
<rect x="517.4" y="235.8" width="7.7" height="1.4" fill="rgb(105, 30, 238)" fill-opacity="0.00"/>
<rect x="524.9" y="235.8" width="7.7" height="1.4" fill="rgb(105, 30, 238)" fill-opacity="0.00"/>
<rect x="517.4" y="239.0" width="7.7" height="1.4" fill="rgb(105, 30, 238)" fill-opacity="0.02"/>
<rect x="524.9" y="239.0" width="7.7" height="1.4" fill="rgb(105, 30, 238)" fill-opacity="0.01"/>
<rect x="517.4" y="242.4" width="7.7" height="1.2" fill="rgb(105, 30, 238)" fill-opacity="0.00"/>
<rect x="524.9" y="242.4" width="7.7" height="1.2" fill="rgb(105, 30, 238)" fill-opacity="0.00"/>
<rect x="517.4" y="244.6" width="7.7" height="1.0" fill="rgb(105, 30, 238)" fill-opacity="0.03"/>
<rect x="524.9" y="244.6" width="7.7" height="1.0" fill="rgb(105, 30, 238)" fill-opacity="0.03"/>
<rect x="517.4" y="247.5" width="7.7" height="1.1" fill="rgb(105, 30, 238)" fill-opacity="0.03"/>
<rect x="524.9" y="247.5" width="7.7" height="1.1" fill="rgb(105, 30, 238)" fill-opacity="0.04"/>
<rect x="517.4" y="251.2" width="7.7" height="0.9" fill="rgb(105, 30, 238)" fill-opacity="0.04"/>
<rect x="524.9" y="251.2" width="7.7" height="0.9" fill="rgb(105, 30, 238)" fill-opacity="0.04"/>
<rect x="517.4" y="254.4" width="7.7" height="1.5" fill="rgb(105, 30, 238)" fill-opacity="0.03"/>
<rect x="524.9" y="254.4" width="7.7" height="1.5" fill="rgb(105, 30, 238)" fill-opacity="0.02"/>
</g>
<g filter="url(#bl3)">
<rect x="406.9" y="155.60" width="14.8" height="14.40" fill="url(#vb)" opacity="0.85"/>
<rect x="406.9" y="158.60" width="8.5" height="10.90" fill="url(#hb)" opacity="0.35"/>
<rect x="424.9" y="155.60" width="15.0" height="14.40" fill="url(#vb)" opacity="0.72"/>
<rect x="424.9" y="158.60" width="8.6" height="10.90" fill="url(#hb)" opacity="0.15"/>
<rect x="498.9" y="155.60" width="16.2" height="14.40" fill="url(#vb)" opacity="0.55"/>
<rect x="498.9" y="158.60" width="9.2" height="10.90" fill="url(#hb)" opacity="0.25"/>
<rect x="517.3" y="155.60" width="15.2" height="14.40" fill="url(#vb)" opacity="0.5"/>
<rect x="517.3" y="158.60" width="8.7" height="10.90" fill="url(#hb)" opacity="0.2"/>
<rect x="517.3" y="128.20" width="15.2" height="5.60" fill="url(#hb)" opacity="0.40"/>
<rect x="517.3" y="128.20" width="15.2" height="5.60" fill="rgb(105,30,238)" opacity="0.12"/>
</g>
<linearGradient id="l9" x1="0" y1="0" x2="1" y2="0"><stop offset="0" stop-color="rgb(90,20,230)" stop-opacity="0.5"/><stop offset="1" stop-color="rgb(90,20,230)" stop-opacity="0"/></linearGradient>
<rect x="479.8" y="99" width="7" height="40" fill="url(#l9)" filter="url(#bl3)" opacity="0.7"/>
<g filter="url(#bl2)">
<rect x="489.3" y="196" width="1.5" height="61" fill="#e4daf8" fill-opacity="0.45"/>
<rect x="484.4" y="200" width="1.2" height="57" fill="#e4daf8" fill-opacity="0.3"/>
<rect x="481.0" y="219.5" width="15.9" height="1.8" fill="#e4daf8" fill-opacity="0.3"/>
<rect x="481.0" y="225.5" width="15.9" height="1.8" fill="#e4daf8" fill-opacity="0.3"/>
<rect x="481.0" y="230.5" width="15.9" height="1.8" fill="#e4daf8" fill-opacity="0.3"/>
<rect x="481.0" y="236" width="15.9" height="1.8" fill="#e4daf8" fill-opacity="0.3"/>
<rect x="481.0" y="243" width="15.9" height="1.8" fill="#e4daf8" fill-opacity="0.3"/>
<rect x="481.0" y="248" width="15.9" height="1.8" fill="#e4daf8" fill-opacity="0.3"/>
</g>
<path d="M389.7,85.7 C390.2,87.4 392,87.5 396,87.5 C400,87.5 401.8,87.4 402.3,85.7" fill="none" stroke="rgb(25,25,235)" stroke-width="1.9" filter="url(#bl)"/>
<g filter="url(#bl)" fill="none">
<path d="M517.6,233.4 Q525.5,233.8 532.6,230.6" stroke="rgb(95,25,235)" stroke-width="1.4" stroke-opacity="0.9"/>
<path d="M517.6,238.2 Q525.5,238.6 532.6,236.2" stroke="rgb(105,30,238)" stroke-width="1.0" stroke-opacity="0.28"/>
<path d="M517.6,243 Q525.5,243.4 532.6,241.4" stroke="rgb(105,30,238)" stroke-width="1.0" stroke-opacity="0.22"/>
</g>
<g filter="url(#bl)" fill="none" stroke-linejoin="round" stroke-linecap="round">
<path d="M350.5,238 L354.2,251.5 L357.4,243 L360.6,252 L364.6,234.5" stroke="rgb(105,30,238)" stroke-opacity="0.24" stroke-width="3.4"/>
<path d="M348,236 L352.6,233 L352.6,256.5 L348,256.5 Z" fill="rgb(105,30,238)" fill-opacity="0.18" stroke="none"/>
<path d="M445,243.8 L445.6,250.4 Q447.8,252.2 450.2,250.2 L453.4,245 L454,250.6 Q456.4,252.3 458.4,250.3 L459,244.5" stroke="rgb(105,30,238)" stroke-opacity="0.48" stroke-width="1.8"/>
</g>
<g filter="url(#bl)">
<path d="M333.0,120.30 Q337.3,121.20 341.6,120.10 L341.6,122.40 Q337.3,123.60 333.0,122.60 Z" fill="rgb(105,35,235)" fill-opacity="0.85"/>
<rect x="333.6" y="122.50" width="7.4" height="1.6" fill="rgb(105,35,235)" fill-opacity="0.17"/>
<path d="M333.0,127.30 Q337.3,128.20 341.6,127.10 L341.6,129.40 Q337.3,130.60 333.0,129.60 Z" fill="rgb(105,35,235)" fill-opacity="0.85"/>
<rect x="333.6" y="129.50" width="7.4" height="1.6" fill="rgb(105,35,235)" fill-opacity="0.17"/>
<path d="M333.0,133.95 Q337.3,134.85 341.6,133.75 L341.6,135.95 Q337.3,137.15 333.0,136.15 Z" fill="rgb(105,35,235)" fill-opacity="0.8"/>
<rect x="333.6" y="136.05" width="7.4" height="1.6" fill="rgb(105,35,235)" fill-opacity="0.16"/>
<path d="M333.0,142.70 Q337.3,143.60 341.6,142.50 L341.6,144.80 Q337.3,146.00 333.0,145.00 Z" fill="rgb(105,35,235)" fill-opacity="0.85"/>
<rect x="333.6" y="144.90" width="7.4" height="1.6" fill="rgb(105,35,235)" fill-opacity="0.17"/>
<path d="M333.0,148.30 Q337.3,149.20 341.6,148.10 L341.6,151.00 Q337.3,152.20 333.0,151.20 Z" fill="rgb(105,35,235)" fill-opacity="0.95"/>
<rect x="333.6" y="151.10" width="7.4" height="1.6" fill="rgb(105,35,235)" fill-opacity="0.19"/>
<path d="M333.0,162.40 Q337.3,163.30 341.6,162.20 L341.6,164.90 Q337.3,166.10 333.0,165.10 Z" fill="rgb(105,35,235)" fill-opacity="0.9"/>
<rect x="333.6" y="165.00" width="7.4" height="1.6" fill="rgb(105,35,235)" fill-opacity="0.18"/>
<path d="M333.0,168.10 Q337.3,169.00 341.6,167.90 L341.6,170.80 Q337.3,172.00 333.0,171.00 Z" fill="rgb(105,35,235)" fill-opacity="0.9"/>
<rect x="333.6" y="170.90" width="7.4" height="1.6" fill="rgb(105,35,235)" fill-opacity="0.18"/>
<path d="M333.0,183.80 Q337.3,184.70 341.6,183.60 L341.6,188.90 Q337.3,190.10 333.0,189.10 Z" fill="rgb(105,35,235)" fill-opacity="1.0"/>
<rect x="333.6" y="189.00" width="7.4" height="1.6" fill="rgb(105,35,235)" fill-opacity="0.20"/>
<path d="M333.0,198.30 Q337.3,199.20 341.6,198.10 L341.6,201.00 Q337.3,202.20 333.0,201.20 Z" fill="rgb(105,35,235)" fill-opacity="1.0"/>
<rect x="333.6" y="201.10" width="7.4" height="1.6" fill="rgb(105,35,235)" fill-opacity="0.20"/>
<path d="M333.0,213.50 Q337.3,214.40 341.6,213.30 L341.6,216.00 Q337.3,217.20 333.0,216.20 Z" fill="rgb(105,35,235)" fill-opacity="1.0"/>
<rect x="333.6" y="216.10" width="7.4" height="1.6" fill="rgb(105,35,235)" fill-opacity="0.20"/>
<path d="M333.0,229.20 Q337.3,230.10 341.6,229.00 L341.6,231.90 Q337.3,233.10 333.0,232.10 Z" fill="rgb(105,35,235)" fill-opacity="1.0"/>
<rect x="333.6" y="232.00" width="7.4" height="1.6" fill="rgb(105,35,235)" fill-opacity="0.20"/>
<path d="M333.0,235.70 Q337.3,236.60 341.6,235.50 L341.6,238.40 Q337.3,239.60 333.0,238.60 Z" fill="rgb(105,35,235)" fill-opacity="1.0"/>
<rect x="333.6" y="238.50" width="7.4" height="1.6" fill="rgb(105,35,235)" fill-opacity="0.20"/>
<path d="M333.0,248.70 Q337.3,249.60 341.6,248.50 L341.6,250.80 Q337.3,252.00 333.0,251.00 Z" fill="rgb(105,35,235)" fill-opacity="0.95"/>
<rect x="333.6" y="250.90" width="7.4" height="1.6" fill="rgb(105,35,235)" fill-opacity="0.19"/>
<path d="M333.0,255.30 Q337.3,256.20 341.6,255.10 L341.6,257.60 Q337.3,258.80 333.0,257.80 Z" fill="rgb(105,35,235)" fill-opacity="1.0"/>
<rect x="333.6" y="257.70" width="7.4" height="1.6" fill="rgb(105,35,235)" fill-opacity="0.20"/>
</g>
<path d="M356.0,85.3 Q360.2,86.9 364.5,85.3" fill="none" stroke="#555555" stroke-width="0.9" opacity="0.85"/>
<path d="M373.5,85.3 Q378.2,86.9 383,85.3" fill="none" stroke="#888888" stroke-width="0.9" opacity="0.85"/>
<path d="M409,85.3 Q414.0,86.9 419,85.3" fill="none" stroke="#8a7a6a" stroke-width="0.9" opacity="0.85"/>
<path d="M427.6,85.3 Q432.7,86.9 437.8,85.3" fill="none" stroke="#8a7a6a" stroke-width="0.9" opacity="0.85"/>
<path d="M445.8,85.3 Q450.9,86.9 456,85.3" fill="none" stroke="#3a3a90" stroke-width="0.9" opacity="0.85"/>
<path d="M464,85.3 Q469.0,86.9 474,85.3" fill="none" stroke="#3a3a90" stroke-width="0.9" opacity="0.85"/>
<path d="M481.8,85.3 Q487.4,86.9 493,85.3" fill="none" stroke="#777777" stroke-width="0.9" opacity="0.85"/>
<path d="M498.9,85.3 Q504.2,86.9 509.5,85.3" fill="none" stroke="#8a8a8a" stroke-width="0.9" opacity="0.85"/>
<path d="M517.8,85.3 Q522.5,86.9 527.3,85.3" fill="none" stroke="#8a8a8a" stroke-width="0.9" opacity="0.85"/>
<path d="M323,85.4 Q326,88.4 330,88.3" fill="none" stroke="#3a2018" stroke-width="1.1" opacity="0.9"/>
<path d="M330,88.3 Q335,87.6 340.5,86.3" fill="none" stroke="#777" stroke-width="0.7" opacity="0.8"/>
<path d="M528,87.2 Q531,94 536,98 Q540,101 541,104" fill="none" stroke="#555" stroke-width="0.6" opacity="0.7"/>
<ellipse cx="507.8" cy="127" rx="12" ry="16.5" fill="#e8c8c0" fill-opacity="0.06" stroke="#dcbcb4" stroke-width="0.6" opacity="0.45"/>
<text x="321.8" y="105.5" font-size="6.0" fill="#2a2a2a">kDa</text>
<text x="331.2" y="120.0" font-size="6.0" fill="#2a2a2a" text-anchor="end">200</text>
<text x="331.2" y="126.5" font-size="6.0" fill="#2a2a2a" text-anchor="end">150</text>
<text x="331.2" y="133.1" font-size="6.0" fill="#2a2a2a" text-anchor="end">120</text>
<text x="331.2" y="140.1" font-size="6.0" fill="#2a2a2a" text-anchor="end">100</text>
<text x="331.2" y="146.6" font-size="6.0" fill="#2a2a2a" text-anchor="end">85</text>
<text x="331.2" y="160.5" font-size="6.0" fill="#2a2a2a" text-anchor="end">70</text>
<text x="331.2" y="167.1" font-size="6.0" fill="#2a2a2a" text-anchor="end">60</text>
<text x="331.2" y="181.2" font-size="6.0" fill="#2a2a2a" text-anchor="end">50</text>
<text x="331.2" y="194.7" font-size="6.0" fill="#2a2a2a" text-anchor="end">40</text>
<text x="331.2" y="208.7" font-size="6.0" fill="#2a2a2a" text-anchor="end">30</text>
<text x="331.2" y="228.4" font-size="6.0" fill="#2a2a2a" text-anchor="end">25</text>
<text x="331.2" y="234.9" font-size="6.0" fill="#2a2a2a" text-anchor="end">20</text>
<text x="331.2" y="248.5" font-size="6.0" fill="#2a2a2a" text-anchor="end">15</text>
<text x="331.2" y="254.7" font-size="6.0" fill="#2a2a2a" text-anchor="end">10</text>
<line x1="346.2" y1="154.9" x2="540.6" y2="154.9" stroke="#3a80c4" stroke-width="1.15"/>
<line x1="346.2" y1="170.0" x2="540.6" y2="170.0" stroke="#3a80c4" stroke-width="1.15"/>
<text x="5.6" y="15" font-size="10.1" font-weight="bold" class="b">A</text>
<text x="307.6" y="15.3" font-size="10.1" font-weight="bold" class="b">B</text>
<rect x="188" y="74.8" width="7.599999999999994" height="181.2" fill="#ededed"/>
<rect x="206.6" y="74.8" width="5.200000000000017" height="181.2" fill="#e8e8e8"/>
<rect x="215.2" y="74.8" width="5.600000000000023" height="181.2" fill="#e8e8e8"/>
<text transform="translate(192.6,72.3) rotate(-90)" font-size="7.2" class="t">Fraction 1</text>
<text transform="translate(212.6,72.3) rotate(-90)" font-size="7.2" class="t">Fraction 2</text>
<text transform="translate(221.4,72.3) rotate(-90)" font-size="7.2" class="t">Fraction 3</text>
<line x1="251" y1="34.5" x2="260.5" y2="34.5" stroke="#555" stroke-width="1.3"/>
<text x="265.4" y="36.8" font-size="6.5" class="t">UV</text>
<line x1="251" y1="42.9" x2="262.5" y2="42.9" stroke="#c4c4c4" stroke-width="1.3"/>
<text x="265.4" y="45.2" font-size="6.3" class="t">Conc B</text>
<text x="17.4" y="67.6" font-size="7.2" class="t">mAU</text>
<text x="248.6" y="66.8" font-size="7.2" class="t">%</text>
<polyline points="56.4,256.0 56.4,241.0 56.4,256.0 185.0,256.0 185.0,210.6 205.3,210.6 205.3,174.5 247.2,174.5" fill="none" stroke="#b0b0b0" stroke-width="0.9"/>
<polyline points="56.0,255.6 60.5,255.6 61.2,254.0 64.0,222.0 68.1,185.0 69.6,176.5 71.3,169.0 73.2,163.7 75.5,157.5 77.8,153.2 80.0,151.6 85.0,150.4 95.0,148.8 105.0,147.4 120.0,145.6 135.0,143.9 141.0,143.2 143.5,142.6 144.6,141.3 145.3,142.5 146.2,177.0 147.0,172.0 147.8,132.7 148.8,165.0 150.4,246.0 151.3,249.3 152.3,246.5 153.3,244.2 154.6,242.9 155.7,240.8 156.5,240.4 157.4,242.0 158.4,246.5 159.1,250.5 160.4,254.8 162.0,255.6 186.8,255.6 187.6,254.5 188.2,248.0 188.9,225.0 189.3,190.0 189.6,140.0 190.1,108.0 190.9,84.0 191.4,74.6 191.9,86.0 192.4,105.0 192.8,140.0 193.0,190.0 193.3,215.0 193.8,226.0 194.3,231.4 195.8,239.5 197.6,244.6 200.9,249.6 205.0,251.3 208.1,252.0 209.9,252.0 210.8,245.0 211.5,233.0 211.9,230.6 212.4,234.0 213.2,243.8 214.6,248.6 216.4,251.2 220.0,252.8 224.7,253.8 232.0,254.6 241.0,255.2 247.0,255.4" fill="none" stroke="#3c3c3c" stroke-width="1.05" stroke-linejoin="round"/>
<line x1="35.5" y1="74.5" x2="35.5" y2="256.6" stroke="#606060" stroke-width="0.9"/>
<line x1="34.7" y1="256.4" x2="247.6" y2="256.4" stroke="#3a3a3a" stroke-width="1.1"/>
<line x1="247.2" y1="74.2" x2="247.2" y2="256.4" stroke="#606060" stroke-width="0.9"/>
<line x1="34.4" y1="256.00" x2="36.8" y2="256.00" stroke="#222" stroke-width="1.1"/>
<text x="34.5" y="258.70" font-size="7.4" class="t" text-anchor="end">0</text>
<line x1="34.5" y1="248.42" x2="36.6" y2="248.42" stroke="#222" stroke-width="1.0"/>
<line x1="34.4" y1="240.85" x2="36.8" y2="240.85" stroke="#222" stroke-width="1.1"/>
<text x="34.5" y="243.55" font-size="7.4" class="t" text-anchor="end">200</text>
<line x1="34.5" y1="233.27" x2="36.6" y2="233.27" stroke="#222" stroke-width="1.0"/>
<line x1="34.4" y1="225.69" x2="36.8" y2="225.69" stroke="#222" stroke-width="1.1"/>
<text x="34.5" y="228.39" font-size="7.4" class="t" text-anchor="end">400</text>
<line x1="34.5" y1="218.12" x2="36.6" y2="218.12" stroke="#222" stroke-width="1.0"/>
<line x1="34.4" y1="210.54" x2="36.8" y2="210.54" stroke="#222" stroke-width="1.1"/>
<text x="34.5" y="213.24" font-size="7.4" class="t" text-anchor="end">600</text>
<line x1="34.5" y1="202.96" x2="36.6" y2="202.96" stroke="#222" stroke-width="1.0"/>
<line x1="34.4" y1="195.38" x2="36.8" y2="195.38" stroke="#222" stroke-width="1.1"/>
<text x="34.5" y="198.08" font-size="7.4" class="t" text-anchor="end">800</text>
<line x1="34.5" y1="187.81" x2="36.6" y2="187.81" stroke="#222" stroke-width="1.0"/>
<line x1="34.4" y1="180.23" x2="36.8" y2="180.23" stroke="#222" stroke-width="1.1"/>
<text x="34.5" y="182.93" font-size="7.4" class="t" text-anchor="end">1000</text>
<line x1="34.5" y1="172.65" x2="36.6" y2="172.65" stroke="#222" stroke-width="1.0"/>
<line x1="34.4" y1="165.08" x2="36.8" y2="165.08" stroke="#222" stroke-width="1.1"/>
<text x="34.5" y="167.78" font-size="7.4" class="t" text-anchor="end">1200</text>
<line x1="34.5" y1="157.50" x2="36.6" y2="157.50" stroke="#222" stroke-width="1.0"/>
<line x1="34.4" y1="149.92" x2="36.8" y2="149.92" stroke="#222" stroke-width="1.1"/>
<text x="34.5" y="152.62" font-size="7.4" class="t" text-anchor="end">1400</text>
<line x1="34.5" y1="142.34" x2="36.6" y2="142.34" stroke="#222" stroke-width="1.0"/>
<line x1="34.4" y1="134.77" x2="36.8" y2="134.77" stroke="#222" stroke-width="1.1"/>
<text x="34.5" y="137.47" font-size="7.4" class="t" text-anchor="end">1600</text>
<line x1="34.5" y1="127.19" x2="36.6" y2="127.19" stroke="#222" stroke-width="1.0"/>
<line x1="34.4" y1="119.61" x2="36.8" y2="119.61" stroke="#222" stroke-width="1.1"/>
<text x="34.5" y="122.31" font-size="7.4" class="t" text-anchor="end">1800</text>
<line x1="34.5" y1="112.04" x2="36.6" y2="112.04" stroke="#222" stroke-width="1.0"/>
<line x1="34.4" y1="104.46" x2="36.8" y2="104.46" stroke="#222" stroke-width="1.1"/>
<text x="34.5" y="107.16" font-size="7.4" class="t" text-anchor="end">2000</text>
<line x1="34.5" y1="96.88" x2="36.6" y2="96.88" stroke="#222" stroke-width="1.0"/>
<line x1="34.4" y1="89.31" x2="36.8" y2="89.31" stroke="#222" stroke-width="1.1"/>
<text x="34.5" y="92.01" font-size="7.4" class="t" text-anchor="end">2200</text>
<line x1="34.5" y1="81.73" x2="36.6" y2="81.73" stroke="#222" stroke-width="1.0"/>
<line x1="246" y1="256.00" x2="248.6" y2="256.00" stroke="#3a3a3a" stroke-width="1"/>
<text x="249.0" y="258.70" font-size="7.4" class="t">0</text>
<line x1="246.2" y1="246.90" x2="248.2" y2="246.90" stroke="#3a3a3a" stroke-width="0.8"/>
<line x1="246" y1="237.80" x2="248.6" y2="237.80" stroke="#3a3a3a" stroke-width="1"/>
<text x="249.0" y="240.50" font-size="7.4" class="t">10</text>
<line x1="246.2" y1="228.70" x2="248.2" y2="228.70" stroke="#3a3a3a" stroke-width="0.8"/>
<line x1="246" y1="219.60" x2="248.6" y2="219.60" stroke="#3a3a3a" stroke-width="1"/>
<text x="249.0" y="222.30" font-size="7.4" class="t">20</text>
<line x1="246.2" y1="210.50" x2="248.2" y2="210.50" stroke="#3a3a3a" stroke-width="0.8"/>
<line x1="246" y1="201.40" x2="248.6" y2="201.40" stroke="#3a3a3a" stroke-width="1"/>
<text x="249.0" y="204.10" font-size="7.4" class="t">30</text>
<line x1="246.2" y1="192.30" x2="248.2" y2="192.30" stroke="#3a3a3a" stroke-width="0.8"/>
<line x1="246" y1="183.20" x2="248.6" y2="183.20" stroke="#3a3a3a" stroke-width="1"/>
<text x="249.0" y="185.90" font-size="7.4" class="t">40</text>
<line x1="246.2" y1="174.10" x2="248.2" y2="174.10" stroke="#3a3a3a" stroke-width="0.8"/>
<line x1="246" y1="165.00" x2="248.6" y2="165.00" stroke="#3a3a3a" stroke-width="1"/>
<text x="249.0" y="167.70" font-size="7.4" class="t">50</text>
<line x1="246.2" y1="155.90" x2="248.2" y2="155.90" stroke="#3a3a3a" stroke-width="0.8"/>
<line x1="246" y1="146.80" x2="248.6" y2="146.80" stroke="#3a3a3a" stroke-width="1"/>
<text x="249.0" y="149.50" font-size="7.4" class="t">60</text>
<line x1="246.2" y1="137.70" x2="248.2" y2="137.70" stroke="#3a3a3a" stroke-width="0.8"/>
<line x1="246" y1="128.60" x2="248.6" y2="128.60" stroke="#3a3a3a" stroke-width="1"/>
<text x="249.0" y="131.30" font-size="7.4" class="t">70</text>
<line x1="246.2" y1="119.50" x2="248.2" y2="119.50" stroke="#3a3a3a" stroke-width="0.8"/>
<line x1="246" y1="110.40" x2="248.6" y2="110.40" stroke="#3a3a3a" stroke-width="1"/>
<text x="249.0" y="113.10" font-size="7.4" class="t">80</text>
<line x1="246.2" y1="101.30" x2="248.2" y2="101.30" stroke="#3a3a3a" stroke-width="0.8"/>
<line x1="246" y1="92.20" x2="248.6" y2="92.20" stroke="#3a3a3a" stroke-width="1"/>
<text x="249.0" y="94.90" font-size="7.4" class="t">90</text>
<line x1="246.2" y1="83.10" x2="248.2" y2="83.10" stroke="#3a3a3a" stroke-width="0.8"/>
<line x1="246" y1="74.00" x2="248.6" y2="74.00" stroke="#3a3a3a" stroke-width="1"/>
<text x="249.0" y="76.70" font-size="7.4" class="t">100</text>
<line x1="35.50" y1="255" x2="35.50" y2="257.6" stroke="#3a3a3a" stroke-width="1"/>
<text x="35.30" y="268.9" font-size="7.4" class="t" text-anchor="middle">−5</text>
<line x1="45.80" y1="255" x2="45.80" y2="257.6" stroke="#3a3a3a" stroke-width="1"/>
<line x1="56.10" y1="255" x2="56.10" y2="257.6" stroke="#3a3a3a" stroke-width="1"/>
<text x="57.80" y="268.9" font-size="7.4" class="t" text-anchor="middle">0</text>
<line x1="66.40" y1="255" x2="66.40" y2="257.6" stroke="#3a3a3a" stroke-width="1"/>
<line x1="76.70" y1="255" x2="76.70" y2="257.6" stroke="#3a3a3a" stroke-width="1"/>
<text x="78.60" y="268.9" font-size="7.4" class="t" text-anchor="middle">5</text>
<line x1="87.00" y1="255" x2="87.00" y2="257.6" stroke="#3a3a3a" stroke-width="1"/>
<line x1="97.30" y1="255" x2="97.30" y2="257.6" stroke="#3a3a3a" stroke-width="1"/>
<text x="98.10" y="268.9" font-size="7.4" class="t" text-anchor="middle">10</text>
<line x1="107.60" y1="255" x2="107.60" y2="257.6" stroke="#3a3a3a" stroke-width="1"/>
<line x1="117.90" y1="255" x2="117.90" y2="257.6" stroke="#3a3a3a" stroke-width="1"/>
<text x="119.00" y="268.9" font-size="7.4" class="t" text-anchor="middle">15</text>
<line x1="128.20" y1="255" x2="128.20" y2="257.6" stroke="#3a3a3a" stroke-width="1"/>
<line x1="138.50" y1="255" x2="138.50" y2="257.6" stroke="#3a3a3a" stroke-width="1"/>
<text x="138.30" y="268.9" font-size="7.4" class="t" text-anchor="middle">20</text>
<line x1="148.80" y1="255" x2="148.80" y2="257.6" stroke="#3a3a3a" stroke-width="1"/>
<line x1="159.10" y1="255" x2="159.10" y2="257.6" stroke="#3a3a3a" stroke-width="1"/>
<text x="158.00" y="268.9" font-size="7.4" class="t" text-anchor="middle">25</text>
<line x1="169.40" y1="255" x2="169.40" y2="257.6" stroke="#3a3a3a" stroke-width="1"/>
<line x1="179.70" y1="255" x2="179.70" y2="257.6" stroke="#3a3a3a" stroke-width="1"/>
<text x="178.90" y="268.9" font-size="7.4" class="t" text-anchor="middle">30</text>
<line x1="190.00" y1="255" x2="190.00" y2="257.6" stroke="#3a3a3a" stroke-width="1"/>
<line x1="200.30" y1="255" x2="200.30" y2="257.6" stroke="#3a3a3a" stroke-width="1"/>
<text x="200.00" y="268.9" font-size="7.4" class="t" text-anchor="middle">35</text>
<line x1="210.60" y1="255" x2="210.60" y2="257.6" stroke="#3a3a3a" stroke-width="1"/>
<line x1="220.90" y1="255" x2="220.90" y2="257.6" stroke="#3a3a3a" stroke-width="1"/>
<text x="221.10" y="268.9" font-size="7.4" class="t" text-anchor="middle">40</text>
<line x1="231.20" y1="255" x2="231.20" y2="257.6" stroke="#3a3a3a" stroke-width="1"/>
<line x1="241.50" y1="255" x2="241.50" y2="257.6" stroke="#3a3a3a" stroke-width="1"/>
<text x="240.60" y="268.9" font-size="7.4" class="t" text-anchor="middle">45</text>
<text x="400.8" y="18.4" font-size="7.6" class="t" text-anchor="middle">hypothermic</text>
<text x="400.8" y="27.6" font-size="7.5" class="t" text-anchor="middle">cultivation (32°C)</text>
<text x="498" y="18.4" font-size="7.6" class="t" text-anchor="middle">standard</text>
<text x="498" y="27.6" font-size="7.5" class="t" text-anchor="middle">cultivation (37°C)</text>
<line x1="353.6" y1="32.4" x2="448.5" y2="32.4" stroke="#707070" stroke-width="0.9"/>
<line x1="455.2" y1="32.4" x2="541.2" y2="32.4" stroke="#707070" stroke-width="0.9"/>
<text transform="translate(360.0,79.0) rotate(-45)" font-size="6.45" class="t">culture supernatant</text>
<text transform="translate(378.5,79.0) rotate(-45)" font-size="6.45" class="t">post TFF &amp; 1:5 dil.</text>
<text transform="translate(396.5,79.0) rotate(-45)" font-size="6.45" class="t">Fraction 1</text>
<text transform="translate(415.0,79.0) rotate(-45)" font-size="6.45" class="t">Fraction 2</text>
<text transform="translate(434.8,79.0) rotate(-45)" font-size="6.45" class="t">Fraction 3</text>
<text transform="translate(452.8,79.0) rotate(-45)" font-size="6.45" class="t">culture supernatant</text>
<text transform="translate(470.0,79.0) rotate(-45)" font-size="6.45" class="t">post TFF &amp; 1:10 dil.</text>
<text transform="translate(488.8,79.0) rotate(-45)" font-size="6.45" class="t">Fraction 1</text>
<text transform="translate(506.0,79.0) rotate(-45)" font-size="6.45" class="t">Fraction 2</text>
<text transform="translate(524.5,79.0) rotate(-45)" font-size="6.45" class="t">Fraction 3</text>
<text x="309" y="85.2" font-size="7.2" font-weight="bold" class="b">lane</text>
<text x="337.2" y="84.8" font-size="7.2" font-weight="bold" class="b" text-anchor="middle">1</text>
<text x="359.5" y="84.8" font-size="7.2" font-weight="bold" class="b" text-anchor="middle">2</text>
<text x="378.2" y="84.8" font-size="7.2" font-weight="bold" class="b" text-anchor="middle">3</text>
<text x="395.7" y="84.8" font-size="7.2" font-weight="bold" class="b" text-anchor="middle">4</text>
<text x="414.3" y="84.8" font-size="7.2" font-weight="bold" class="b" text-anchor="middle">5</text>
<text x="433.4" y="84.8" font-size="7.2" font-weight="bold" class="b" text-anchor="middle">6</text>
<text x="451.9" y="84.8" font-size="7.2" font-weight="bold" class="b" text-anchor="middle">7</text>
<text x="469.3" y="84.8" font-size="7.2" font-weight="bold" class="b" text-anchor="middle">8</text>
<text x="488.3" y="84.8" font-size="7.2" font-weight="bold" class="b" text-anchor="middle">9</text>
<text x="506.6" y="84.8" font-size="7.2" font-weight="bold" class="b" text-anchor="middle">10</text>
<text x="525.6" y="84.8" font-size="7.2" font-weight="bold" class="b" text-anchor="middle">11</text>
</svg>
</body></html>
